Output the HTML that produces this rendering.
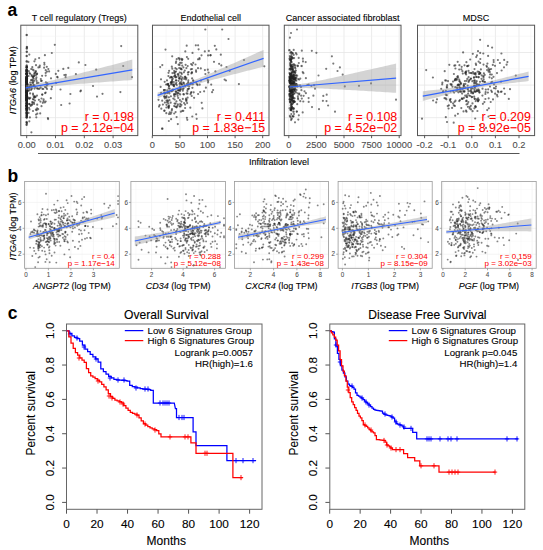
<!DOCTYPE html>
<html><head><meta charset="utf-8"><style>
html,body{margin:0;padding:0;background:#fff;}
svg{display:block;}
text{font-family:"Liberation Sans",sans-serif;}
</style></head><body>
<svg width="543" height="550" viewBox="0 0 543 550">
<rect width="543" height="550" fill="#fff"/>
<text x="7.60" y="15.90" font-size="17.5" text-anchor="start" fill="#000" font-weight="bold">a</text>
<text x="7.40" y="182.40" font-size="17.5" text-anchor="start" fill="#000" font-weight="bold">b</text>
<text x="7.70" y="319.00" font-size="17.5" text-anchor="start" fill="#000" font-weight="bold">c</text>
<rect x="20.8" y="25.2" width="117.00000000000001" height="110.39999999999999" fill="#fff"/>
<line x1="26.70" y1="25.2" x2="26.70" y2="135.6" stroke="#e6e6e6" stroke-width="0.8"/>
<line x1="41.10" y1="25.2" x2="41.10" y2="135.6" stroke="#f0f0f0" stroke-width="0.5"/>
<line x1="55.50" y1="25.2" x2="55.50" y2="135.6" stroke="#e6e6e6" stroke-width="0.8"/>
<line x1="69.90" y1="25.2" x2="69.90" y2="135.6" stroke="#f0f0f0" stroke-width="0.5"/>
<line x1="84.30" y1="25.2" x2="84.30" y2="135.6" stroke="#e6e6e6" stroke-width="0.8"/>
<line x1="98.70" y1="25.2" x2="98.70" y2="135.6" stroke="#f0f0f0" stroke-width="0.5"/>
<line x1="113.10" y1="25.2" x2="113.10" y2="135.6" stroke="#e6e6e6" stroke-width="0.8"/>
<line x1="127.50" y1="25.2" x2="127.50" y2="135.6" stroke="#f0f0f0" stroke-width="0.5"/>
<line x1="20.8" y1="52.50" x2="137.8" y2="52.50" stroke="#e6e6e6" stroke-width="0.8"/>
<line x1="20.8" y1="85.10" x2="137.8" y2="85.10" stroke="#e6e6e6" stroke-width="0.8"/>
<line x1="20.8" y1="117.70" x2="137.8" y2="117.70" stroke="#e6e6e6" stroke-width="0.8"/>
<line x1="20.8" y1="36.20" x2="137.8" y2="36.20" stroke="#f0f0f0" stroke-width="0.5"/>
<line x1="20.8" y1="68.80" x2="137.8" y2="68.80" stroke="#f0f0f0" stroke-width="0.5"/>
<line x1="20.8" y1="101.40" x2="137.8" y2="101.40" stroke="#f0f0f0" stroke-width="0.5"/>
<line x1="20.8" y1="134.00" x2="137.8" y2="134.00" stroke="#f0f0f0" stroke-width="0.5"/>
<g fill="#222" fill-opacity="0.62"><circle cx="31.4" cy="132.3" r="1.08"/><circle cx="39.1" cy="58.1" r="1.08"/><circle cx="32.8" cy="102.6" r="1.08"/><circle cx="26.7" cy="95.0" r="1.08"/><circle cx="26.6" cy="89.9" r="1.08"/><circle cx="61.2" cy="105.0" r="1.08"/><circle cx="26.7" cy="94.8" r="1.08"/><circle cx="31.0" cy="90.0" r="1.08"/><circle cx="38.2" cy="109.2" r="1.08"/><circle cx="26.7" cy="117.2" r="1.08"/><circle cx="26.6" cy="80.0" r="1.08"/><circle cx="26.8" cy="99.7" r="1.08"/><circle cx="26.8" cy="78.5" r="1.08"/><circle cx="26.8" cy="113.7" r="1.08"/><circle cx="26.7" cy="86.9" r="1.08"/><circle cx="43.6" cy="99.4" r="1.08"/><circle cx="39.7" cy="67.1" r="1.08"/><circle cx="30.3" cy="97.9" r="1.08"/><circle cx="34.5" cy="85.4" r="1.08"/><circle cx="54.8" cy="44.8" r="1.08"/><circle cx="26.6" cy="73.6" r="1.08"/><circle cx="26.8" cy="92.7" r="1.08"/><circle cx="57.6" cy="77.4" r="1.08"/><circle cx="26.7" cy="86.6" r="1.08"/><circle cx="26.8" cy="82.4" r="1.08"/><circle cx="26.6" cy="86.2" r="1.08"/><circle cx="26.6" cy="81.7" r="1.08"/><circle cx="37.4" cy="88.5" r="1.08"/><circle cx="33.0" cy="111.0" r="1.08"/><circle cx="26.7" cy="66.9" r="1.08"/><circle cx="26.8" cy="89.6" r="1.08"/><circle cx="26.7" cy="85.8" r="1.08"/><circle cx="26.6" cy="97.2" r="1.08"/><circle cx="26.6" cy="79.1" r="1.08"/><circle cx="46.8" cy="85.6" r="1.08"/><circle cx="26.7" cy="78.0" r="1.08"/><circle cx="26.5" cy="99.7" r="1.08"/><circle cx="26.8" cy="51.8" r="1.08"/><circle cx="29.9" cy="117.4" r="1.08"/><circle cx="26.8" cy="95.6" r="1.08"/><circle cx="26.7" cy="87.9" r="1.08"/><circle cx="40.8" cy="79.0" r="1.08"/><circle cx="26.6" cy="98.4" r="1.08"/><circle cx="35.7" cy="96.8" r="1.08"/><circle cx="33.5" cy="85.1" r="1.08"/><circle cx="42.1" cy="75.8" r="1.08"/><circle cx="26.6" cy="106.2" r="1.08"/><circle cx="34.4" cy="61.3" r="1.08"/><circle cx="26.6" cy="81.2" r="1.08"/><circle cx="41.5" cy="98.5" r="1.08"/><circle cx="26.8" cy="108.7" r="1.08"/><circle cx="30.1" cy="93.4" r="1.08"/><circle cx="26.8" cy="76.2" r="1.08"/><circle cx="26.7" cy="83.0" r="1.08"/><circle cx="26.6" cy="84.8" r="1.08"/><circle cx="26.7" cy="71.2" r="1.08"/><circle cx="34.6" cy="97.3" r="1.08"/><circle cx="26.7" cy="35.0" r="1.08"/><circle cx="70.4" cy="94.0" r="1.08"/><circle cx="33.0" cy="93.5" r="1.08"/><circle cx="37.1" cy="73.6" r="1.08"/><circle cx="40.7" cy="87.4" r="1.08"/><circle cx="30.4" cy="85.0" r="1.08"/><circle cx="26.7" cy="101.2" r="1.08"/><circle cx="26.8" cy="86.8" r="1.08"/><circle cx="26.6" cy="91.6" r="1.08"/><circle cx="26.7" cy="80.7" r="1.08"/><circle cx="26.6" cy="112.8" r="1.08"/><circle cx="33.3" cy="81.7" r="1.08"/><circle cx="26.8" cy="77.2" r="1.08"/><circle cx="37.2" cy="88.3" r="1.08"/><circle cx="26.8" cy="99.9" r="1.08"/><circle cx="80.4" cy="91.3" r="1.08"/><circle cx="46.8" cy="66.8" r="1.08"/><circle cx="26.7" cy="108.2" r="1.08"/><circle cx="29.0" cy="107.8" r="1.08"/><circle cx="33.1" cy="76.6" r="1.08"/><circle cx="75.9" cy="74.2" r="1.08"/><circle cx="29.3" cy="104.2" r="1.08"/><circle cx="26.7" cy="92.9" r="1.08"/><circle cx="26.6" cy="124.8" r="1.08"/><circle cx="47.0" cy="89.0" r="1.08"/><circle cx="29.2" cy="103.9" r="1.08"/><circle cx="26.8" cy="82.6" r="1.08"/><circle cx="45.7" cy="72.9" r="1.08"/><circle cx="45.7" cy="70.2" r="1.08"/><circle cx="33.7" cy="70.4" r="1.08"/><circle cx="26.8" cy="86.4" r="1.08"/><circle cx="26.6" cy="95.3" r="1.08"/><circle cx="26.6" cy="88.9" r="1.08"/><circle cx="26.7" cy="79.9" r="1.08"/><circle cx="132.0" cy="77.2" r="1.08"/><circle cx="26.6" cy="84.3" r="1.08"/><circle cx="31.7" cy="76.2" r="1.08"/><circle cx="26.6" cy="73.8" r="1.08"/><circle cx="28.6" cy="112.9" r="1.08"/><circle cx="26.7" cy="99.1" r="1.08"/><circle cx="26.6" cy="70.8" r="1.08"/><circle cx="26.6" cy="90.1" r="1.08"/><circle cx="26.7" cy="100.0" r="1.08"/><circle cx="51.4" cy="89.2" r="1.08"/><circle cx="38.9" cy="99.8" r="1.08"/><circle cx="26.6" cy="77.0" r="1.08"/><circle cx="28.4" cy="84.6" r="1.08"/><circle cx="97.0" cy="96.6" r="1.08"/><circle cx="26.8" cy="93.9" r="1.08"/><circle cx="28.8" cy="90.6" r="1.08"/><circle cx="35.9" cy="71.2" r="1.08"/><circle cx="26.7" cy="103.2" r="1.08"/><circle cx="26.7" cy="112.4" r="1.08"/><circle cx="47.9" cy="118.1" r="1.08"/><circle cx="65.6" cy="77.2" r="1.08"/><circle cx="26.6" cy="83.4" r="1.08"/><circle cx="65.8" cy="74.9" r="1.08"/><circle cx="26.6" cy="91.0" r="1.08"/><circle cx="28.4" cy="97.6" r="1.08"/><circle cx="28.6" cy="90.6" r="1.08"/><circle cx="26.8" cy="102.8" r="1.08"/><circle cx="26.6" cy="107.5" r="1.08"/><circle cx="29.5" cy="109.4" r="1.08"/><circle cx="26.7" cy="74.1" r="1.08"/><circle cx="34.6" cy="96.1" r="1.08"/><circle cx="36.0" cy="65.2" r="1.08"/><circle cx="26.7" cy="61.4" r="1.08"/><circle cx="31.4" cy="86.4" r="1.08"/><circle cx="26.8" cy="92.9" r="1.08"/><circle cx="26.6" cy="85.0" r="1.08"/><circle cx="26.7" cy="117.4" r="1.08"/><circle cx="26.6" cy="92.7" r="1.08"/><circle cx="26.6" cy="81.6" r="1.08"/><circle cx="38.4" cy="82.8" r="1.08"/><circle cx="45.9" cy="82.3" r="1.08"/><circle cx="26.7" cy="81.5" r="1.08"/><circle cx="26.6" cy="95.8" r="1.08"/><circle cx="47.0" cy="71.6" r="1.08"/><circle cx="26.7" cy="85.4" r="1.08"/><circle cx="39.6" cy="88.6" r="1.08"/><circle cx="26.7" cy="101.7" r="1.08"/><circle cx="33.7" cy="78.6" r="1.08"/><circle cx="37.0" cy="74.2" r="1.08"/><circle cx="29.0" cy="86.8" r="1.08"/><circle cx="31.9" cy="105.1" r="1.08"/><circle cx="26.8" cy="90.8" r="1.08"/><circle cx="35.9" cy="109.7" r="1.08"/><circle cx="26.7" cy="79.1" r="1.08"/><circle cx="51.0" cy="78.3" r="1.08"/><circle cx="26.7" cy="73.8" r="1.08"/><circle cx="26.7" cy="86.7" r="1.08"/><circle cx="26.6" cy="97.5" r="1.08"/><circle cx="78.8" cy="62.4" r="1.08"/><circle cx="26.6" cy="82.7" r="1.08"/><circle cx="30.2" cy="82.7" r="1.08"/><circle cx="32.3" cy="79.6" r="1.08"/><circle cx="34.5" cy="88.6" r="1.08"/><circle cx="51.8" cy="53.0" r="1.08"/><circle cx="45.1" cy="93.2" r="1.08"/><circle cx="26.6" cy="69.3" r="1.08"/><circle cx="26.7" cy="92.4" r="1.08"/><circle cx="26.7" cy="91.3" r="1.08"/><circle cx="26.7" cy="82.8" r="1.08"/><circle cx="26.7" cy="78.4" r="1.08"/><circle cx="68.3" cy="67.9" r="1.08"/><circle cx="29.8" cy="87.5" r="1.08"/><circle cx="26.6" cy="74.2" r="1.08"/><circle cx="42.1" cy="94.6" r="1.08"/><circle cx="26.7" cy="98.5" r="1.08"/><circle cx="36.0" cy="75.0" r="1.08"/><circle cx="30.2" cy="73.8" r="1.08"/><circle cx="26.7" cy="104.0" r="1.08"/><circle cx="121.2" cy="46.1" r="1.08"/><circle cx="26.7" cy="79.3" r="1.08"/><circle cx="31.0" cy="80.2" r="1.08"/><circle cx="28.6" cy="76.0" r="1.08"/><circle cx="26.7" cy="95.2" r="1.08"/><circle cx="26.7" cy="116.0" r="1.08"/><circle cx="26.7" cy="83.9" r="1.08"/><circle cx="45.7" cy="101.5" r="1.08"/><circle cx="46.3" cy="87.7" r="1.08"/><circle cx="30.7" cy="106.0" r="1.08"/><circle cx="26.7" cy="81.9" r="1.08"/><circle cx="33.4" cy="85.7" r="1.08"/><circle cx="37.1" cy="108.3" r="1.08"/><circle cx="38.6" cy="89.0" r="1.08"/><circle cx="29.3" cy="89.0" r="1.08"/><circle cx="35.5" cy="73.1" r="1.08"/><circle cx="26.7" cy="90.8" r="1.08"/><circle cx="26.7" cy="98.4" r="1.08"/><circle cx="26.6" cy="110.8" r="1.08"/><circle cx="26.7" cy="56.0" r="1.08"/><circle cx="26.8" cy="104.0" r="1.08"/><circle cx="26.7" cy="97.5" r="1.08"/><circle cx="29.3" cy="54.6" r="1.08"/><circle cx="26.6" cy="92.0" r="1.08"/><circle cx="33.7" cy="96.9" r="1.08"/><circle cx="26.8" cy="79.5" r="1.08"/><circle cx="31.7" cy="88.8" r="1.08"/><circle cx="26.7" cy="73.7" r="1.08"/><circle cx="26.6" cy="105.6" r="1.08"/><circle cx="96.2" cy="69.7" r="1.08"/><circle cx="50.8" cy="98.2" r="1.08"/><circle cx="35.3" cy="59.3" r="1.08"/><circle cx="34.6" cy="97.4" r="1.08"/><circle cx="36.9" cy="83.2" r="1.08"/><circle cx="26.6" cy="100.3" r="1.08"/><circle cx="49.1" cy="71.4" r="1.08"/><circle cx="26.8" cy="48.4" r="1.08"/><circle cx="48.1" cy="119.1" r="1.08"/><circle cx="31.7" cy="75.0" r="1.08"/><circle cx="55.8" cy="73.9" r="1.08"/><circle cx="26.8" cy="100.5" r="1.08"/><circle cx="26.7" cy="92.9" r="1.08"/><circle cx="26.7" cy="85.8" r="1.08"/><circle cx="26.6" cy="105.5" r="1.08"/><circle cx="33.0" cy="76.7" r="1.08"/><circle cx="28.4" cy="61.9" r="1.08"/><circle cx="26.7" cy="91.5" r="1.08"/><circle cx="44.8" cy="102.5" r="1.08"/><circle cx="33.6" cy="99.5" r="1.08"/><circle cx="26.6" cy="122.1" r="1.08"/><circle cx="34.1" cy="74.1" r="1.08"/><circle cx="47.3" cy="83.0" r="1.08"/><circle cx="26.7" cy="87.9" r="1.08"/><circle cx="44.4" cy="64.6" r="1.08"/><circle cx="32.2" cy="102.1" r="1.08"/><circle cx="45.7" cy="75.6" r="1.08"/><circle cx="26.7" cy="78.7" r="1.08"/><circle cx="45.0" cy="86.9" r="1.08"/><circle cx="33.1" cy="77.6" r="1.08"/><circle cx="33.0" cy="99.2" r="1.08"/><circle cx="37.3" cy="113.7" r="1.08"/><circle cx="26.7" cy="99.9" r="1.08"/><circle cx="44.1" cy="67.7" r="1.08"/><circle cx="60.5" cy="89.5" r="1.08"/><circle cx="69.6" cy="103.5" r="1.08"/><circle cx="26.6" cy="90.4" r="1.08"/><circle cx="26.5" cy="105.3" r="1.08"/><circle cx="43.6" cy="101.2" r="1.08"/><circle cx="26.8" cy="96.8" r="1.08"/><circle cx="28.8" cy="71.2" r="1.08"/><circle cx="36.7" cy="81.1" r="1.08"/><circle cx="26.7" cy="96.8" r="1.08"/><circle cx="26.8" cy="110.0" r="1.08"/><circle cx="26.5" cy="97.1" r="1.08"/><circle cx="30.5" cy="104.8" r="1.08"/><circle cx="26.7" cy="98.0" r="1.08"/><circle cx="26.8" cy="113.4" r="1.08"/><circle cx="26.8" cy="67.3" r="1.08"/><circle cx="35.0" cy="100.5" r="1.08"/><circle cx="45.7" cy="92.6" r="1.08"/><circle cx="26.7" cy="87.5" r="1.08"/><circle cx="26.8" cy="78.9" r="1.08"/><circle cx="34.6" cy="72.8" r="1.08"/><circle cx="26.7" cy="86.2" r="1.08"/><circle cx="26.8" cy="82.4" r="1.08"/><circle cx="26.9" cy="97.2" r="1.08"/><circle cx="26.7" cy="72.6" r="1.08"/><circle cx="26.7" cy="108.9" r="1.08"/><circle cx="32.2" cy="82.7" r="1.08"/><circle cx="39.8" cy="65.5" r="1.08"/><circle cx="26.7" cy="82.1" r="1.08"/><circle cx="26.8" cy="81.2" r="1.08"/><circle cx="41.0" cy="80.9" r="1.08"/><circle cx="26.7" cy="84.2" r="1.08"/><circle cx="26.7" cy="91.1" r="1.08"/><circle cx="26.8" cy="88.8" r="1.08"/><circle cx="26.8" cy="73.3" r="1.08"/><circle cx="85.4" cy="65.0" r="1.08"/><circle cx="26.6" cy="79.8" r="1.08"/><circle cx="26.7" cy="93.0" r="1.08"/><circle cx="44.3" cy="62.8" r="1.08"/><circle cx="36.0" cy="114.6" r="1.08"/><circle cx="26.8" cy="87.1" r="1.08"/><circle cx="26.7" cy="70.7" r="1.08"/><circle cx="43.3" cy="89.0" r="1.08"/><circle cx="26.7" cy="69.9" r="1.08"/><circle cx="32.4" cy="80.5" r="1.08"/><circle cx="26.7" cy="81.4" r="1.08"/><circle cx="34.1" cy="76.0" r="1.08"/><circle cx="32.2" cy="104.2" r="1.08"/><circle cx="34.5" cy="75.6" r="1.08"/><circle cx="41.8" cy="80.8" r="1.08"/><circle cx="26.6" cy="82.4" r="1.08"/><circle cx="26.8" cy="86.7" r="1.08"/><circle cx="26.7" cy="80.9" r="1.08"/><circle cx="29.3" cy="121.3" r="1.08"/><circle cx="26.7" cy="78.2" r="1.08"/><circle cx="26.7" cy="76.8" r="1.08"/><circle cx="29.5" cy="98.7" r="1.08"/><circle cx="32.7" cy="69.6" r="1.08"/><circle cx="34.1" cy="104.0" r="1.08"/><circle cx="26.8" cy="123.1" r="1.08"/><circle cx="26.9" cy="78.6" r="1.08"/><circle cx="36.4" cy="77.4" r="1.08"/><circle cx="42.4" cy="88.8" r="1.08"/><circle cx="35.4" cy="87.2" r="1.08"/><circle cx="63.3" cy="68.9" r="1.08"/><circle cx="42.4" cy="94.6" r="1.08"/><circle cx="44.9" cy="55.2" r="1.08"/><circle cx="34.3" cy="80.6" r="1.08"/><circle cx="26.7" cy="67.2" r="1.08"/><circle cx="33.2" cy="83.1" r="1.08"/><circle cx="26.6" cy="95.1" r="1.08"/><circle cx="31.2" cy="69.0" r="1.08"/><circle cx="37.0" cy="95.6" r="1.08"/><circle cx="31.0" cy="84.8" r="1.08"/><circle cx="26.7" cy="92.9" r="1.08"/><circle cx="26.7" cy="96.2" r="1.08"/><circle cx="26.7" cy="99.7" r="1.08"/><circle cx="26.7" cy="65.6" r="1.08"/><circle cx="29.5" cy="73.2" r="1.08"/><circle cx="31.7" cy="88.4" r="1.08"/><circle cx="26.7" cy="103.3" r="1.08"/><circle cx="34.0" cy="102.6" r="1.08"/><circle cx="36.7" cy="110.2" r="1.08"/><circle cx="26.7" cy="89.5" r="1.08"/><circle cx="48.3" cy="69.1" r="1.08"/><circle cx="120.4" cy="92.1" r="1.08"/><circle cx="26.7" cy="103.1" r="1.08"/><circle cx="26.8" cy="81.0" r="1.08"/><circle cx="28.3" cy="88.0" r="1.08"/><circle cx="37.2" cy="104.7" r="1.08"/><circle cx="26.7" cy="89.0" r="1.08"/><circle cx="29.1" cy="98.5" r="1.08"/><circle cx="33.1" cy="94.8" r="1.08"/><circle cx="93.0" cy="86.0" r="1.08"/><circle cx="26.8" cy="114.6" r="1.08"/><circle cx="26.9" cy="75.9" r="1.08"/><circle cx="102.5" cy="93.8" r="1.08"/><circle cx="26.7" cy="80.9" r="1.08"/><circle cx="26.8" cy="106.0" r="1.08"/><circle cx="56.1" cy="82.9" r="1.08"/><circle cx="26.8" cy="95.2" r="1.08"/><circle cx="29.4" cy="86.3" r="1.08"/><circle cx="26.9" cy="47.0" r="1.08"/><circle cx="36.3" cy="117.3" r="1.08"/><circle cx="26.7" cy="79.6" r="1.08"/><circle cx="38.4" cy="67.4" r="1.08"/><circle cx="26.5" cy="108.7" r="1.08"/><circle cx="26.8" cy="91.9" r="1.08"/><circle cx="26.7" cy="99.1" r="1.08"/><circle cx="26.7" cy="100.4" r="1.08"/><circle cx="26.8" cy="110.4" r="1.08"/><circle cx="35.5" cy="71.9" r="1.08"/><circle cx="26.6" cy="105.8" r="1.08"/><circle cx="26.7" cy="86.3" r="1.08"/><circle cx="40.2" cy="113.4" r="1.08"/><circle cx="123.2" cy="66.0" r="1.08"/><circle cx="80.9" cy="90.6" r="1.08"/><circle cx="26.7" cy="78.7" r="1.08"/><circle cx="26.5" cy="71.0" r="1.08"/><circle cx="26.8" cy="79.2" r="1.08"/><circle cx="26.7" cy="109.2" r="1.08"/><circle cx="26.8" cy="115.5" r="1.08"/><circle cx="26.9" cy="99.1" r="1.08"/><circle cx="26.7" cy="105.8" r="1.08"/><circle cx="26.6" cy="84.5" r="1.08"/><circle cx="32.3" cy="67.2" r="1.08"/><circle cx="26.6" cy="94.5" r="1.08"/><circle cx="26.7" cy="77.5" r="1.08"/><circle cx="40.4" cy="101.6" r="1.08"/><circle cx="26.5" cy="92.2" r="1.08"/><circle cx="36.1" cy="79.1" r="1.08"/><circle cx="26.6" cy="77.7" r="1.08"/><circle cx="26.7" cy="95.8" r="1.08"/><circle cx="47.8" cy="84.5" r="1.08"/><circle cx="46.5" cy="84.3" r="1.08"/><circle cx="26.7" cy="90.9" r="1.08"/><circle cx="42.8" cy="102.8" r="1.08"/><circle cx="52.0" cy="86.8" r="1.08"/><circle cx="26.6" cy="88.9" r="1.08"/><circle cx="26.7" cy="82.6" r="1.08"/><circle cx="26.8" cy="86.0" r="1.08"/><circle cx="58.3" cy="70.8" r="1.08"/><circle cx="57.2" cy="76.8" r="1.08"/><circle cx="26.8" cy="107.1" r="1.08"/><circle cx="64.3" cy="75.0" r="1.08"/><circle cx="26.8" cy="86.1" r="1.08"/><circle cx="26.7" cy="85.8" r="1.08"/><circle cx="26.7" cy="93.1" r="1.08"/><circle cx="41.5" cy="106.2" r="1.08"/></g>
<g fill="#222" fill-opacity="0.45"><circle cx="26.7" cy="95.0" r="1.2"/><circle cx="26.6" cy="89.9" r="1.2"/><circle cx="26.7" cy="94.8" r="1.2"/><circle cx="26.7" cy="117.2" r="1.2"/><circle cx="26.6" cy="80.0" r="1.2"/><circle cx="26.8" cy="99.7" r="1.2"/><circle cx="26.8" cy="78.5" r="1.2"/><circle cx="26.8" cy="113.7" r="1.2"/><circle cx="26.7" cy="86.9" r="1.2"/><circle cx="26.6" cy="73.6" r="1.2"/><circle cx="26.8" cy="92.7" r="1.2"/><circle cx="26.7" cy="86.6" r="1.2"/><circle cx="26.8" cy="82.4" r="1.2"/><circle cx="26.6" cy="86.2" r="1.2"/><circle cx="26.6" cy="81.7" r="1.2"/><circle cx="26.7" cy="66.9" r="1.2"/><circle cx="26.8" cy="89.6" r="1.2"/><circle cx="26.7" cy="85.8" r="1.2"/><circle cx="26.6" cy="97.2" r="1.2"/><circle cx="26.6" cy="79.1" r="1.2"/><circle cx="26.7" cy="78.0" r="1.2"/><circle cx="26.5" cy="99.7" r="1.2"/><circle cx="26.8" cy="51.8" r="1.2"/><circle cx="26.8" cy="95.6" r="1.2"/><circle cx="26.7" cy="87.9" r="1.2"/><circle cx="26.6" cy="98.4" r="1.2"/><circle cx="26.6" cy="106.2" r="1.2"/><circle cx="26.6" cy="81.2" r="1.2"/><circle cx="26.8" cy="108.7" r="1.2"/><circle cx="26.8" cy="76.2" r="1.2"/><circle cx="26.7" cy="83.0" r="1.2"/><circle cx="26.6" cy="84.8" r="1.2"/><circle cx="26.7" cy="71.2" r="1.2"/><circle cx="26.7" cy="35.0" r="1.2"/><circle cx="26.7" cy="101.2" r="1.2"/><circle cx="26.8" cy="86.8" r="1.2"/><circle cx="26.6" cy="91.6" r="1.2"/><circle cx="26.7" cy="80.7" r="1.2"/><circle cx="26.6" cy="112.8" r="1.2"/><circle cx="26.8" cy="77.2" r="1.2"/><circle cx="26.8" cy="99.9" r="1.2"/><circle cx="26.7" cy="108.2" r="1.2"/><circle cx="26.7" cy="92.9" r="1.2"/><circle cx="26.6" cy="124.8" r="1.2"/><circle cx="26.8" cy="82.6" r="1.2"/><circle cx="26.8" cy="86.4" r="1.2"/><circle cx="26.6" cy="95.3" r="1.2"/><circle cx="26.6" cy="88.9" r="1.2"/><circle cx="26.7" cy="79.9" r="1.2"/><circle cx="26.6" cy="84.3" r="1.2"/><circle cx="26.6" cy="73.8" r="1.2"/><circle cx="26.7" cy="99.1" r="1.2"/><circle cx="26.6" cy="70.8" r="1.2"/><circle cx="26.6" cy="90.1" r="1.2"/><circle cx="26.7" cy="100.0" r="1.2"/><circle cx="26.6" cy="77.0" r="1.2"/><circle cx="26.8" cy="93.9" r="1.2"/><circle cx="26.7" cy="103.2" r="1.2"/><circle cx="26.7" cy="112.4" r="1.2"/><circle cx="26.6" cy="83.4" r="1.2"/><circle cx="26.6" cy="91.0" r="1.2"/><circle cx="26.8" cy="102.8" r="1.2"/><circle cx="26.6" cy="107.5" r="1.2"/><circle cx="26.7" cy="74.1" r="1.2"/><circle cx="26.7" cy="61.4" r="1.2"/><circle cx="26.8" cy="92.9" r="1.2"/><circle cx="26.6" cy="85.0" r="1.2"/><circle cx="26.7" cy="117.4" r="1.2"/><circle cx="26.6" cy="92.7" r="1.2"/><circle cx="26.6" cy="81.6" r="1.2"/><circle cx="26.7" cy="81.5" r="1.2"/><circle cx="26.6" cy="95.8" r="1.2"/><circle cx="26.7" cy="85.4" r="1.2"/><circle cx="26.7" cy="101.7" r="1.2"/><circle cx="26.8" cy="90.8" r="1.2"/><circle cx="26.7" cy="79.1" r="1.2"/><circle cx="26.7" cy="73.8" r="1.2"/><circle cx="26.7" cy="86.7" r="1.2"/><circle cx="26.6" cy="97.5" r="1.2"/><circle cx="26.6" cy="82.7" r="1.2"/><circle cx="26.6" cy="69.3" r="1.2"/><circle cx="26.7" cy="92.4" r="1.2"/><circle cx="26.7" cy="91.3" r="1.2"/><circle cx="26.7" cy="82.8" r="1.2"/><circle cx="26.7" cy="78.4" r="1.2"/><circle cx="26.6" cy="74.2" r="1.2"/><circle cx="26.7" cy="98.5" r="1.2"/><circle cx="26.7" cy="104.0" r="1.2"/><circle cx="26.7" cy="79.3" r="1.2"/><circle cx="26.7" cy="95.2" r="1.2"/><circle cx="26.7" cy="116.0" r="1.2"/><circle cx="26.7" cy="83.9" r="1.2"/><circle cx="26.7" cy="81.9" r="1.2"/><circle cx="26.7" cy="90.8" r="1.2"/><circle cx="26.7" cy="98.4" r="1.2"/><circle cx="26.6" cy="110.8" r="1.2"/><circle cx="26.7" cy="56.0" r="1.2"/><circle cx="26.8" cy="104.0" r="1.2"/><circle cx="26.7" cy="97.5" r="1.2"/><circle cx="26.6" cy="92.0" r="1.2"/><circle cx="26.8" cy="79.5" r="1.2"/><circle cx="26.7" cy="73.7" r="1.2"/><circle cx="26.6" cy="105.6" r="1.2"/><circle cx="26.6" cy="100.3" r="1.2"/><circle cx="26.8" cy="48.4" r="1.2"/><circle cx="26.8" cy="100.5" r="1.2"/><circle cx="26.7" cy="92.9" r="1.2"/><circle cx="26.7" cy="85.8" r="1.2"/><circle cx="26.6" cy="105.5" r="1.2"/><circle cx="26.7" cy="91.5" r="1.2"/><circle cx="26.6" cy="122.1" r="1.2"/><circle cx="26.7" cy="87.9" r="1.2"/><circle cx="26.7" cy="78.7" r="1.2"/><circle cx="26.7" cy="99.9" r="1.2"/><circle cx="26.6" cy="90.4" r="1.2"/><circle cx="26.5" cy="105.3" r="1.2"/><circle cx="26.8" cy="96.8" r="1.2"/><circle cx="26.7" cy="96.8" r="1.2"/><circle cx="26.8" cy="110.0" r="1.2"/><circle cx="26.5" cy="97.1" r="1.2"/><circle cx="26.7" cy="98.0" r="1.2"/><circle cx="26.8" cy="113.4" r="1.2"/><circle cx="26.8" cy="67.3" r="1.2"/><circle cx="26.7" cy="87.5" r="1.2"/><circle cx="26.8" cy="78.9" r="1.2"/><circle cx="26.7" cy="86.2" r="1.2"/><circle cx="26.8" cy="82.4" r="1.2"/><circle cx="26.9" cy="97.2" r="1.2"/><circle cx="26.7" cy="72.6" r="1.2"/><circle cx="26.7" cy="108.9" r="1.2"/><circle cx="26.7" cy="82.1" r="1.2"/><circle cx="26.8" cy="81.2" r="1.2"/><circle cx="26.7" cy="84.2" r="1.2"/><circle cx="26.7" cy="91.1" r="1.2"/><circle cx="26.8" cy="88.8" r="1.2"/><circle cx="26.8" cy="73.3" r="1.2"/><circle cx="26.6" cy="79.8" r="1.2"/><circle cx="26.7" cy="93.0" r="1.2"/><circle cx="26.8" cy="87.1" r="1.2"/><circle cx="26.7" cy="70.7" r="1.2"/><circle cx="26.7" cy="69.9" r="1.2"/><circle cx="26.7" cy="81.4" r="1.2"/><circle cx="26.6" cy="82.4" r="1.2"/><circle cx="26.8" cy="86.7" r="1.2"/><circle cx="26.7" cy="80.9" r="1.2"/><circle cx="26.7" cy="78.2" r="1.2"/><circle cx="26.7" cy="76.8" r="1.2"/><circle cx="26.8" cy="123.1" r="1.2"/><circle cx="26.9" cy="78.6" r="1.2"/><circle cx="26.7" cy="67.2" r="1.2"/><circle cx="26.6" cy="95.1" r="1.2"/><circle cx="26.7" cy="92.9" r="1.2"/><circle cx="26.7" cy="96.2" r="1.2"/><circle cx="26.7" cy="99.7" r="1.2"/><circle cx="26.7" cy="65.6" r="1.2"/><circle cx="26.7" cy="103.3" r="1.2"/><circle cx="26.7" cy="89.5" r="1.2"/><circle cx="26.7" cy="103.1" r="1.2"/><circle cx="26.8" cy="81.0" r="1.2"/><circle cx="26.7" cy="89.0" r="1.2"/><circle cx="26.8" cy="114.6" r="1.2"/><circle cx="26.9" cy="75.9" r="1.2"/><circle cx="26.7" cy="80.9" r="1.2"/><circle cx="26.8" cy="106.0" r="1.2"/><circle cx="26.8" cy="95.2" r="1.2"/><circle cx="26.9" cy="47.0" r="1.2"/><circle cx="26.7" cy="79.6" r="1.2"/><circle cx="26.5" cy="108.7" r="1.2"/><circle cx="26.8" cy="91.9" r="1.2"/><circle cx="26.7" cy="99.1" r="1.2"/><circle cx="26.7" cy="100.4" r="1.2"/><circle cx="26.8" cy="110.4" r="1.2"/><circle cx="26.6" cy="105.8" r="1.2"/><circle cx="26.7" cy="86.3" r="1.2"/><circle cx="26.7" cy="78.7" r="1.2"/><circle cx="26.5" cy="71.0" r="1.2"/><circle cx="26.8" cy="79.2" r="1.2"/><circle cx="26.7" cy="109.2" r="1.2"/><circle cx="26.8" cy="115.5" r="1.2"/><circle cx="26.9" cy="99.1" r="1.2"/><circle cx="26.7" cy="105.8" r="1.2"/><circle cx="26.6" cy="84.5" r="1.2"/><circle cx="26.6" cy="94.5" r="1.2"/><circle cx="26.7" cy="77.5" r="1.2"/><circle cx="26.5" cy="92.2" r="1.2"/><circle cx="26.6" cy="77.7" r="1.2"/><circle cx="26.7" cy="95.8" r="1.2"/><circle cx="26.7" cy="90.9" r="1.2"/><circle cx="26.6" cy="88.9" r="1.2"/><circle cx="26.7" cy="82.6" r="1.2"/><circle cx="26.8" cy="86.0" r="1.2"/><circle cx="26.8" cy="107.1" r="1.2"/><circle cx="26.8" cy="86.1" r="1.2"/><circle cx="26.7" cy="85.8" r="1.2"/><circle cx="26.7" cy="93.1" r="1.2"/></g>
<path d="M25.80,85.30 L28.53,85.04 L31.26,84.67 L33.99,84.21 L36.72,83.70 L39.45,83.17 L42.18,82.61 L44.92,82.02 L47.65,81.41 L50.38,80.79 L53.11,80.15 L55.84,79.49 L58.57,78.83 L61.30,78.15 L64.03,77.47 L66.76,76.78 L69.49,76.09 L72.22,75.39 L74.95,74.69 L77.68,73.99 L80.42,73.28 L83.15,72.57 L85.88,71.86 L88.61,71.15 L91.34,70.43 L94.07,69.72 L96.80,69.00 L99.53,68.28 L102.26,67.56 L104.99,66.84 L107.72,66.12 L110.45,65.40 L113.18,64.67 L115.92,63.95 L118.65,63.23 L121.38,62.50 L124.11,61.78 L126.84,61.05 L129.57,60.33 L132.30,59.60 L132.30,80.00 L129.57,80.20 L126.84,80.39 L124.11,80.59 L121.38,80.79 L118.65,80.99 L115.92,81.19 L113.18,81.39 L110.45,81.59 L107.72,81.79 L104.99,81.99 L102.26,82.19 L99.53,82.40 L96.80,82.60 L94.07,82.81 L91.34,83.01 L88.61,83.22 L85.88,83.43 L83.15,83.64 L80.42,83.86 L77.68,84.07 L74.95,84.29 L72.22,84.51 L69.49,84.74 L66.76,84.97 L64.03,85.21 L61.30,85.45 L58.57,85.70 L55.84,85.95 L53.11,86.22 L50.38,86.50 L47.65,86.80 L44.92,87.12 L42.18,87.45 L39.45,87.81 L36.72,88.20 L33.99,88.62 L31.26,89.08 L28.53,89.64 L25.80,90.30Z" fill="#999" fill-opacity="0.42"/>
<line x1="25.8" y1="87.8" x2="132.3" y2="69.8" stroke="#3366ff" stroke-width="1.25"/>
<rect x="20.8" y="25.2" width="117.00000000000001" height="110.39999999999999" fill="none" stroke="#555" stroke-width="1.0"/>
<line x1="26.70" y1="135.6" x2="26.70" y2="138.2" stroke="#444" stroke-width="0.9"/>
<text x="26.70" y="147.60" font-size="9.3" text-anchor="middle" fill="#4d4d4d" font-weight="normal" stroke="#4d4d4d" stroke-width="0.101">0.00</text>
<line x1="55.50" y1="135.6" x2="55.50" y2="138.2" stroke="#444" stroke-width="0.9"/>
<text x="55.50" y="147.60" font-size="9.3" text-anchor="middle" fill="#4d4d4d" font-weight="normal" stroke="#4d4d4d" stroke-width="0.101">0.01</text>
<line x1="84.30" y1="135.6" x2="84.30" y2="138.2" stroke="#444" stroke-width="0.9"/>
<text x="84.30" y="147.60" font-size="9.3" text-anchor="middle" fill="#4d4d4d" font-weight="normal" stroke="#4d4d4d" stroke-width="0.101">0.02</text>
<line x1="113.10" y1="135.6" x2="113.10" y2="138.2" stroke="#444" stroke-width="0.9"/>
<text x="113.10" y="147.60" font-size="9.3" text-anchor="middle" fill="#4d4d4d" font-weight="normal" stroke="#4d4d4d" stroke-width="0.101">0.03</text>
<text x="79.30" y="21.40" font-size="9.0" text-anchor="middle" fill="#000" font-weight="normal" stroke="#000" stroke-width="0.097">T cell regulatory (Tregs)</text>
<text x="134.00" y="121.40" font-size="12.4" text-anchor="end" fill="#ff0000" font-weight="normal" stroke="#ff0000" stroke-width="0.060">r = 0.198</text>
<text x="134.00" y="132.10" font-size="12.4" text-anchor="end" fill="#ff0000" font-weight="normal" stroke="#ff0000" stroke-width="0.060">p = 2.12e−04</text>
<rect x="152.5" y="25.2" width="116.5" height="110.39999999999999" fill="#fff"/>
<line x1="152.30" y1="25.2" x2="152.30" y2="135.6" stroke="#e6e6e6" stroke-width="0.8"/>
<line x1="166.10" y1="25.2" x2="166.10" y2="135.6" stroke="#f0f0f0" stroke-width="0.5"/>
<line x1="179.90" y1="25.2" x2="179.90" y2="135.6" stroke="#e6e6e6" stroke-width="0.8"/>
<line x1="193.70" y1="25.2" x2="193.70" y2="135.6" stroke="#f0f0f0" stroke-width="0.5"/>
<line x1="207.50" y1="25.2" x2="207.50" y2="135.6" stroke="#e6e6e6" stroke-width="0.8"/>
<line x1="221.30" y1="25.2" x2="221.30" y2="135.6" stroke="#f0f0f0" stroke-width="0.5"/>
<line x1="235.10" y1="25.2" x2="235.10" y2="135.6" stroke="#e6e6e6" stroke-width="0.8"/>
<line x1="248.90" y1="25.2" x2="248.90" y2="135.6" stroke="#f0f0f0" stroke-width="0.5"/>
<line x1="262.70" y1="25.2" x2="262.70" y2="135.6" stroke="#e6e6e6" stroke-width="0.8"/>
<line x1="152.5" y1="52.50" x2="269.0" y2="52.50" stroke="#e6e6e6" stroke-width="0.8"/>
<line x1="152.5" y1="85.10" x2="269.0" y2="85.10" stroke="#e6e6e6" stroke-width="0.8"/>
<line x1="152.5" y1="117.70" x2="269.0" y2="117.70" stroke="#e6e6e6" stroke-width="0.8"/>
<line x1="152.5" y1="36.20" x2="269.0" y2="36.20" stroke="#f0f0f0" stroke-width="0.5"/>
<line x1="152.5" y1="68.80" x2="269.0" y2="68.80" stroke="#f0f0f0" stroke-width="0.5"/>
<line x1="152.5" y1="101.40" x2="269.0" y2="101.40" stroke="#f0f0f0" stroke-width="0.5"/>
<line x1="152.5" y1="134.00" x2="269.0" y2="134.00" stroke="#f0f0f0" stroke-width="0.5"/>
<g fill="#222" fill-opacity="0.62"><circle cx="174.2" cy="113.5" r="1.08"/><circle cx="171.3" cy="112.6" r="1.08"/><circle cx="177.8" cy="124.1" r="1.08"/><circle cx="166.5" cy="97.7" r="1.08"/><circle cx="177.9" cy="90.3" r="1.08"/><circle cx="200.2" cy="92.0" r="1.08"/><circle cx="188.2" cy="82.2" r="1.08"/><circle cx="183.8" cy="83.1" r="1.08"/><circle cx="172.4" cy="73.1" r="1.08"/><circle cx="224.6" cy="79.6" r="1.08"/><circle cx="180.8" cy="68.4" r="1.08"/><circle cx="167.6" cy="100.4" r="1.08"/><circle cx="228.5" cy="39.0" r="1.08"/><circle cx="226.0" cy="80.5" r="1.08"/><circle cx="181.0" cy="69.0" r="1.08"/><circle cx="190.5" cy="94.2" r="1.08"/><circle cx="186.9" cy="57.1" r="1.08"/><circle cx="182.6" cy="77.7" r="1.08"/><circle cx="194.1" cy="97.8" r="1.08"/><circle cx="171.7" cy="77.3" r="1.08"/><circle cx="171.8" cy="91.2" r="1.08"/><circle cx="168.4" cy="84.1" r="1.08"/><circle cx="186.7" cy="45.7" r="1.08"/><circle cx="180.0" cy="90.9" r="1.08"/><circle cx="178.8" cy="93.5" r="1.08"/><circle cx="198.0" cy="59.3" r="1.08"/><circle cx="173.3" cy="98.5" r="1.08"/><circle cx="177.7" cy="74.4" r="1.08"/><circle cx="187.7" cy="66.1" r="1.08"/><circle cx="221.3" cy="65.4" r="1.08"/><circle cx="220.8" cy="54.7" r="1.08"/><circle cx="192.3" cy="116.5" r="1.08"/><circle cx="182.0" cy="60.1" r="1.08"/><circle cx="191.4" cy="92.1" r="1.08"/><circle cx="191.7" cy="96.0" r="1.08"/><circle cx="198.1" cy="45.3" r="1.08"/><circle cx="179.5" cy="58.5" r="1.08"/><circle cx="164.9" cy="102.6" r="1.08"/><circle cx="192.0" cy="72.3" r="1.08"/><circle cx="174.0" cy="95.1" r="1.08"/><circle cx="180.2" cy="104.1" r="1.08"/><circle cx="171.0" cy="84.5" r="1.08"/><circle cx="183.4" cy="67.3" r="1.08"/><circle cx="165.5" cy="49.6" r="1.08"/><circle cx="176.0" cy="91.3" r="1.08"/><circle cx="192.2" cy="65.1" r="1.08"/><circle cx="176.8" cy="92.6" r="1.08"/><circle cx="175.7" cy="91.9" r="1.08"/><circle cx="204.8" cy="51.4" r="1.08"/><circle cx="238.9" cy="84.1" r="1.08"/><circle cx="177.9" cy="104.4" r="1.08"/><circle cx="176.4" cy="101.4" r="1.08"/><circle cx="168.5" cy="72.8" r="1.08"/><circle cx="185.3" cy="76.8" r="1.08"/><circle cx="198.0" cy="68.2" r="1.08"/><circle cx="185.0" cy="76.9" r="1.08"/><circle cx="174.2" cy="70.9" r="1.08"/><circle cx="189.0" cy="88.5" r="1.08"/><circle cx="180.8" cy="89.3" r="1.08"/><circle cx="175.4" cy="94.1" r="1.08"/><circle cx="168.0" cy="83.9" r="1.08"/><circle cx="187.1" cy="103.1" r="1.08"/><circle cx="180.7" cy="88.7" r="1.08"/><circle cx="205.3" cy="29.5" r="1.08"/><circle cx="172.0" cy="79.8" r="1.08"/><circle cx="181.8" cy="84.2" r="1.08"/><circle cx="187.6" cy="97.7" r="1.08"/><circle cx="173.5" cy="84.5" r="1.08"/><circle cx="175.8" cy="84.1" r="1.08"/><circle cx="176.5" cy="77.1" r="1.08"/><circle cx="186.6" cy="93.4" r="1.08"/><circle cx="214.0" cy="61.8" r="1.08"/><circle cx="188.7" cy="72.0" r="1.08"/><circle cx="164.7" cy="81.8" r="1.08"/><circle cx="169.5" cy="100.2" r="1.08"/><circle cx="179.4" cy="77.8" r="1.08"/><circle cx="192.5" cy="52.9" r="1.08"/><circle cx="183.4" cy="94.2" r="1.08"/><circle cx="190.9" cy="69.3" r="1.08"/><circle cx="170.9" cy="96.3" r="1.08"/><circle cx="244.0" cy="60.0" r="1.08"/><circle cx="176.3" cy="107.1" r="1.08"/><circle cx="164.4" cy="110.5" r="1.08"/><circle cx="180.8" cy="76.4" r="1.08"/><circle cx="219.1" cy="63.8" r="1.08"/><circle cx="169.1" cy="70.8" r="1.08"/><circle cx="190.3" cy="107.7" r="1.08"/><circle cx="187.7" cy="89.2" r="1.08"/><circle cx="212.1" cy="92.2" r="1.08"/><circle cx="185.4" cy="78.2" r="1.08"/><circle cx="195.8" cy="45.3" r="1.08"/><circle cx="185.1" cy="108.0" r="1.08"/><circle cx="188.3" cy="83.4" r="1.08"/><circle cx="169.4" cy="93.4" r="1.08"/><circle cx="167.6" cy="93.1" r="1.08"/><circle cx="183.9" cy="94.4" r="1.08"/><circle cx="180.2" cy="94.4" r="1.08"/><circle cx="182.4" cy="59.3" r="1.08"/><circle cx="204.1" cy="91.3" r="1.08"/><circle cx="166.1" cy="84.5" r="1.08"/><circle cx="179.7" cy="78.7" r="1.08"/><circle cx="201.7" cy="102.8" r="1.08"/><circle cx="166.4" cy="107.5" r="1.08"/><circle cx="169.0" cy="86.1" r="1.08"/><circle cx="162.3" cy="65.1" r="1.08"/><circle cx="190.8" cy="83.2" r="1.08"/><circle cx="187.4" cy="90.9" r="1.08"/><circle cx="164.4" cy="92.5" r="1.08"/><circle cx="201.5" cy="55.3" r="1.08"/><circle cx="173.8" cy="76.5" r="1.08"/><circle cx="175.4" cy="68.2" r="1.08"/><circle cx="187.7" cy="85.6" r="1.08"/><circle cx="193.7" cy="92.3" r="1.08"/><circle cx="168.6" cy="108.1" r="1.08"/><circle cx="183.9" cy="72.3" r="1.08"/><circle cx="178.7" cy="90.4" r="1.08"/><circle cx="208.2" cy="80.8" r="1.08"/><circle cx="170.8" cy="82.4" r="1.08"/><circle cx="207.8" cy="69.7" r="1.08"/><circle cx="162.5" cy="128.7" r="1.08"/><circle cx="190.1" cy="84.2" r="1.08"/><circle cx="211.2" cy="84.6" r="1.08"/><circle cx="191.4" cy="73.4" r="1.08"/><circle cx="205.4" cy="74.0" r="1.08"/><circle cx="198.6" cy="49.3" r="1.08"/><circle cx="164.7" cy="93.3" r="1.08"/><circle cx="172.0" cy="109.1" r="1.08"/><circle cx="202.4" cy="108.4" r="1.08"/><circle cx="184.1" cy="103.1" r="1.08"/><circle cx="178.2" cy="97.9" r="1.08"/><circle cx="208.6" cy="72.6" r="1.08"/><circle cx="187.9" cy="72.5" r="1.08"/><circle cx="161.1" cy="92.9" r="1.08"/><circle cx="167.0" cy="102.3" r="1.08"/><circle cx="181.3" cy="72.8" r="1.08"/><circle cx="174.6" cy="103.6" r="1.08"/><circle cx="168.4" cy="76.1" r="1.08"/><circle cx="176.7" cy="59.2" r="1.08"/><circle cx="174.1" cy="72.8" r="1.08"/><circle cx="179.6" cy="59.6" r="1.08"/><circle cx="178.6" cy="64.7" r="1.08"/><circle cx="175.2" cy="106.5" r="1.08"/><circle cx="173.7" cy="86.0" r="1.08"/><circle cx="179.9" cy="89.6" r="1.08"/><circle cx="177.4" cy="105.8" r="1.08"/><circle cx="179.7" cy="106.3" r="1.08"/><circle cx="179.1" cy="78.4" r="1.08"/><circle cx="169.7" cy="112.4" r="1.08"/><circle cx="182.8" cy="90.7" r="1.08"/><circle cx="167.5" cy="92.3" r="1.08"/><circle cx="188.5" cy="88.8" r="1.08"/><circle cx="214.8" cy="45.8" r="1.08"/><circle cx="178.3" cy="74.2" r="1.08"/><circle cx="180.9" cy="83.8" r="1.08"/><circle cx="229.6" cy="70.9" r="1.08"/><circle cx="178.5" cy="80.8" r="1.08"/><circle cx="167.4" cy="90.3" r="1.08"/><circle cx="186.0" cy="98.5" r="1.08"/><circle cx="169.0" cy="114.1" r="1.08"/><circle cx="191.0" cy="92.8" r="1.08"/><circle cx="166.3" cy="113.2" r="1.08"/><circle cx="181.5" cy="78.8" r="1.08"/><circle cx="184.2" cy="79.0" r="1.08"/><circle cx="200.9" cy="80.7" r="1.08"/><circle cx="186.4" cy="78.0" r="1.08"/><circle cx="167.2" cy="84.3" r="1.08"/><circle cx="183.3" cy="110.8" r="1.08"/><circle cx="181.3" cy="82.1" r="1.08"/><circle cx="210.6" cy="55.2" r="1.08"/><circle cx="174.6" cy="96.5" r="1.08"/><circle cx="176.6" cy="117.1" r="1.08"/><circle cx="186.9" cy="83.9" r="1.08"/><circle cx="176.7" cy="107.3" r="1.08"/><circle cx="168.0" cy="85.0" r="1.08"/><circle cx="170.9" cy="82.7" r="1.08"/><circle cx="181.8" cy="74.0" r="1.08"/><circle cx="179.6" cy="83.9" r="1.08"/><circle cx="168.8" cy="121.0" r="1.08"/><circle cx="176.7" cy="69.2" r="1.08"/><circle cx="180.9" cy="111.7" r="1.08"/><circle cx="161.0" cy="79.3" r="1.08"/><circle cx="164.1" cy="90.2" r="1.08"/><circle cx="161.3" cy="108.7" r="1.08"/><circle cx="162.9" cy="104.6" r="1.08"/><circle cx="182.9" cy="89.0" r="1.08"/><circle cx="181.6" cy="58.8" r="1.08"/><circle cx="162.2" cy="100.7" r="1.08"/><circle cx="191.1" cy="64.1" r="1.08"/><circle cx="196.7" cy="118.8" r="1.08"/><circle cx="180.0" cy="82.6" r="1.08"/><circle cx="185.3" cy="86.4" r="1.08"/><circle cx="185.6" cy="64.8" r="1.08"/><circle cx="171.9" cy="82.4" r="1.08"/><circle cx="208.8" cy="50.9" r="1.08"/><circle cx="168.8" cy="107.3" r="1.08"/><circle cx="174.1" cy="84.7" r="1.08"/><circle cx="159.6" cy="105.2" r="1.08"/><circle cx="192.0" cy="69.0" r="1.08"/><circle cx="171.6" cy="82.2" r="1.08"/><circle cx="213.1" cy="90.0" r="1.08"/><circle cx="210.4" cy="55.3" r="1.08"/><circle cx="160.2" cy="67.1" r="1.08"/><circle cx="177.1" cy="94.0" r="1.08"/><circle cx="179.2" cy="68.1" r="1.08"/><circle cx="173.8" cy="82.1" r="1.08"/><circle cx="168.6" cy="106.3" r="1.08"/><circle cx="174.9" cy="75.5" r="1.08"/><circle cx="179.9" cy="100.1" r="1.08"/><circle cx="178.5" cy="75.9" r="1.08"/><circle cx="175.6" cy="112.1" r="1.08"/><circle cx="185.1" cy="104.6" r="1.08"/><circle cx="175.9" cy="80.5" r="1.08"/><circle cx="204.9" cy="70.1" r="1.08"/><circle cx="170.0" cy="77.7" r="1.08"/><circle cx="178.3" cy="90.1" r="1.08"/><circle cx="186.4" cy="101.2" r="1.08"/><circle cx="188.2" cy="58.8" r="1.08"/><circle cx="205.9" cy="87.7" r="1.08"/><circle cx="172.3" cy="68.7" r="1.08"/><circle cx="195.5" cy="64.5" r="1.08"/><circle cx="178.5" cy="58.1" r="1.08"/><circle cx="162.0" cy="128.7" r="1.08"/><circle cx="193.2" cy="80.3" r="1.08"/><circle cx="165.6" cy="97.1" r="1.08"/><circle cx="172.8" cy="78.8" r="1.08"/><circle cx="186.6" cy="99.8" r="1.08"/><circle cx="172.2" cy="56.3" r="1.08"/><circle cx="168.8" cy="92.0" r="1.08"/><circle cx="186.9" cy="117.8" r="1.08"/><circle cx="196.1" cy="71.8" r="1.08"/><circle cx="171.7" cy="90.4" r="1.08"/><circle cx="174.6" cy="99.5" r="1.08"/><circle cx="184.8" cy="70.6" r="1.08"/><circle cx="179.9" cy="86.4" r="1.08"/><circle cx="175.6" cy="103.6" r="1.08"/><circle cx="215.4" cy="71.4" r="1.08"/><circle cx="175.1" cy="94.4" r="1.08"/><circle cx="168.9" cy="85.9" r="1.08"/><circle cx="174.0" cy="94.0" r="1.08"/><circle cx="184.4" cy="84.7" r="1.08"/><circle cx="170.6" cy="114.0" r="1.08"/><circle cx="168.3" cy="103.4" r="1.08"/><circle cx="163.9" cy="90.1" r="1.08"/><circle cx="222.2" cy="29.5" r="1.08"/><circle cx="187.5" cy="93.7" r="1.08"/><circle cx="166.5" cy="104.8" r="1.08"/><circle cx="186.4" cy="68.1" r="1.08"/><circle cx="185.3" cy="51.4" r="1.08"/><circle cx="199.5" cy="58.0" r="1.08"/><circle cx="168.3" cy="106.7" r="1.08"/><circle cx="199.5" cy="59.2" r="1.08"/><circle cx="191.8" cy="72.7" r="1.08"/><circle cx="166.6" cy="96.2" r="1.08"/><circle cx="181.4" cy="104.9" r="1.08"/><circle cx="182.0" cy="84.7" r="1.08"/><circle cx="183.4" cy="82.7" r="1.08"/><circle cx="160.6" cy="86.9" r="1.08"/><circle cx="182.4" cy="110.9" r="1.08"/><circle cx="174.1" cy="106.0" r="1.08"/><circle cx="192.1" cy="78.4" r="1.08"/><circle cx="181.7" cy="62.8" r="1.08"/><circle cx="171.9" cy="77.4" r="1.08"/><circle cx="168.0" cy="101.3" r="1.08"/><circle cx="175.3" cy="76.8" r="1.08"/><circle cx="182.8" cy="98.9" r="1.08"/><circle cx="178.0" cy="92.8" r="1.08"/><circle cx="164.8" cy="98.3" r="1.08"/><circle cx="208.1" cy="82.4" r="1.08"/><circle cx="192.4" cy="87.8" r="1.08"/><circle cx="179.7" cy="72.5" r="1.08"/><circle cx="181.7" cy="80.0" r="1.08"/><circle cx="187.3" cy="119.8" r="1.08"/><circle cx="182.2" cy="65.6" r="1.08"/><circle cx="176.2" cy="80.3" r="1.08"/><circle cx="198.1" cy="94.0" r="1.08"/><circle cx="176.8" cy="85.1" r="1.08"/><circle cx="175.2" cy="75.4" r="1.08"/><circle cx="179.6" cy="65.0" r="1.08"/><circle cx="177.6" cy="95.8" r="1.08"/><circle cx="181.4" cy="101.6" r="1.08"/><circle cx="264.3" cy="66.3" r="1.08"/><circle cx="172.8" cy="90.5" r="1.08"/><circle cx="185.9" cy="99.8" r="1.08"/><circle cx="193.2" cy="62.9" r="1.08"/><circle cx="164.5" cy="96.4" r="1.08"/><circle cx="175.6" cy="77.4" r="1.08"/><circle cx="164.2" cy="96.7" r="1.08"/><circle cx="170.7" cy="102.7" r="1.08"/><circle cx="164.4" cy="110.9" r="1.08"/><circle cx="181.7" cy="69.3" r="1.08"/><circle cx="171.8" cy="110.4" r="1.08"/><circle cx="196.0" cy="70.4" r="1.08"/><circle cx="175.2" cy="72.0" r="1.08"/><circle cx="174.1" cy="86.2" r="1.08"/><circle cx="171.8" cy="66.7" r="1.08"/><circle cx="169.5" cy="91.3" r="1.08"/><circle cx="196.1" cy="82.6" r="1.08"/><circle cx="165.3" cy="90.2" r="1.08"/><circle cx="199.7" cy="84.7" r="1.08"/><circle cx="176.3" cy="82.8" r="1.08"/><circle cx="165.9" cy="93.1" r="1.08"/><circle cx="180.1" cy="62.9" r="1.08"/><circle cx="171.3" cy="91.0" r="1.08"/><circle cx="171.0" cy="76.9" r="1.08"/><circle cx="200.8" cy="68.4" r="1.08"/><circle cx="188.3" cy="80.3" r="1.08"/><circle cx="158.5" cy="99.8" r="1.08"/><circle cx="176.1" cy="61.6" r="1.08"/><circle cx="175.9" cy="63.0" r="1.08"/><circle cx="172.8" cy="84.8" r="1.08"/><circle cx="207.7" cy="79.8" r="1.08"/><circle cx="168.9" cy="97.3" r="1.08"/><circle cx="169.1" cy="105.7" r="1.08"/><circle cx="180.6" cy="106.5" r="1.08"/><circle cx="197.6" cy="85.1" r="1.08"/><circle cx="164.5" cy="93.4" r="1.08"/><circle cx="176.0" cy="71.5" r="1.08"/><circle cx="174.7" cy="73.5" r="1.08"/><circle cx="188.1" cy="74.5" r="1.08"/><circle cx="226.5" cy="67.0" r="1.08"/><circle cx="191.7" cy="83.7" r="1.08"/><circle cx="173.0" cy="89.6" r="1.08"/><circle cx="169.6" cy="88.7" r="1.08"/><circle cx="159.0" cy="106.6" r="1.08"/><circle cx="179.4" cy="89.6" r="1.08"/><circle cx="192.9" cy="84.3" r="1.08"/><circle cx="189.2" cy="86.3" r="1.08"/><circle cx="172.1" cy="81.2" r="1.08"/><circle cx="208.1" cy="55.4" r="1.08"/><circle cx="166.5" cy="100.6" r="1.08"/><circle cx="196.9" cy="84.2" r="1.08"/><circle cx="186.0" cy="79.5" r="1.08"/><circle cx="171.7" cy="83.5" r="1.08"/><circle cx="196.2" cy="114.3" r="1.08"/><circle cx="167.0" cy="80.4" r="1.08"/><circle cx="168.7" cy="88.2" r="1.08"/><circle cx="183.6" cy="88.4" r="1.08"/><circle cx="216.3" cy="49.4" r="1.08"/><circle cx="193.3" cy="81.2" r="1.08"/><circle cx="171.1" cy="119.2" r="1.08"/></g>
<path d="M157.60,92.40 L160.32,91.65 L163.04,90.88 L165.75,90.09 L168.47,89.29 L171.19,88.46 L173.91,87.60 L176.63,86.71 L179.34,85.79 L182.06,84.83 L184.78,83.83 L187.50,82.81 L190.22,81.75 L192.93,80.67 L195.65,79.57 L198.37,78.44 L201.09,77.31 L203.81,76.16 L206.52,75.01 L209.24,73.84 L211.96,72.67 L214.68,71.49 L217.39,70.31 L220.11,69.12 L222.83,67.94 L225.55,66.74 L228.27,65.55 L230.98,64.35 L233.70,63.15 L236.42,61.95 L239.14,60.75 L241.86,59.55 L244.57,58.35 L247.29,57.14 L250.01,55.94 L252.73,54.73 L255.45,53.52 L258.16,52.32 L260.88,51.11 L263.60,49.90 L263.60,66.70 L260.88,67.39 L258.16,68.09 L255.45,68.78 L252.73,69.48 L250.01,70.18 L247.29,70.87 L244.57,71.57 L241.86,72.27 L239.14,72.97 L236.42,73.67 L233.70,74.37 L230.98,75.08 L228.27,75.78 L225.55,76.49 L222.83,77.20 L220.11,77.92 L217.39,78.63 L214.68,79.35 L211.96,80.08 L209.24,80.81 L206.52,81.55 L203.81,82.29 L201.09,83.05 L198.37,83.82 L195.65,84.60 L192.93,85.40 L190.22,86.22 L187.50,87.07 L184.78,87.94 L182.06,88.85 L179.34,89.79 L176.63,90.77 L173.91,91.78 L171.19,92.83 L168.47,93.90 L165.75,95.00 L163.04,96.12 L160.32,97.25 L157.60,98.40Z" fill="#999" fill-opacity="0.42"/>
<line x1="157.6" y1="95.4" x2="263.6" y2="58.3" stroke="#3366ff" stroke-width="1.25"/>
<rect x="152.5" y="25.2" width="116.5" height="110.39999999999999" fill="none" stroke="#555" stroke-width="1.0"/>
<line x1="152.30" y1="135.6" x2="152.30" y2="138.2" stroke="#444" stroke-width="0.9"/>
<text x="152.30" y="147.60" font-size="9.3" text-anchor="middle" fill="#4d4d4d" font-weight="normal" stroke="#4d4d4d" stroke-width="0.101">0</text>
<line x1="179.90" y1="135.6" x2="179.90" y2="138.2" stroke="#444" stroke-width="0.9"/>
<text x="179.90" y="147.60" font-size="9.3" text-anchor="middle" fill="#4d4d4d" font-weight="normal" stroke="#4d4d4d" stroke-width="0.101">50</text>
<line x1="207.50" y1="135.6" x2="207.50" y2="138.2" stroke="#444" stroke-width="0.9"/>
<text x="207.50" y="147.60" font-size="9.3" text-anchor="middle" fill="#4d4d4d" font-weight="normal" stroke="#4d4d4d" stroke-width="0.101">100</text>
<line x1="235.10" y1="135.6" x2="235.10" y2="138.2" stroke="#444" stroke-width="0.9"/>
<text x="235.10" y="147.60" font-size="9.3" text-anchor="middle" fill="#4d4d4d" font-weight="normal" stroke="#4d4d4d" stroke-width="0.101">150</text>
<line x1="262.70" y1="135.6" x2="262.70" y2="138.2" stroke="#444" stroke-width="0.9"/>
<text x="262.70" y="147.60" font-size="9.3" text-anchor="middle" fill="#4d4d4d" font-weight="normal" stroke="#4d4d4d" stroke-width="0.101">200</text>
<text x="210.75" y="21.40" font-size="9.0" text-anchor="middle" fill="#000" font-weight="normal" stroke="#000" stroke-width="0.097">Endothelial cell</text>
<text x="265.20" y="121.40" font-size="12.4" text-anchor="end" fill="#ff0000" font-weight="normal" stroke="#ff0000" stroke-width="0.060">r = 0.411</text>
<text x="265.20" y="132.10" font-size="12.4" text-anchor="end" fill="#ff0000" font-weight="normal" stroke="#ff0000" stroke-width="0.060">p = 1.83e−15</text>
<rect x="284.3" y="25.2" width="116.69999999999999" height="110.39999999999999" fill="#fff"/>
<line x1="288.80" y1="25.2" x2="288.80" y2="135.6" stroke="#e6e6e6" stroke-width="0.8"/>
<line x1="302.60" y1="25.2" x2="302.60" y2="135.6" stroke="#f0f0f0" stroke-width="0.5"/>
<line x1="316.40" y1="25.2" x2="316.40" y2="135.6" stroke="#e6e6e6" stroke-width="0.8"/>
<line x1="330.20" y1="25.2" x2="330.20" y2="135.6" stroke="#f0f0f0" stroke-width="0.5"/>
<line x1="344.00" y1="25.2" x2="344.00" y2="135.6" stroke="#e6e6e6" stroke-width="0.8"/>
<line x1="357.80" y1="25.2" x2="357.80" y2="135.6" stroke="#f0f0f0" stroke-width="0.5"/>
<line x1="371.60" y1="25.2" x2="371.60" y2="135.6" stroke="#e6e6e6" stroke-width="0.8"/>
<line x1="385.40" y1="25.2" x2="385.40" y2="135.6" stroke="#f0f0f0" stroke-width="0.5"/>
<line x1="399.20" y1="25.2" x2="399.20" y2="135.6" stroke="#e6e6e6" stroke-width="0.8"/>
<line x1="284.3" y1="52.50" x2="401.0" y2="52.50" stroke="#e6e6e6" stroke-width="0.8"/>
<line x1="284.3" y1="85.10" x2="401.0" y2="85.10" stroke="#e6e6e6" stroke-width="0.8"/>
<line x1="284.3" y1="117.70" x2="401.0" y2="117.70" stroke="#e6e6e6" stroke-width="0.8"/>
<line x1="284.3" y1="36.20" x2="401.0" y2="36.20" stroke="#f0f0f0" stroke-width="0.5"/>
<line x1="284.3" y1="68.80" x2="401.0" y2="68.80" stroke="#f0f0f0" stroke-width="0.5"/>
<line x1="284.3" y1="101.40" x2="401.0" y2="101.40" stroke="#f0f0f0" stroke-width="0.5"/>
<line x1="284.3" y1="134.00" x2="401.0" y2="134.00" stroke="#f0f0f0" stroke-width="0.5"/>
<g fill="#222" fill-opacity="0.6"><circle cx="295.9" cy="86.0" r="1.08"/><circle cx="291.7" cy="66.5" r="1.08"/><circle cx="297.2" cy="104.2" r="1.08"/><circle cx="289.9" cy="101.3" r="1.08"/><circle cx="290.7" cy="74.2" r="1.08"/><circle cx="290.4" cy="117.1" r="1.08"/><circle cx="292.8" cy="68.9" r="1.08"/><circle cx="290.3" cy="88.7" r="1.08"/><circle cx="294.5" cy="101.7" r="1.08"/><circle cx="293.7" cy="49.9" r="1.08"/><circle cx="289.9" cy="99.0" r="1.08"/><circle cx="291.4" cy="83.0" r="1.08"/><circle cx="295.4" cy="83.8" r="1.08"/><circle cx="291.2" cy="67.8" r="1.08"/><circle cx="292.8" cy="89.0" r="1.08"/><circle cx="295.0" cy="67.4" r="1.08"/><circle cx="292.4" cy="69.5" r="1.08"/><circle cx="290.1" cy="77.3" r="1.08"/><circle cx="290.6" cy="65.6" r="1.08"/><circle cx="290.8" cy="107.6" r="1.08"/><circle cx="290.2" cy="64.1" r="1.08"/><circle cx="291.6" cy="72.7" r="1.08"/><circle cx="294.4" cy="79.3" r="1.08"/><circle cx="296.5" cy="84.1" r="1.08"/><circle cx="323.3" cy="95.9" r="1.08"/><circle cx="297.8" cy="96.3" r="1.08"/><circle cx="290.7" cy="79.5" r="1.08"/><circle cx="295.9" cy="78.2" r="1.08"/><circle cx="292.0" cy="84.5" r="1.08"/><circle cx="291.0" cy="96.3" r="1.08"/><circle cx="289.4" cy="94.5" r="1.08"/><circle cx="292.7" cy="76.3" r="1.08"/><circle cx="295.9" cy="53.1" r="1.08"/><circle cx="292.4" cy="116.1" r="1.08"/><circle cx="292.9" cy="98.3" r="1.08"/><circle cx="291.2" cy="87.9" r="1.08"/><circle cx="290.7" cy="89.1" r="1.08"/><circle cx="292.5" cy="76.2" r="1.08"/><circle cx="292.8" cy="69.0" r="1.08"/><circle cx="298.1" cy="79.0" r="1.08"/><circle cx="296.4" cy="80.7" r="1.08"/><circle cx="291.4" cy="74.6" r="1.08"/><circle cx="291.5" cy="62.1" r="1.08"/><circle cx="294.1" cy="79.3" r="1.08"/><circle cx="291.3" cy="92.6" r="1.08"/><circle cx="293.1" cy="76.6" r="1.08"/><circle cx="291.5" cy="84.3" r="1.08"/><circle cx="290.3" cy="52.9" r="1.08"/><circle cx="289.5" cy="80.9" r="1.08"/><circle cx="289.8" cy="82.2" r="1.08"/><circle cx="292.5" cy="65.6" r="1.08"/><circle cx="294.1" cy="58.1" r="1.08"/><circle cx="301.4" cy="90.2" r="1.08"/><circle cx="293.7" cy="71.9" r="1.08"/><circle cx="291.5" cy="91.3" r="1.08"/><circle cx="290.5" cy="77.7" r="1.08"/><circle cx="291.7" cy="93.3" r="1.08"/><circle cx="290.0" cy="78.9" r="1.08"/><circle cx="303.0" cy="61.4" r="1.08"/><circle cx="290.0" cy="82.7" r="1.08"/><circle cx="289.8" cy="79.1" r="1.08"/><circle cx="289.5" cy="93.9" r="1.08"/><circle cx="291.8" cy="77.2" r="1.08"/><circle cx="295.1" cy="78.1" r="1.08"/><circle cx="290.3" cy="96.9" r="1.08"/><circle cx="303.3" cy="101.5" r="1.08"/><circle cx="291.7" cy="95.4" r="1.08"/><circle cx="289.6" cy="99.6" r="1.08"/><circle cx="290.7" cy="90.8" r="1.08"/><circle cx="291.0" cy="95.6" r="1.08"/><circle cx="292.5" cy="97.2" r="1.08"/><circle cx="296.6" cy="90.1" r="1.08"/><circle cx="293.0" cy="84.9" r="1.08"/><circle cx="295.1" cy="86.1" r="1.08"/><circle cx="291.1" cy="120.1" r="1.08"/><circle cx="293.6" cy="84.2" r="1.08"/><circle cx="289.5" cy="80.4" r="1.08"/><circle cx="293.9" cy="78.5" r="1.08"/><circle cx="293.0" cy="83.5" r="1.08"/><circle cx="292.1" cy="87.7" r="1.08"/><circle cx="292.4" cy="67.0" r="1.08"/><circle cx="296.6" cy="54.3" r="1.08"/><circle cx="290.4" cy="88.4" r="1.08"/><circle cx="290.0" cy="59.9" r="1.08"/><circle cx="291.5" cy="87.9" r="1.08"/><circle cx="293.4" cy="86.1" r="1.08"/><circle cx="294.1" cy="101.3" r="1.08"/><circle cx="291.5" cy="109.1" r="1.08"/><circle cx="289.9" cy="89.5" r="1.08"/><circle cx="291.6" cy="75.7" r="1.08"/><circle cx="291.2" cy="66.4" r="1.08"/><circle cx="302.7" cy="72.1" r="1.08"/><circle cx="308.7" cy="84.6" r="1.08"/><circle cx="292.1" cy="53.0" r="1.08"/><circle cx="290.7" cy="85.1" r="1.08"/><circle cx="296.2" cy="83.8" r="1.08"/><circle cx="290.2" cy="93.7" r="1.08"/><circle cx="289.8" cy="79.0" r="1.08"/><circle cx="295.0" cy="85.5" r="1.08"/><circle cx="293.7" cy="73.0" r="1.08"/><circle cx="290.7" cy="77.0" r="1.08"/><circle cx="290.1" cy="57.4" r="1.08"/><circle cx="296.8" cy="85.9" r="1.08"/><circle cx="292.0" cy="107.2" r="1.08"/><circle cx="344.8" cy="86.4" r="1.08"/><circle cx="291.4" cy="89.5" r="1.08"/><circle cx="289.5" cy="69.3" r="1.08"/><circle cx="328.1" cy="105.5" r="1.08"/><circle cx="292.1" cy="72.5" r="1.08"/><circle cx="289.5" cy="96.0" r="1.08"/><circle cx="294.4" cy="85.6" r="1.08"/><circle cx="292.4" cy="69.6" r="1.08"/><circle cx="291.4" cy="99.4" r="1.08"/><circle cx="291.0" cy="84.2" r="1.08"/><circle cx="297.2" cy="86.7" r="1.08"/><circle cx="292.0" cy="90.8" r="1.08"/><circle cx="294.1" cy="83.7" r="1.08"/><circle cx="290.0" cy="78.3" r="1.08"/><circle cx="291.3" cy="91.0" r="1.08"/><circle cx="293.4" cy="77.9" r="1.08"/><circle cx="295.6" cy="85.0" r="1.08"/><circle cx="290.4" cy="74.0" r="1.08"/><circle cx="290.8" cy="61.6" r="1.08"/><circle cx="291.3" cy="73.9" r="1.08"/><circle cx="291.9" cy="76.6" r="1.08"/><circle cx="292.0" cy="84.2" r="1.08"/><circle cx="294.8" cy="101.8" r="1.08"/><circle cx="302.9" cy="58.7" r="1.08"/><circle cx="291.5" cy="85.9" r="1.08"/><circle cx="311.8" cy="50.8" r="1.08"/><circle cx="295.4" cy="68.3" r="1.08"/><circle cx="291.1" cy="76.4" r="1.08"/><circle cx="289.4" cy="50.2" r="1.08"/><circle cx="289.8" cy="56.1" r="1.08"/><circle cx="291.3" cy="86.3" r="1.08"/><circle cx="297.6" cy="85.2" r="1.08"/><circle cx="291.7" cy="82.3" r="1.08"/><circle cx="294.4" cy="71.9" r="1.08"/><circle cx="293.6" cy="116.3" r="1.08"/><circle cx="294.5" cy="81.6" r="1.08"/><circle cx="293.1" cy="71.1" r="1.08"/><circle cx="291.1" cy="109.2" r="1.08"/><circle cx="305.9" cy="93.2" r="1.08"/><circle cx="289.8" cy="78.4" r="1.08"/><circle cx="308.7" cy="101.9" r="1.08"/><circle cx="289.5" cy="86.4" r="1.08"/><circle cx="294.5" cy="93.6" r="1.08"/><circle cx="295.1" cy="87.5" r="1.08"/><circle cx="291.3" cy="68.6" r="1.08"/><circle cx="301.8" cy="98.6" r="1.08"/><circle cx="289.6" cy="86.4" r="1.08"/><circle cx="290.3" cy="68.9" r="1.08"/><circle cx="295.3" cy="72.6" r="1.08"/><circle cx="294.4" cy="98.3" r="1.08"/><circle cx="292.8" cy="78.5" r="1.08"/><circle cx="290.9" cy="84.7" r="1.08"/><circle cx="290.0" cy="93.8" r="1.08"/><circle cx="293.3" cy="85.9" r="1.08"/><circle cx="291.0" cy="61.1" r="1.08"/><circle cx="299.3" cy="93.6" r="1.08"/><circle cx="308.6" cy="98.1" r="1.08"/><circle cx="292.6" cy="97.0" r="1.08"/><circle cx="289.5" cy="108.3" r="1.08"/><circle cx="290.1" cy="89.5" r="1.08"/><circle cx="313.4" cy="95.7" r="1.08"/><circle cx="291.6" cy="107.8" r="1.08"/><circle cx="299.1" cy="79.6" r="1.08"/><circle cx="290.5" cy="110.0" r="1.08"/><circle cx="290.9" cy="110.0" r="1.08"/><circle cx="301.1" cy="95.7" r="1.08"/><circle cx="296.7" cy="111.6" r="1.08"/><circle cx="293.0" cy="96.8" r="1.08"/><circle cx="293.0" cy="70.8" r="1.08"/><circle cx="293.3" cy="101.1" r="1.08"/><circle cx="294.8" cy="88.9" r="1.08"/><circle cx="291.1" cy="90.2" r="1.08"/><circle cx="292.9" cy="86.3" r="1.08"/><circle cx="291.9" cy="104.4" r="1.08"/><circle cx="296.0" cy="92.3" r="1.08"/><circle cx="289.9" cy="73.6" r="1.08"/><circle cx="304.5" cy="91.3" r="1.08"/><circle cx="292.8" cy="94.9" r="1.08"/><circle cx="295.1" cy="73.1" r="1.08"/><circle cx="290.9" cy="77.5" r="1.08"/><circle cx="293.0" cy="78.3" r="1.08"/><circle cx="290.1" cy="74.9" r="1.08"/><circle cx="292.8" cy="89.2" r="1.08"/><circle cx="291.4" cy="99.3" r="1.08"/><circle cx="302.7" cy="112.4" r="1.08"/><circle cx="290.3" cy="101.9" r="1.08"/><circle cx="298.2" cy="99.3" r="1.08"/><circle cx="326.5" cy="101.1" r="1.08"/><circle cx="291.4" cy="104.0" r="1.08"/><circle cx="292.1" cy="78.3" r="1.08"/><circle cx="299.1" cy="94.4" r="1.08"/><circle cx="294.0" cy="88.8" r="1.08"/><circle cx="294.1" cy="82.1" r="1.08"/><circle cx="290.2" cy="77.2" r="1.08"/><circle cx="294.4" cy="76.4" r="1.08"/><circle cx="290.8" cy="80.0" r="1.08"/><circle cx="294.4" cy="65.5" r="1.08"/><circle cx="293.4" cy="91.8" r="1.08"/><circle cx="290.9" cy="83.7" r="1.08"/><circle cx="293.1" cy="85.6" r="1.08"/><circle cx="291.6" cy="89.1" r="1.08"/><circle cx="292.6" cy="94.9" r="1.08"/><circle cx="293.6" cy="75.1" r="1.08"/><circle cx="293.5" cy="82.4" r="1.08"/><circle cx="291.0" cy="59.9" r="1.08"/><circle cx="301.8" cy="50.7" r="1.08"/><circle cx="293.7" cy="54.9" r="1.08"/><circle cx="312.0" cy="107.1" r="1.08"/><circle cx="291.0" cy="56.6" r="1.08"/><circle cx="289.6" cy="91.1" r="1.08"/><circle cx="291.5" cy="106.2" r="1.08"/><circle cx="290.9" cy="77.1" r="1.08"/><circle cx="293.5" cy="108.4" r="1.08"/><circle cx="293.5" cy="111.7" r="1.08"/><circle cx="298.0" cy="98.2" r="1.08"/><circle cx="298.3" cy="119.6" r="1.08"/><circle cx="297.6" cy="93.3" r="1.08"/><circle cx="291.5" cy="73.1" r="1.08"/><circle cx="292.8" cy="91.9" r="1.08"/><circle cx="294.5" cy="77.4" r="1.08"/><circle cx="292.3" cy="64.5" r="1.08"/><circle cx="290.7" cy="64.9" r="1.08"/><circle cx="291.6" cy="118.7" r="1.08"/><circle cx="291.1" cy="76.0" r="1.08"/><circle cx="291.1" cy="83.7" r="1.08"/><circle cx="290.2" cy="74.1" r="1.08"/><circle cx="292.8" cy="86.2" r="1.08"/><circle cx="289.8" cy="80.5" r="1.08"/><circle cx="291.4" cy="78.0" r="1.08"/><circle cx="301.6" cy="66.0" r="1.08"/><circle cx="298.8" cy="63.0" r="1.08"/><circle cx="289.5" cy="73.0" r="1.08"/><circle cx="292.1" cy="88.6" r="1.08"/><circle cx="298.8" cy="115.3" r="1.08"/><circle cx="291.4" cy="100.0" r="1.08"/><circle cx="296.9" cy="111.6" r="1.08"/><circle cx="290.3" cy="91.5" r="1.08"/><circle cx="293.2" cy="82.9" r="1.08"/><circle cx="293.9" cy="64.4" r="1.08"/><circle cx="292.5" cy="84.3" r="1.08"/><circle cx="291.2" cy="52.1" r="1.08"/><circle cx="295.3" cy="79.7" r="1.08"/><circle cx="293.5" cy="108.7" r="1.08"/><circle cx="293.8" cy="89.2" r="1.08"/><circle cx="300.3" cy="101.2" r="1.08"/><circle cx="300.3" cy="78.6" r="1.08"/><circle cx="333.3" cy="63.6" r="1.08"/><circle cx="290.1" cy="77.1" r="1.08"/><circle cx="291.2" cy="78.4" r="1.08"/><circle cx="290.9" cy="102.4" r="1.08"/><circle cx="294.0" cy="114.0" r="1.08"/><circle cx="303.4" cy="73.2" r="1.08"/><circle cx="293.7" cy="78.9" r="1.08"/><circle cx="293.2" cy="82.2" r="1.08"/><circle cx="290.9" cy="79.1" r="1.08"/><circle cx="297.8" cy="65.7" r="1.08"/><circle cx="293.4" cy="85.8" r="1.08"/><circle cx="294.6" cy="89.8" r="1.08"/><circle cx="294.0" cy="90.2" r="1.08"/><circle cx="290.8" cy="66.3" r="1.08"/><circle cx="290.0" cy="82.7" r="1.08"/><circle cx="292.9" cy="58.3" r="1.08"/><circle cx="292.1" cy="98.1" r="1.08"/><circle cx="291.2" cy="69.1" r="1.08"/><circle cx="290.4" cy="80.3" r="1.08"/><circle cx="296.4" cy="77.7" r="1.08"/><circle cx="290.6" cy="75.7" r="1.08"/><circle cx="289.9" cy="68.5" r="1.08"/><circle cx="298.7" cy="57.9" r="1.08"/><circle cx="291.4" cy="110.4" r="1.08"/><circle cx="291.3" cy="88.3" r="1.08"/><circle cx="292.8" cy="88.4" r="1.08"/><circle cx="289.9" cy="115.9" r="1.08"/><circle cx="293.6" cy="82.9" r="1.08"/><circle cx="291.8" cy="92.7" r="1.08"/><circle cx="293.4" cy="84.8" r="1.08"/><circle cx="293.5" cy="102.3" r="1.08"/><circle cx="291.6" cy="92.0" r="1.08"/><circle cx="295.4" cy="89.2" r="1.08"/><circle cx="290.9" cy="80.6" r="1.08"/><circle cx="315.0" cy="88.7" r="1.08"/><circle cx="293.1" cy="101.9" r="1.08"/><circle cx="292.9" cy="53.3" r="1.08"/><circle cx="294.4" cy="82.5" r="1.08"/><circle cx="305.9" cy="78.2" r="1.08"/><circle cx="295.4" cy="80.0" r="1.08"/><circle cx="291.5" cy="54.8" r="1.08"/><circle cx="291.2" cy="95.5" r="1.08"/><circle cx="292.2" cy="71.8" r="1.08"/><circle cx="290.2" cy="81.1" r="1.08"/><circle cx="293.3" cy="76.9" r="1.08"/><circle cx="291.2" cy="59.4" r="1.08"/><circle cx="291.0" cy="77.8" r="1.08"/><circle cx="291.8" cy="56.9" r="1.08"/><circle cx="290.8" cy="70.4" r="1.08"/><circle cx="293.7" cy="79.8" r="1.08"/><circle cx="293.0" cy="84.4" r="1.08"/><circle cx="300.0" cy="85.3" r="1.08"/><circle cx="290.6" cy="82.4" r="1.08"/><circle cx="293.0" cy="116.6" r="1.08"/><circle cx="292.8" cy="91.0" r="1.08"/><circle cx="297.7" cy="66.2" r="1.08"/><circle cx="290.9" cy="75.3" r="1.08"/><circle cx="293.1" cy="74.6" r="1.08"/><circle cx="290.0" cy="81.8" r="1.08"/><circle cx="296.0" cy="75.4" r="1.08"/><circle cx="294.5" cy="71.7" r="1.08"/><circle cx="319.0" cy="109.2" r="1.08"/><circle cx="314.1" cy="85.2" r="1.08"/><circle cx="293.0" cy="79.4" r="1.08"/><circle cx="291.9" cy="80.7" r="1.08"/><circle cx="291.7" cy="81.2" r="1.08"/><circle cx="290.7" cy="105.4" r="1.08"/><circle cx="291.2" cy="91.7" r="1.08"/><circle cx="290.8" cy="101.4" r="1.08"/><circle cx="289.9" cy="37.7" r="1.08"/><circle cx="292.6" cy="89.4" r="1.08"/><circle cx="292.7" cy="100.4" r="1.08"/><circle cx="291.3" cy="114.1" r="1.08"/><circle cx="307.3" cy="85.0" r="1.08"/><circle cx="289.7" cy="58.8" r="1.08"/><circle cx="293.6" cy="93.4" r="1.08"/><circle cx="318.5" cy="75.5" r="1.08"/><circle cx="292.2" cy="57.6" r="1.08"/><circle cx="294.3" cy="75.2" r="1.08"/><circle cx="292.3" cy="100.4" r="1.08"/><circle cx="290.1" cy="102.6" r="1.08"/><circle cx="289.9" cy="95.4" r="1.08"/><circle cx="326.2" cy="68.8" r="1.08"/><circle cx="295.0" cy="122.3" r="1.08"/><circle cx="292.9" cy="67.0" r="1.08"/><circle cx="290.7" cy="83.4" r="1.08"/><circle cx="290.2" cy="62.9" r="1.08"/><circle cx="291.6" cy="104.3" r="1.08"/><circle cx="294.9" cy="91.2" r="1.08"/><circle cx="292.1" cy="97.9" r="1.08"/><circle cx="292.3" cy="85.9" r="1.08"/><circle cx="290.5" cy="83.5" r="1.08"/><circle cx="301.0" cy="87.2" r="1.08"/><circle cx="331.9" cy="56.3" r="1.08"/><circle cx="289.9" cy="99.5" r="1.08"/><circle cx="293.2" cy="98.3" r="1.08"/><circle cx="295.0" cy="78.7" r="1.08"/><circle cx="292.8" cy="84.4" r="1.08"/><circle cx="290.6" cy="89.1" r="1.08"/><circle cx="291.6" cy="108.2" r="1.08"/><circle cx="290.0" cy="91.1" r="1.08"/><circle cx="291.0" cy="85.3" r="1.08"/><circle cx="289.4" cy="77.0" r="1.08"/><circle cx="305.7" cy="62.1" r="1.08"/><circle cx="297.2" cy="75.7" r="1.08"/><circle cx="293.2" cy="85.7" r="1.08"/><circle cx="292.9" cy="80.9" r="1.08"/><circle cx="293.8" cy="85.8" r="1.08"/><circle cx="303.6" cy="95.8" r="1.08"/><circle cx="291.8" cy="91.2" r="1.08"/><circle cx="291.0" cy="88.8" r="1.08"/><circle cx="292.6" cy="94.5" r="1.08"/><circle cx="289.5" cy="87.5" r="1.08"/><circle cx="292.0" cy="84.2" r="1.08"/><circle cx="291.3" cy="91.7" r="1.08"/><circle cx="291.4" cy="58.8" r="1.08"/><circle cx="293.0" cy="103.5" r="1.08"/><circle cx="295.5" cy="65.4" r="1.08"/><circle cx="290.1" cy="97.3" r="1.08"/><circle cx="292.5" cy="84.9" r="1.08"/><circle cx="293.3" cy="101.3" r="1.08"/><circle cx="295.1" cy="85.2" r="1.08"/><circle cx="295.7" cy="70.6" r="1.08"/><circle cx="322.9" cy="100.8" r="1.08"/><circle cx="292.1" cy="87.5" r="1.08"/><circle cx="293.6" cy="86.5" r="1.08"/><circle cx="311.4" cy="86.0" r="1.08"/><circle cx="291.6" cy="99.8" r="1.08"/><circle cx="291.6" cy="97.0" r="1.08"/><circle cx="290.0" cy="88.2" r="1.08"/><circle cx="396.0" cy="99.7" r="1.08"/><circle cx="371.0" cy="83.4" r="1.08"/><circle cx="359.0" cy="85.8" r="1.08"/><circle cx="335.0" cy="111.7" r="1.08"/><circle cx="326.7" cy="94.7" r="1.08"/><circle cx="316.4" cy="52.8" r="1.08"/><circle cx="337.5" cy="71.0" r="1.08"/><circle cx="339.9" cy="67.4" r="1.08"/><circle cx="342.7" cy="74.6" r="1.08"/><circle cx="297.0" cy="29.5" r="1.08"/><circle cx="291.0" cy="33.0" r="1.08"/></g>
<g fill="#222" fill-opacity="0.3"><circle cx="290.3" cy="88.7" r="1.2"/><circle cx="289.9" cy="99.0" r="1.2"/><circle cx="292.8" cy="89.0" r="1.2"/><circle cx="290.6" cy="65.6" r="1.2"/><circle cx="292.7" cy="76.3" r="1.2"/><circle cx="290.7" cy="89.1" r="1.2"/><circle cx="291.5" cy="62.1" r="1.2"/><circle cx="289.5" cy="80.9" r="1.2"/><circle cx="289.8" cy="82.2" r="1.2"/><circle cx="290.5" cy="77.7" r="1.2"/><circle cx="290.0" cy="82.7" r="1.2"/><circle cx="295.1" cy="78.1" r="1.2"/><circle cx="295.1" cy="86.1" r="1.2"/><circle cx="293.6" cy="84.2" r="1.2"/><circle cx="289.5" cy="80.4" r="1.2"/><circle cx="290.0" cy="59.9" r="1.2"/><circle cx="294.1" cy="101.3" r="1.2"/><circle cx="289.9" cy="89.5" r="1.2"/><circle cx="292.1" cy="53.0" r="1.2"/><circle cx="289.8" cy="79.0" r="1.2"/><circle cx="290.7" cy="77.0" r="1.2"/><circle cx="292.0" cy="107.2" r="1.2"/><circle cx="291.4" cy="99.4" r="1.2"/><circle cx="292.0" cy="90.8" r="1.2"/><circle cx="291.5" cy="85.9" r="1.2"/><circle cx="289.4" cy="50.2" r="1.2"/><circle cx="291.1" cy="109.2" r="1.2"/><circle cx="289.5" cy="86.4" r="1.2"/><circle cx="289.6" cy="86.4" r="1.2"/><circle cx="294.4" cy="98.3" r="1.2"/><circle cx="290.9" cy="84.7" r="1.2"/><circle cx="290.0" cy="93.8" r="1.2"/><circle cx="290.9" cy="110.0" r="1.2"/><circle cx="292.9" cy="86.3" r="1.2"/><circle cx="290.9" cy="77.5" r="1.2"/><circle cx="290.1" cy="74.9" r="1.2"/><circle cx="291.4" cy="104.0" r="1.2"/><circle cx="290.8" cy="80.0" r="1.2"/><circle cx="292.6" cy="94.9" r="1.2"/><circle cx="293.6" cy="75.1" r="1.2"/><circle cx="291.0" cy="59.9" r="1.2"/><circle cx="289.6" cy="91.1" r="1.2"/><circle cx="291.5" cy="106.2" r="1.2"/><circle cx="293.5" cy="108.4" r="1.2"/><circle cx="293.5" cy="111.7" r="1.2"/><circle cx="290.7" cy="64.9" r="1.2"/><circle cx="291.6" cy="118.7" r="1.2"/><circle cx="290.2" cy="74.1" r="1.2"/><circle cx="301.6" cy="66.0" r="1.2"/><circle cx="293.9" cy="64.4" r="1.2"/><circle cx="291.2" cy="52.1" r="1.2"/><circle cx="293.5" cy="108.7" r="1.2"/><circle cx="293.8" cy="89.2" r="1.2"/><circle cx="291.2" cy="78.4" r="1.2"/><circle cx="293.7" cy="78.9" r="1.2"/><circle cx="293.2" cy="82.2" r="1.2"/><circle cx="290.8" cy="66.3" r="1.2"/><circle cx="290.0" cy="82.7" r="1.2"/><circle cx="290.4" cy="80.3" r="1.2"/><circle cx="291.3" cy="88.3" r="1.2"/><circle cx="291.8" cy="92.7" r="1.2"/><circle cx="293.4" cy="84.8" r="1.2"/><circle cx="293.5" cy="102.3" r="1.2"/><circle cx="291.6" cy="92.0" r="1.2"/><circle cx="290.9" cy="80.6" r="1.2"/><circle cx="295.4" cy="80.0" r="1.2"/><circle cx="293.3" cy="76.9" r="1.2"/><circle cx="291.0" cy="77.8" r="1.2"/><circle cx="296.0" cy="75.4" r="1.2"/><circle cx="291.7" cy="81.2" r="1.2"/><circle cx="290.8" cy="101.4" r="1.2"/><circle cx="289.7" cy="58.8" r="1.2"/><circle cx="293.6" cy="93.4" r="1.2"/><circle cx="292.2" cy="57.6" r="1.2"/><circle cx="294.3" cy="75.2" r="1.2"/><circle cx="289.9" cy="95.4" r="1.2"/><circle cx="292.9" cy="67.0" r="1.2"/><circle cx="294.9" cy="91.2" r="1.2"/><circle cx="290.5" cy="83.5" r="1.2"/><circle cx="291.6" cy="108.2" r="1.2"/><circle cx="290.0" cy="91.1" r="1.2"/><circle cx="289.4" cy="77.0" r="1.2"/><circle cx="289.5" cy="87.5" r="1.2"/><circle cx="291.4" cy="58.8" r="1.2"/><circle cx="292.5" cy="84.9" r="1.2"/><circle cx="295.7" cy="70.6" r="1.2"/><circle cx="292.1" cy="87.5" r="1.2"/></g>
<path d="M289.60,84.50 L292.33,84.60 L295.06,84.54 L297.79,84.31 L300.52,83.99 L303.25,83.61 L305.98,83.18 L308.72,82.70 L311.45,82.20 L314.18,81.67 L316.91,81.12 L319.64,80.56 L322.37,79.99 L325.10,79.41 L327.83,78.83 L330.56,78.24 L333.29,77.64 L336.02,77.05 L338.75,76.45 L341.48,75.84 L344.22,75.24 L346.95,74.63 L349.68,74.03 L352.41,73.42 L355.14,72.81 L357.87,72.20 L360.60,71.59 L363.33,70.98 L366.06,70.36 L368.79,69.75 L371.52,69.14 L374.25,68.52 L376.98,67.91 L379.72,67.29 L382.45,66.68 L385.18,66.06 L387.91,65.45 L390.64,64.83 L393.37,64.22 L396.10,63.60 L396.10,92.80 L393.37,92.63 L390.64,92.47 L387.91,92.31 L385.18,92.14 L382.45,91.98 L379.72,91.81 L376.98,91.65 L374.25,91.49 L371.52,91.32 L368.79,91.16 L366.06,91.00 L363.33,90.84 L360.60,90.68 L357.87,90.52 L355.14,90.36 L352.41,90.20 L349.68,90.04 L346.95,89.89 L344.22,89.73 L341.48,89.58 L338.75,89.43 L336.02,89.28 L333.29,89.14 L330.56,88.99 L327.83,88.86 L325.10,88.72 L322.37,88.60 L319.64,88.48 L316.91,88.37 L314.18,88.27 L311.45,88.19 L308.72,88.14 L305.98,88.11 L303.25,88.13 L300.52,88.20 L297.79,88.34 L295.06,88.56 L292.33,88.95 L289.60,89.50Z" fill="#999" fill-opacity="0.42"/>
<line x1="289.6" y1="87.0" x2="396.1" y2="78.2" stroke="#3366ff" stroke-width="1.25"/>
<rect x="284.3" y="25.2" width="116.69999999999999" height="110.39999999999999" fill="none" stroke="#555" stroke-width="1.0"/>
<line x1="288.80" y1="135.6" x2="288.80" y2="138.2" stroke="#444" stroke-width="0.9"/>
<text x="288.80" y="147.60" font-size="9.3" text-anchor="middle" fill="#4d4d4d" font-weight="normal" stroke="#4d4d4d" stroke-width="0.101">0</text>
<line x1="316.40" y1="135.6" x2="316.40" y2="138.2" stroke="#444" stroke-width="0.9"/>
<text x="316.40" y="147.60" font-size="9.3" text-anchor="middle" fill="#4d4d4d" font-weight="normal" stroke="#4d4d4d" stroke-width="0.101">2500</text>
<line x1="344.00" y1="135.6" x2="344.00" y2="138.2" stroke="#444" stroke-width="0.9"/>
<text x="344.00" y="147.60" font-size="9.3" text-anchor="middle" fill="#4d4d4d" font-weight="normal" stroke="#4d4d4d" stroke-width="0.101">5000</text>
<line x1="371.60" y1="135.6" x2="371.60" y2="138.2" stroke="#444" stroke-width="0.9"/>
<text x="371.60" y="147.60" font-size="9.3" text-anchor="middle" fill="#4d4d4d" font-weight="normal" stroke="#4d4d4d" stroke-width="0.101">7500</text>
<line x1="399.20" y1="135.6" x2="399.20" y2="138.2" stroke="#444" stroke-width="0.9"/>
<text x="399.20" y="147.60" font-size="9.3" text-anchor="middle" fill="#4d4d4d" font-weight="normal" stroke="#4d4d4d" stroke-width="0.101">10000</text>
<text x="342.65" y="21.40" font-size="9.0" text-anchor="middle" fill="#000" font-weight="normal" stroke="#000" stroke-width="0.097">Cancer associated fibroblast</text>
<text x="397.20" y="121.40" font-size="12.4" text-anchor="end" fill="#ff0000" font-weight="normal" stroke="#ff0000" stroke-width="0.060">r = 0.108</text>
<text x="397.20" y="132.10" font-size="12.4" text-anchor="end" fill="#ff0000" font-weight="normal" stroke="#ff0000" stroke-width="0.060">p = 4.52e−02</text>
<rect x="417.5" y="25.2" width="117.10000000000002" height="110.39999999999999" fill="#fff"/>
<line x1="424.60" y1="25.2" x2="424.60" y2="135.6" stroke="#e6e6e6" stroke-width="0.8"/>
<line x1="436.40" y1="25.2" x2="436.40" y2="135.6" stroke="#f0f0f0" stroke-width="0.5"/>
<line x1="448.20" y1="25.2" x2="448.20" y2="135.6" stroke="#e6e6e6" stroke-width="0.8"/>
<line x1="460.00" y1="25.2" x2="460.00" y2="135.6" stroke="#f0f0f0" stroke-width="0.5"/>
<line x1="471.80" y1="25.2" x2="471.80" y2="135.6" stroke="#e6e6e6" stroke-width="0.8"/>
<line x1="483.60" y1="25.2" x2="483.60" y2="135.6" stroke="#f0f0f0" stroke-width="0.5"/>
<line x1="495.40" y1="25.2" x2="495.40" y2="135.6" stroke="#e6e6e6" stroke-width="0.8"/>
<line x1="507.20" y1="25.2" x2="507.20" y2="135.6" stroke="#f0f0f0" stroke-width="0.5"/>
<line x1="519.00" y1="25.2" x2="519.00" y2="135.6" stroke="#e6e6e6" stroke-width="0.8"/>
<line x1="530.80" y1="25.2" x2="530.80" y2="135.6" stroke="#f0f0f0" stroke-width="0.5"/>
<line x1="417.5" y1="52.50" x2="534.6" y2="52.50" stroke="#e6e6e6" stroke-width="0.8"/>
<line x1="417.5" y1="85.10" x2="534.6" y2="85.10" stroke="#e6e6e6" stroke-width="0.8"/>
<line x1="417.5" y1="117.70" x2="534.6" y2="117.70" stroke="#e6e6e6" stroke-width="0.8"/>
<line x1="417.5" y1="36.20" x2="534.6" y2="36.20" stroke="#f0f0f0" stroke-width="0.5"/>
<line x1="417.5" y1="68.80" x2="534.6" y2="68.80" stroke="#f0f0f0" stroke-width="0.5"/>
<line x1="417.5" y1="101.40" x2="534.6" y2="101.40" stroke="#f0f0f0" stroke-width="0.5"/>
<line x1="417.5" y1="134.00" x2="534.6" y2="134.00" stroke="#f0f0f0" stroke-width="0.5"/>
<g fill="#222" fill-opacity="0.62"><circle cx="447.7" cy="106.1" r="1.08"/><circle cx="466.1" cy="74.5" r="1.08"/><circle cx="474.3" cy="86.4" r="1.08"/><circle cx="501.4" cy="53.5" r="1.08"/><circle cx="478.8" cy="74.1" r="1.08"/><circle cx="471.2" cy="92.9" r="1.08"/><circle cx="491.8" cy="74.6" r="1.08"/><circle cx="470.9" cy="78.8" r="1.08"/><circle cx="472.2" cy="97.0" r="1.08"/><circle cx="475.2" cy="83.5" r="1.08"/><circle cx="448.6" cy="108.5" r="1.08"/><circle cx="488.0" cy="45.9" r="1.08"/><circle cx="479.5" cy="92.2" r="1.08"/><circle cx="468.1" cy="93.6" r="1.08"/><circle cx="454.3" cy="65.7" r="1.08"/><circle cx="476.1" cy="65.0" r="1.08"/><circle cx="495.1" cy="93.7" r="1.08"/><circle cx="462.4" cy="71.2" r="1.08"/><circle cx="455.6" cy="79.0" r="1.08"/><circle cx="479.4" cy="92.6" r="1.08"/><circle cx="447.1" cy="85.2" r="1.08"/><circle cx="437.0" cy="99.3" r="1.08"/><circle cx="465.6" cy="73.5" r="1.08"/><circle cx="461.6" cy="91.7" r="1.08"/><circle cx="468.3" cy="102.1" r="1.08"/><circle cx="463.9" cy="91.7" r="1.08"/><circle cx="478.0" cy="51.2" r="1.08"/><circle cx="469.2" cy="95.5" r="1.08"/><circle cx="463.1" cy="87.8" r="1.08"/><circle cx="465.4" cy="73.0" r="1.08"/><circle cx="482.9" cy="103.8" r="1.08"/><circle cx="488.1" cy="55.9" r="1.08"/><circle cx="487.2" cy="110.1" r="1.08"/><circle cx="483.9" cy="73.3" r="1.08"/><circle cx="422.0" cy="118.7" r="1.08"/><circle cx="456.7" cy="87.6" r="1.08"/><circle cx="467.7" cy="66.1" r="1.08"/><circle cx="476.0" cy="85.8" r="1.08"/><circle cx="446.8" cy="95.2" r="1.08"/><circle cx="495.6" cy="88.5" r="1.08"/><circle cx="477.6" cy="99.9" r="1.08"/><circle cx="462.8" cy="73.6" r="1.08"/><circle cx="475.4" cy="91.8" r="1.08"/><circle cx="467.2" cy="97.1" r="1.08"/><circle cx="460.6" cy="83.4" r="1.08"/><circle cx="480.9" cy="69.4" r="1.08"/><circle cx="465.5" cy="72.2" r="1.08"/><circle cx="450.1" cy="100.7" r="1.08"/><circle cx="462.6" cy="99.0" r="1.08"/><circle cx="470.9" cy="73.0" r="1.08"/><circle cx="455.4" cy="68.5" r="1.08"/><circle cx="493.0" cy="99.4" r="1.08"/><circle cx="455.3" cy="65.3" r="1.08"/><circle cx="501.0" cy="81.7" r="1.08"/><circle cx="487.1" cy="70.1" r="1.08"/><circle cx="457.7" cy="61.8" r="1.08"/><circle cx="474.9" cy="86.4" r="1.08"/><circle cx="491.8" cy="78.3" r="1.08"/><circle cx="469.7" cy="107.1" r="1.08"/><circle cx="453.7" cy="122.7" r="1.08"/><circle cx="474.6" cy="81.8" r="1.08"/><circle cx="504.8" cy="93.9" r="1.08"/><circle cx="448.9" cy="105.3" r="1.08"/><circle cx="481.7" cy="75.4" r="1.08"/><circle cx="473.0" cy="72.0" r="1.08"/><circle cx="471.0" cy="109.4" r="1.08"/><circle cx="466.6" cy="80.8" r="1.08"/><circle cx="467.7" cy="85.6" r="1.08"/><circle cx="489.5" cy="77.3" r="1.08"/><circle cx="482.4" cy="81.0" r="1.08"/><circle cx="456.9" cy="79.1" r="1.08"/><circle cx="497.9" cy="91.1" r="1.08"/><circle cx="452.1" cy="107.9" r="1.08"/><circle cx="483.5" cy="77.2" r="1.08"/><circle cx="475.8" cy="63.7" r="1.08"/><circle cx="492.1" cy="81.8" r="1.08"/><circle cx="478.6" cy="61.6" r="1.08"/><circle cx="489.9" cy="72.0" r="1.08"/><circle cx="472.5" cy="103.4" r="1.08"/><circle cx="488.5" cy="116.5" r="1.08"/><circle cx="478.5" cy="89.4" r="1.08"/><circle cx="507.4" cy="62.1" r="1.08"/><circle cx="461.8" cy="98.8" r="1.08"/><circle cx="492.1" cy="47.6" r="1.08"/><circle cx="480.4" cy="73.1" r="1.08"/><circle cx="475.8" cy="107.1" r="1.08"/><circle cx="463.9" cy="97.9" r="1.08"/><circle cx="480.1" cy="62.9" r="1.08"/><circle cx="449.3" cy="64.8" r="1.08"/><circle cx="451.0" cy="102.1" r="1.08"/><circle cx="484.4" cy="81.9" r="1.08"/><circle cx="448.0" cy="81.1" r="1.08"/><circle cx="496.0" cy="86.5" r="1.08"/><circle cx="468.6" cy="77.2" r="1.08"/><circle cx="477.0" cy="55.4" r="1.08"/><circle cx="474.2" cy="96.7" r="1.08"/><circle cx="479.7" cy="73.9" r="1.08"/><circle cx="468.5" cy="70.8" r="1.08"/><circle cx="467.1" cy="66.2" r="1.08"/><circle cx="471.0" cy="89.1" r="1.08"/><circle cx="489.8" cy="69.5" r="1.08"/><circle cx="491.2" cy="90.6" r="1.08"/><circle cx="493.5" cy="76.8" r="1.08"/><circle cx="478.9" cy="99.9" r="1.08"/><circle cx="469.8" cy="79.8" r="1.08"/><circle cx="446.1" cy="80.6" r="1.08"/><circle cx="483.3" cy="53.5" r="1.08"/><circle cx="486.5" cy="65.8" r="1.08"/><circle cx="466.5" cy="97.0" r="1.08"/><circle cx="486.0" cy="127.9" r="1.08"/><circle cx="493.7" cy="62.1" r="1.08"/><circle cx="474.5" cy="69.1" r="1.08"/><circle cx="490.0" cy="86.6" r="1.08"/><circle cx="478.0" cy="91.1" r="1.08"/><circle cx="445.2" cy="80.4" r="1.08"/><circle cx="465.4" cy="87.6" r="1.08"/><circle cx="466.4" cy="62.2" r="1.08"/><circle cx="481.5" cy="78.8" r="1.08"/><circle cx="459.2" cy="101.1" r="1.08"/><circle cx="466.0" cy="110.7" r="1.08"/><circle cx="457.6" cy="85.5" r="1.08"/><circle cx="472.4" cy="81.2" r="1.08"/><circle cx="474.2" cy="91.5" r="1.08"/><circle cx="488.7" cy="98.3" r="1.08"/><circle cx="485.8" cy="89.6" r="1.08"/><circle cx="475.7" cy="73.2" r="1.08"/><circle cx="476.9" cy="89.5" r="1.08"/><circle cx="474.8" cy="99.0" r="1.08"/><circle cx="474.8" cy="73.9" r="1.08"/><circle cx="497.9" cy="60.0" r="1.08"/><circle cx="433.1" cy="100.5" r="1.08"/><circle cx="470.2" cy="91.0" r="1.08"/><circle cx="478.1" cy="98.4" r="1.08"/><circle cx="491.2" cy="82.6" r="1.08"/><circle cx="455.5" cy="78.8" r="1.08"/><circle cx="478.6" cy="77.3" r="1.08"/><circle cx="486.9" cy="66.8" r="1.08"/><circle cx="465.9" cy="72.3" r="1.08"/><circle cx="442.4" cy="82.7" r="1.08"/><circle cx="467.3" cy="78.9" r="1.08"/><circle cx="453.8" cy="105.4" r="1.08"/><circle cx="483.5" cy="64.6" r="1.08"/><circle cx="459.4" cy="87.0" r="1.08"/><circle cx="501.6" cy="70.5" r="1.08"/><circle cx="475.3" cy="106.7" r="1.08"/><circle cx="460.1" cy="91.5" r="1.08"/><circle cx="464.9" cy="81.0" r="1.08"/><circle cx="455.5" cy="100.7" r="1.08"/><circle cx="479.3" cy="84.7" r="1.08"/><circle cx="497.0" cy="73.1" r="1.08"/><circle cx="469.6" cy="108.6" r="1.08"/><circle cx="487.9" cy="92.6" r="1.08"/><circle cx="457.9" cy="113.8" r="1.08"/><circle cx="478.0" cy="101.3" r="1.08"/><circle cx="510.0" cy="89.2" r="1.08"/><circle cx="450.5" cy="91.5" r="1.08"/><circle cx="492.8" cy="64.9" r="1.08"/><circle cx="491.9" cy="91.9" r="1.08"/><circle cx="442.9" cy="92.2" r="1.08"/><circle cx="450.0" cy="99.7" r="1.08"/><circle cx="457.4" cy="88.1" r="1.08"/><circle cx="488.6" cy="71.7" r="1.08"/><circle cx="466.2" cy="71.4" r="1.08"/><circle cx="470.3" cy="96.0" r="1.08"/><circle cx="484.4" cy="102.1" r="1.08"/><circle cx="474.9" cy="80.4" r="1.08"/><circle cx="476.7" cy="91.1" r="1.08"/><circle cx="467.9" cy="106.8" r="1.08"/><circle cx="491.1" cy="69.0" r="1.08"/><circle cx="460.5" cy="82.5" r="1.08"/><circle cx="499.9" cy="63.0" r="1.08"/><circle cx="467.6" cy="103.8" r="1.08"/><circle cx="460.2" cy="91.6" r="1.08"/><circle cx="483.4" cy="76.2" r="1.08"/><circle cx="480.3" cy="59.0" r="1.08"/><circle cx="441.2" cy="88.8" r="1.08"/><circle cx="476.6" cy="99.3" r="1.08"/><circle cx="451.3" cy="85.1" r="1.08"/><circle cx="459.7" cy="81.5" r="1.08"/><circle cx="485.6" cy="92.2" r="1.08"/><circle cx="459.2" cy="69.5" r="1.08"/><circle cx="478.7" cy="84.8" r="1.08"/><circle cx="466.9" cy="95.3" r="1.08"/><circle cx="504.0" cy="67.3" r="1.08"/><circle cx="471.4" cy="73.1" r="1.08"/><circle cx="454.1" cy="92.6" r="1.08"/><circle cx="455.2" cy="87.2" r="1.08"/><circle cx="458.4" cy="84.6" r="1.08"/><circle cx="475.0" cy="87.9" r="1.08"/><circle cx="472.9" cy="88.5" r="1.08"/><circle cx="488.5" cy="68.3" r="1.08"/><circle cx="475.6" cy="74.7" r="1.08"/><circle cx="475.0" cy="91.5" r="1.08"/><circle cx="478.1" cy="100.9" r="1.08"/><circle cx="470.8" cy="105.8" r="1.08"/><circle cx="477.6" cy="71.7" r="1.08"/><circle cx="485.4" cy="99.0" r="1.08"/><circle cx="485.4" cy="94.0" r="1.08"/><circle cx="464.1" cy="86.5" r="1.08"/><circle cx="444.5" cy="98.2" r="1.08"/><circle cx="459.9" cy="100.2" r="1.08"/><circle cx="477.4" cy="111.0" r="1.08"/><circle cx="432.9" cy="77.5" r="1.08"/><circle cx="465.2" cy="95.7" r="1.08"/><circle cx="480.0" cy="81.8" r="1.08"/><circle cx="463.8" cy="84.0" r="1.08"/><circle cx="454.9" cy="105.9" r="1.08"/><circle cx="500.9" cy="91.8" r="1.08"/><circle cx="495.0" cy="65.8" r="1.08"/><circle cx="468.6" cy="81.9" r="1.08"/><circle cx="494.0" cy="84.4" r="1.08"/><circle cx="493.6" cy="60.1" r="1.08"/><circle cx="454.6" cy="101.8" r="1.08"/><circle cx="515.8" cy="75.6" r="1.08"/><circle cx="457.7" cy="90.7" r="1.08"/><circle cx="468.5" cy="91.2" r="1.08"/><circle cx="455.2" cy="115.7" r="1.08"/><circle cx="474.0" cy="85.6" r="1.08"/><circle cx="451.6" cy="84.3" r="1.08"/><circle cx="472.6" cy="111.2" r="1.08"/><circle cx="490.1" cy="74.4" r="1.08"/><circle cx="476.1" cy="76.9" r="1.08"/><circle cx="468.5" cy="65.6" r="1.08"/><circle cx="497.5" cy="96.5" r="1.08"/><circle cx="458.3" cy="92.3" r="1.08"/><circle cx="488.2" cy="89.3" r="1.08"/><circle cx="467.8" cy="88.8" r="1.08"/><circle cx="476.1" cy="82.7" r="1.08"/><circle cx="473.2" cy="73.6" r="1.08"/><circle cx="474.7" cy="73.4" r="1.08"/><circle cx="471.8" cy="92.0" r="1.08"/><circle cx="460.1" cy="89.7" r="1.08"/><circle cx="463.5" cy="111.4" r="1.08"/><circle cx="479.7" cy="72.7" r="1.08"/><circle cx="470.9" cy="78.5" r="1.08"/><circle cx="453.9" cy="74.0" r="1.08"/><circle cx="461.3" cy="108.1" r="1.08"/><circle cx="461.4" cy="69.3" r="1.08"/><circle cx="471.7" cy="97.1" r="1.08"/><circle cx="475.4" cy="106.2" r="1.08"/><circle cx="474.0" cy="83.1" r="1.08"/><circle cx="462.0" cy="98.3" r="1.08"/><circle cx="472.8" cy="53.8" r="1.08"/><circle cx="450.5" cy="84.1" r="1.08"/><circle cx="426.2" cy="70.1" r="1.08"/><circle cx="471.6" cy="88.2" r="1.08"/><circle cx="445.9" cy="90.9" r="1.08"/><circle cx="457.2" cy="77.1" r="1.08"/><circle cx="453.1" cy="103.4" r="1.08"/><circle cx="482.5" cy="88.7" r="1.08"/><circle cx="453.0" cy="81.6" r="1.08"/><circle cx="476.8" cy="77.0" r="1.08"/><circle cx="464.5" cy="65.3" r="1.08"/><circle cx="452.5" cy="86.7" r="1.08"/><circle cx="447.0" cy="122.0" r="1.08"/><circle cx="479.7" cy="73.5" r="1.08"/><circle cx="478.5" cy="90.5" r="1.08"/><circle cx="484.7" cy="74.9" r="1.08"/><circle cx="501.6" cy="91.6" r="1.08"/><circle cx="476.6" cy="91.2" r="1.08"/><circle cx="476.7" cy="81.2" r="1.08"/><circle cx="470.2" cy="59.5" r="1.08"/><circle cx="473.9" cy="77.6" r="1.08"/><circle cx="466.5" cy="104.5" r="1.08"/><circle cx="457.8" cy="84.8" r="1.08"/><circle cx="504.1" cy="88.5" r="1.08"/><circle cx="442.2" cy="84.4" r="1.08"/><circle cx="476.2" cy="57.1" r="1.08"/><circle cx="479.2" cy="90.5" r="1.08"/><circle cx="474.5" cy="89.8" r="1.08"/><circle cx="456.6" cy="80.1" r="1.08"/><circle cx="469.0" cy="80.7" r="1.08"/><circle cx="464.6" cy="91.4" r="1.08"/><circle cx="454.8" cy="80.3" r="1.08"/><circle cx="471.2" cy="90.9" r="1.08"/><circle cx="465.4" cy="83.9" r="1.08"/><circle cx="463.1" cy="52.4" r="1.08"/><circle cx="482.9" cy="81.3" r="1.08"/><circle cx="454.9" cy="80.2" r="1.08"/><circle cx="478.9" cy="71.8" r="1.08"/><circle cx="462.1" cy="93.6" r="1.08"/><circle cx="478.7" cy="77.0" r="1.08"/><circle cx="473.0" cy="93.4" r="1.08"/><circle cx="475.7" cy="101.1" r="1.08"/><circle cx="456.1" cy="90.9" r="1.08"/><circle cx="459.4" cy="65.2" r="1.08"/><circle cx="458.1" cy="77.6" r="1.08"/><circle cx="474.6" cy="98.6" r="1.08"/><circle cx="483.7" cy="79.4" r="1.08"/><circle cx="489.0" cy="70.2" r="1.08"/><circle cx="463.7" cy="85.9" r="1.08"/><circle cx="473.1" cy="92.9" r="1.08"/><circle cx="445.8" cy="94.7" r="1.08"/><circle cx="436.2" cy="102.4" r="1.08"/><circle cx="457.8" cy="76.2" r="1.08"/><circle cx="461.0" cy="83.8" r="1.08"/><circle cx="446.8" cy="86.9" r="1.08"/><circle cx="443.2" cy="91.1" r="1.08"/><circle cx="480.2" cy="52.9" r="1.08"/><circle cx="458.8" cy="84.8" r="1.08"/><circle cx="444.7" cy="71.2" r="1.08"/><circle cx="508.8" cy="98.9" r="1.08"/><circle cx="474.4" cy="108.3" r="1.08"/><circle cx="466.5" cy="111.7" r="1.08"/><circle cx="482.4" cy="95.6" r="1.08"/><circle cx="459.4" cy="81.0" r="1.08"/><circle cx="497.0" cy="94.9" r="1.08"/><circle cx="446.9" cy="87.7" r="1.08"/><circle cx="450.6" cy="99.0" r="1.08"/><circle cx="469.3" cy="72.8" r="1.08"/><circle cx="459.2" cy="79.5" r="1.08"/><circle cx="494.0" cy="88.2" r="1.08"/><circle cx="445.8" cy="117.2" r="1.08"/><circle cx="459.7" cy="87.8" r="1.08"/><circle cx="475.2" cy="118.5" r="1.08"/><circle cx="480.4" cy="124.9" r="1.08"/><circle cx="487.4" cy="63.6" r="1.08"/><circle cx="476.9" cy="84.3" r="1.08"/><circle cx="506.6" cy="64.7" r="1.08"/><circle cx="463.8" cy="85.3" r="1.08"/><circle cx="474.1" cy="77.4" r="1.08"/><circle cx="485.0" cy="82.1" r="1.08"/><circle cx="466.2" cy="101.2" r="1.08"/><circle cx="466.6" cy="100.7" r="1.08"/><circle cx="463.8" cy="91.2" r="1.08"/><circle cx="461.0" cy="88.0" r="1.08"/><circle cx="453.2" cy="91.2" r="1.08"/><circle cx="462.4" cy="89.5" r="1.08"/><circle cx="446.4" cy="99.3" r="1.08"/><circle cx="477.3" cy="84.7" r="1.08"/><circle cx="445.7" cy="98.4" r="1.08"/><circle cx="504.2" cy="59.9" r="1.08"/><circle cx="498.4" cy="92.2" r="1.08"/><circle cx="488.8" cy="108.3" r="1.08"/><circle cx="467.8" cy="89.3" r="1.08"/><circle cx="461.7" cy="66.8" r="1.08"/><circle cx="490.7" cy="102.0" r="1.08"/><circle cx="474.0" cy="80.5" r="1.08"/><circle cx="480.1" cy="39.8" r="1.08"/><circle cx="459.6" cy="85.0" r="1.08"/></g>
<path d="M422.80,91.20 L425.51,90.90 L428.23,90.61 L430.94,90.30 L433.65,90.00 L436.36,89.69 L439.08,89.38 L441.79,89.07 L444.50,88.75 L447.22,88.42 L449.93,88.09 L452.64,87.75 L455.35,87.39 L458.07,87.03 L460.78,86.65 L463.49,86.25 L466.21,85.84 L468.92,85.40 L471.63,84.94 L474.34,84.45 L477.06,83.94 L479.77,83.40 L482.48,82.84 L485.19,82.26 L487.91,81.66 L490.62,81.04 L493.33,80.40 L496.05,79.76 L498.76,79.10 L501.47,78.44 L504.18,77.76 L506.90,77.08 L509.61,76.40 L512.32,75.71 L515.04,75.01 L517.75,74.32 L520.46,73.62 L523.17,72.91 L525.89,72.21 L528.60,71.50 L528.60,81.10 L525.89,81.41 L523.17,81.72 L520.46,82.03 L517.75,82.34 L515.04,82.66 L512.32,82.98 L509.61,83.31 L506.90,83.64 L504.18,83.97 L501.47,84.32 L498.76,84.67 L496.05,85.03 L493.33,85.40 L490.62,85.78 L487.91,86.17 L485.19,86.59 L482.48,87.02 L479.77,87.48 L477.06,87.95 L474.34,88.45 L471.63,88.98 L468.92,89.54 L466.21,90.11 L463.49,90.71 L460.78,91.33 L458.07,91.97 L455.35,92.62 L452.64,93.29 L449.93,93.96 L447.22,94.64 L444.50,95.33 L441.79,96.02 L439.08,96.72 L436.36,97.43 L433.65,98.14 L430.94,98.85 L428.23,99.56 L425.51,100.28 L422.80,101.00Z" fill="#999" fill-opacity="0.42"/>
<line x1="422.8" y1="96.1" x2="528.6" y2="76.3" stroke="#3366ff" stroke-width="1.25"/>
<rect x="417.5" y="25.2" width="117.10000000000002" height="110.39999999999999" fill="none" stroke="#555" stroke-width="1.0"/>
<line x1="424.60" y1="135.6" x2="424.60" y2="138.2" stroke="#444" stroke-width="0.9"/>
<text x="424.60" y="147.60" font-size="9.3" text-anchor="middle" fill="#4d4d4d" font-weight="normal" stroke="#4d4d4d" stroke-width="0.101">-0.2</text>
<line x1="448.20" y1="135.6" x2="448.20" y2="138.2" stroke="#444" stroke-width="0.9"/>
<text x="448.20" y="147.60" font-size="9.3" text-anchor="middle" fill="#4d4d4d" font-weight="normal" stroke="#4d4d4d" stroke-width="0.101">-0.1</text>
<line x1="471.80" y1="135.6" x2="471.80" y2="138.2" stroke="#444" stroke-width="0.9"/>
<text x="471.80" y="147.60" font-size="9.3" text-anchor="middle" fill="#4d4d4d" font-weight="normal" stroke="#4d4d4d" stroke-width="0.101">0.0</text>
<line x1="495.40" y1="135.6" x2="495.40" y2="138.2" stroke="#444" stroke-width="0.9"/>
<text x="495.40" y="147.60" font-size="9.3" text-anchor="middle" fill="#4d4d4d" font-weight="normal" stroke="#4d4d4d" stroke-width="0.101">0.1</text>
<line x1="519.00" y1="135.6" x2="519.00" y2="138.2" stroke="#444" stroke-width="0.9"/>
<text x="519.00" y="147.60" font-size="9.3" text-anchor="middle" fill="#4d4d4d" font-weight="normal" stroke="#4d4d4d" stroke-width="0.101">0.2</text>
<text x="476.05" y="21.40" font-size="9.0" text-anchor="middle" fill="#000" font-weight="normal" stroke="#000" stroke-width="0.097">MDSC</text>
<text x="530.80" y="121.40" font-size="12.4" text-anchor="end" fill="#ff0000" font-weight="normal" stroke="#ff0000" stroke-width="0.060">r = 0.209</text>
<text x="530.80" y="132.10" font-size="12.4" text-anchor="end" fill="#ff0000" font-weight="normal" stroke="#ff0000" stroke-width="0.060">p = 8.92e−05</text>
<text x="16.3" y="80.2" font-size="9" text-anchor="middle" stroke="#000" stroke-width="0.130" transform="rotate(-90 16.3 80.2)"><tspan font-style="italic">ITGA6</tspan> (log TPM)</text>
<line x1="38" y1="153.5" x2="519.5" y2="153.5" stroke="#555" stroke-width="1.0"/>
<text x="279.00" y="165.00" font-size="9.0" text-anchor="middle" fill="#000" font-weight="normal" stroke="#000" stroke-width="0.097">Infiltration level</text>
<rect x="24.6" y="181.4" width="94.69999999999999" height="86.9" fill="#fff"/>
<line x1="25.90" y1="181.4" x2="25.90" y2="268.3" stroke="#ececec" stroke-width="0.6"/>
<line x1="37.15" y1="181.4" x2="37.15" y2="268.3" stroke="#f4f4f4" stroke-width="0.4"/>
<line x1="48.40" y1="181.4" x2="48.40" y2="268.3" stroke="#ececec" stroke-width="0.6"/>
<line x1="59.65" y1="181.4" x2="59.65" y2="268.3" stroke="#f4f4f4" stroke-width="0.4"/>
<line x1="70.90" y1="181.4" x2="70.90" y2="268.3" stroke="#ececec" stroke-width="0.6"/>
<line x1="82.15" y1="181.4" x2="82.15" y2="268.3" stroke="#f4f4f4" stroke-width="0.4"/>
<line x1="93.40" y1="181.4" x2="93.40" y2="268.3" stroke="#ececec" stroke-width="0.6"/>
<line x1="104.65" y1="181.4" x2="104.65" y2="268.3" stroke="#f4f4f4" stroke-width="0.4"/>
<line x1="115.90" y1="181.4" x2="115.90" y2="268.3" stroke="#ececec" stroke-width="0.6"/>
<line x1="24.6" y1="267.15" x2="119.3" y2="267.15" stroke="#f4f4f4" stroke-width="0.4"/>
<line x1="24.6" y1="254.20" x2="119.3" y2="254.20" stroke="#ececec" stroke-width="0.6"/>
<line x1="24.6" y1="241.25" x2="119.3" y2="241.25" stroke="#f4f4f4" stroke-width="0.4"/>
<line x1="24.6" y1="228.30" x2="119.3" y2="228.30" stroke="#ececec" stroke-width="0.6"/>
<line x1="24.6" y1="215.35" x2="119.3" y2="215.35" stroke="#f4f4f4" stroke-width="0.4"/>
<line x1="24.6" y1="202.40" x2="119.3" y2="202.40" stroke="#ececec" stroke-width="0.6"/>
<line x1="24.6" y1="189.45" x2="119.3" y2="189.45" stroke="#f4f4f4" stroke-width="0.4"/>
<g fill="#222" fill-opacity="0.55"><circle cx="66.8" cy="227.4" r="0.95"/><circle cx="82.7" cy="218.4" r="0.95"/><circle cx="57.1" cy="242.0" r="0.95"/><circle cx="39.9" cy="247.3" r="0.95"/><circle cx="68.4" cy="223.2" r="0.95"/><circle cx="45.6" cy="254.4" r="0.95"/><circle cx="33.7" cy="247.9" r="0.95"/><circle cx="51.1" cy="223.7" r="0.95"/><circle cx="47.4" cy="241.3" r="0.95"/><circle cx="55.3" cy="242.9" r="0.95"/><circle cx="67.9" cy="242.5" r="0.95"/><circle cx="59.8" cy="228.0" r="0.95"/><circle cx="46.8" cy="238.1" r="0.95"/><circle cx="82.9" cy="222.0" r="0.95"/><circle cx="85.4" cy="225.8" r="0.95"/><circle cx="74.2" cy="201.6" r="0.95"/><circle cx="41.2" cy="240.5" r="0.95"/><circle cx="46.7" cy="259.3" r="0.95"/><circle cx="56.4" cy="229.2" r="0.95"/><circle cx="49.8" cy="232.5" r="0.95"/><circle cx="36.8" cy="233.8" r="0.95"/><circle cx="80.4" cy="245.9" r="0.95"/><circle cx="64.0" cy="213.8" r="0.95"/><circle cx="41.4" cy="235.1" r="0.95"/><circle cx="37.9" cy="236.2" r="0.95"/><circle cx="74.9" cy="247.0" r="0.95"/><circle cx="63.1" cy="222.8" r="0.95"/><circle cx="58.1" cy="231.2" r="0.95"/><circle cx="55.6" cy="213.1" r="0.95"/><circle cx="47.8" cy="238.5" r="0.95"/><circle cx="90.8" cy="238.3" r="0.95"/><circle cx="73.4" cy="224.7" r="0.95"/><circle cx="54.4" cy="243.4" r="0.95"/><circle cx="32.4" cy="231.5" r="0.95"/><circle cx="34.3" cy="250.9" r="0.95"/><circle cx="51.1" cy="233.9" r="0.95"/><circle cx="40.4" cy="237.9" r="0.95"/><circle cx="61.4" cy="230.0" r="0.95"/><circle cx="84.5" cy="230.3" r="0.95"/><circle cx="64.1" cy="239.5" r="0.95"/><circle cx="58.0" cy="231.2" r="0.95"/><circle cx="64.6" cy="236.3" r="0.95"/><circle cx="43.2" cy="232.2" r="0.95"/><circle cx="65.6" cy="232.0" r="0.95"/><circle cx="49.7" cy="262.2" r="0.95"/><circle cx="52.4" cy="232.7" r="0.95"/><circle cx="56.8" cy="212.3" r="0.95"/><circle cx="37.2" cy="231.8" r="0.95"/><circle cx="60.9" cy="221.7" r="0.95"/><circle cx="59.8" cy="223.9" r="0.95"/><circle cx="43.1" cy="240.4" r="0.95"/><circle cx="44.8" cy="251.4" r="0.95"/><circle cx="44.8" cy="223.1" r="0.95"/><circle cx="118.1" cy="200.9" r="0.95"/><circle cx="54.5" cy="223.8" r="0.95"/><circle cx="75.0" cy="220.4" r="0.95"/><circle cx="31.1" cy="232.2" r="0.95"/><circle cx="40.1" cy="235.4" r="0.95"/><circle cx="37.5" cy="232.1" r="0.95"/><circle cx="47.1" cy="233.1" r="0.95"/><circle cx="72.2" cy="222.4" r="0.95"/><circle cx="64.4" cy="241.2" r="0.95"/><circle cx="56.7" cy="239.0" r="0.95"/><circle cx="67.0" cy="220.6" r="0.95"/><circle cx="52.5" cy="236.3" r="0.95"/><circle cx="56.3" cy="262.6" r="0.95"/><circle cx="97.2" cy="218.6" r="0.95"/><circle cx="70.1" cy="257.3" r="0.95"/><circle cx="82.0" cy="199.1" r="0.95"/><circle cx="108.6" cy="207.8" r="0.95"/><circle cx="38.6" cy="226.6" r="0.95"/><circle cx="116.4" cy="223.9" r="0.95"/><circle cx="38.6" cy="250.2" r="0.95"/><circle cx="85.2" cy="226.1" r="0.95"/><circle cx="51.6" cy="231.7" r="0.95"/><circle cx="112.9" cy="226.2" r="0.95"/><circle cx="84.5" cy="221.4" r="0.95"/><circle cx="43.0" cy="225.2" r="0.95"/><circle cx="66.9" cy="220.2" r="0.95"/><circle cx="67.3" cy="241.5" r="0.95"/><circle cx="45.4" cy="261.9" r="0.95"/><circle cx="59.5" cy="229.9" r="0.95"/><circle cx="45.7" cy="242.1" r="0.95"/><circle cx="50.2" cy="226.5" r="0.95"/><circle cx="53.8" cy="209.9" r="0.95"/><circle cx="55.9" cy="209.4" r="0.95"/><circle cx="40.5" cy="231.1" r="0.95"/><circle cx="104.3" cy="203.8" r="0.95"/><circle cx="37.4" cy="214.2" r="0.95"/><circle cx="58.5" cy="229.5" r="0.95"/><circle cx="45.6" cy="229.9" r="0.95"/><circle cx="86.6" cy="211.7" r="0.95"/><circle cx="48.0" cy="233.3" r="0.95"/><circle cx="48.0" cy="239.3" r="0.95"/><circle cx="101.8" cy="228.7" r="0.95"/><circle cx="47.4" cy="232.9" r="0.95"/><circle cx="54.5" cy="239.2" r="0.95"/><circle cx="43.6" cy="223.6" r="0.95"/><circle cx="65.2" cy="232.7" r="0.95"/><circle cx="59.1" cy="210.9" r="0.95"/><circle cx="40.5" cy="219.0" r="0.95"/><circle cx="60.4" cy="245.7" r="0.95"/><circle cx="46.8" cy="219.0" r="0.95"/><circle cx="63.2" cy="234.1" r="0.95"/><circle cx="39.7" cy="217.1" r="0.95"/><circle cx="73.4" cy="219.5" r="0.95"/><circle cx="77.3" cy="225.7" r="0.95"/><circle cx="42.3" cy="225.5" r="0.95"/><circle cx="53.8" cy="238.4" r="0.95"/><circle cx="67.7" cy="223.3" r="0.95"/><circle cx="37.6" cy="230.4" r="0.95"/><circle cx="56.5" cy="232.4" r="0.95"/><circle cx="60.7" cy="224.4" r="0.95"/><circle cx="38.8" cy="248.0" r="0.95"/><circle cx="42.9" cy="226.8" r="0.95"/><circle cx="85.0" cy="238.8" r="0.95"/><circle cx="62.1" cy="220.9" r="0.95"/><circle cx="49.8" cy="226.0" r="0.95"/><circle cx="40.3" cy="225.4" r="0.95"/><circle cx="67.5" cy="234.8" r="0.95"/><circle cx="46.0" cy="193.8" r="0.95"/><circle cx="118.0" cy="217.4" r="0.95"/><circle cx="61.2" cy="227.2" r="0.95"/><circle cx="79.1" cy="234.3" r="0.95"/><circle cx="58.9" cy="211.2" r="0.95"/><circle cx="92.9" cy="227.0" r="0.95"/><circle cx="61.9" cy="216.1" r="0.95"/><circle cx="41.9" cy="246.3" r="0.95"/><circle cx="59.6" cy="225.5" r="0.95"/><circle cx="49.9" cy="236.8" r="0.95"/><circle cx="58.6" cy="217.7" r="0.95"/><circle cx="51.3" cy="235.4" r="0.95"/><circle cx="54.3" cy="242.0" r="0.95"/><circle cx="46.2" cy="227.1" r="0.95"/><circle cx="48.9" cy="247.6" r="0.95"/><circle cx="59.2" cy="241.9" r="0.95"/><circle cx="50.8" cy="221.8" r="0.95"/><circle cx="78.1" cy="248.8" r="0.95"/><circle cx="72.2" cy="216.3" r="0.95"/><circle cx="48.8" cy="237.3" r="0.95"/><circle cx="39.2" cy="246.5" r="0.95"/><circle cx="85.8" cy="219.4" r="0.95"/><circle cx="48.6" cy="224.0" r="0.95"/><circle cx="38.9" cy="242.2" r="0.95"/><circle cx="43.9" cy="235.7" r="0.95"/><circle cx="50.4" cy="221.4" r="0.95"/><circle cx="87.2" cy="212.5" r="0.95"/><circle cx="72.6" cy="226.6" r="0.95"/><circle cx="57.1" cy="239.8" r="0.95"/><circle cx="38.0" cy="247.0" r="0.95"/><circle cx="49.4" cy="239.6" r="0.95"/><circle cx="45.8" cy="224.1" r="0.95"/><circle cx="91.2" cy="213.6" r="0.95"/><circle cx="52.3" cy="227.2" r="0.95"/><circle cx="118.1" cy="196.1" r="0.95"/><circle cx="65.3" cy="231.6" r="0.95"/><circle cx="44.2" cy="238.0" r="0.95"/><circle cx="58.3" cy="234.5" r="0.95"/><circle cx="42.5" cy="209.0" r="0.95"/><circle cx="64.4" cy="254.4" r="0.95"/><circle cx="32.7" cy="232.4" r="0.95"/><circle cx="82.8" cy="217.4" r="0.95"/><circle cx="58.9" cy="228.5" r="0.95"/><circle cx="71.5" cy="196.0" r="0.95"/><circle cx="38.6" cy="219.5" r="0.95"/><circle cx="118.1" cy="204.0" r="0.95"/><circle cx="38.5" cy="246.1" r="0.95"/><circle cx="58.7" cy="222.9" r="0.95"/><circle cx="38.4" cy="239.3" r="0.95"/><circle cx="49.6" cy="231.1" r="0.95"/><circle cx="61.2" cy="226.0" r="0.95"/><circle cx="36.5" cy="241.2" r="0.95"/><circle cx="52.4" cy="222.8" r="0.95"/><circle cx="63.6" cy="207.1" r="0.95"/><circle cx="40.8" cy="220.6" r="0.95"/><circle cx="74.4" cy="222.4" r="0.95"/><circle cx="51.7" cy="255.8" r="0.95"/><circle cx="39.0" cy="220.4" r="0.95"/><circle cx="44.7" cy="219.0" r="0.95"/><circle cx="42.3" cy="235.9" r="0.95"/><circle cx="53.7" cy="236.6" r="0.95"/><circle cx="67.5" cy="218.4" r="0.95"/><circle cx="54.6" cy="240.6" r="0.95"/><circle cx="60.3" cy="218.5" r="0.95"/><circle cx="54.3" cy="244.1" r="0.95"/><circle cx="65.6" cy="239.1" r="0.95"/><circle cx="79.6" cy="223.5" r="0.95"/><circle cx="35.8" cy="253.6" r="0.95"/><circle cx="57.3" cy="229.4" r="0.95"/><circle cx="51.6" cy="224.1" r="0.95"/><circle cx="90.1" cy="237.8" r="0.95"/><circle cx="77.3" cy="212.4" r="0.95"/><circle cx="37.9" cy="241.6" r="0.95"/><circle cx="46.2" cy="225.3" r="0.95"/><circle cx="34.1" cy="232.7" r="0.95"/><circle cx="62.3" cy="233.9" r="0.95"/><circle cx="59.5" cy="235.5" r="0.95"/><circle cx="49.5" cy="253.2" r="0.95"/><circle cx="36.2" cy="243.7" r="0.95"/><circle cx="62.9" cy="237.8" r="0.95"/><circle cx="41.7" cy="212.4" r="0.95"/><circle cx="67.6" cy="213.7" r="0.95"/><circle cx="42.2" cy="250.7" r="0.95"/><circle cx="110.0" cy="205.5" r="0.95"/><circle cx="88.5" cy="218.4" r="0.95"/><circle cx="87.9" cy="226.3" r="0.95"/><circle cx="33.9" cy="229.5" r="0.95"/><circle cx="76.9" cy="214.2" r="0.95"/><circle cx="80.9" cy="230.5" r="0.95"/><circle cx="43.8" cy="236.3" r="0.95"/><circle cx="54.0" cy="228.1" r="0.95"/><circle cx="47.2" cy="244.5" r="0.95"/><circle cx="72.6" cy="223.0" r="0.95"/><circle cx="116.6" cy="215.0" r="0.95"/><circle cx="39.5" cy="242.6" r="0.95"/><circle cx="38.1" cy="245.0" r="0.95"/><circle cx="65.1" cy="223.4" r="0.95"/><circle cx="40.5" cy="222.5" r="0.95"/><circle cx="70.8" cy="221.6" r="0.95"/><circle cx="49.0" cy="242.3" r="0.95"/><circle cx="63.5" cy="218.1" r="0.95"/><circle cx="74.4" cy="222.7" r="0.95"/><circle cx="58.5" cy="221.4" r="0.95"/><circle cx="76.4" cy="209.5" r="0.95"/><circle cx="40.5" cy="245.1" r="0.95"/><circle cx="39.3" cy="235.7" r="0.95"/><circle cx="58.3" cy="236.6" r="0.95"/><circle cx="39.8" cy="244.9" r="0.95"/><circle cx="54.2" cy="204.6" r="0.95"/><circle cx="65.5" cy="215.2" r="0.95"/><circle cx="54.5" cy="252.5" r="0.95"/><circle cx="62.7" cy="222.5" r="0.95"/><circle cx="60.3" cy="235.6" r="0.95"/><circle cx="31.0" cy="221.5" r="0.95"/><circle cx="50.9" cy="229.9" r="0.95"/><circle cx="47.1" cy="234.1" r="0.95"/><circle cx="87.8" cy="219.5" r="0.95"/><circle cx="84.5" cy="217.3" r="0.95"/><circle cx="46.2" cy="231.8" r="0.95"/><circle cx="74.9" cy="227.5" r="0.95"/><circle cx="50.6" cy="232.7" r="0.95"/><circle cx="68.0" cy="220.0" r="0.95"/><circle cx="38.1" cy="248.6" r="0.95"/><circle cx="69.0" cy="226.2" r="0.95"/><circle cx="70.5" cy="227.4" r="0.95"/><circle cx="36.6" cy="240.8" r="0.95"/><circle cx="63.8" cy="218.2" r="0.95"/><circle cx="87.0" cy="237.9" r="0.95"/><circle cx="53.5" cy="234.9" r="0.95"/><circle cx="81.7" cy="233.7" r="0.95"/><circle cx="41.6" cy="226.4" r="0.95"/><circle cx="40.4" cy="239.6" r="0.95"/><circle cx="37.9" cy="233.7" r="0.95"/><circle cx="74.2" cy="220.0" r="0.95"/><circle cx="32.3" cy="256.0" r="0.95"/><circle cx="69.7" cy="220.3" r="0.95"/><circle cx="50.7" cy="240.5" r="0.95"/><circle cx="73.0" cy="228.4" r="0.95"/><circle cx="59.6" cy="230.1" r="0.95"/><circle cx="54.7" cy="219.7" r="0.95"/><circle cx="69.2" cy="216.8" r="0.95"/><circle cx="76.7" cy="201.8" r="0.95"/><circle cx="81.1" cy="220.8" r="0.95"/><circle cx="79.1" cy="229.6" r="0.95"/><circle cx="72.2" cy="231.8" r="0.95"/><circle cx="46.2" cy="223.8" r="0.95"/><circle cx="51.8" cy="210.3" r="0.95"/><circle cx="35.5" cy="230.6" r="0.95"/><circle cx="50.5" cy="238.3" r="0.95"/><circle cx="51.4" cy="227.3" r="0.95"/><circle cx="86.7" cy="218.4" r="0.95"/><circle cx="102.2" cy="217.2" r="0.95"/><circle cx="39.2" cy="243.3" r="0.95"/><circle cx="35.2" cy="267.1" r="0.95"/><circle cx="44.3" cy="239.4" r="0.95"/><circle cx="59.1" cy="215.4" r="0.95"/><circle cx="101.3" cy="215.1" r="0.95"/><circle cx="38.1" cy="262.3" r="0.95"/><circle cx="37.7" cy="234.3" r="0.95"/><circle cx="38.5" cy="257.6" r="0.95"/><circle cx="84.2" cy="197.0" r="0.95"/><circle cx="45.0" cy="230.0" r="0.95"/><circle cx="49.5" cy="246.5" r="0.95"/><circle cx="39.1" cy="223.8" r="0.95"/><circle cx="65.7" cy="237.0" r="0.95"/><circle cx="48.7" cy="224.3" r="0.95"/><circle cx="54.5" cy="229.7" r="0.95"/><circle cx="44.1" cy="247.6" r="0.95"/><circle cx="45.6" cy="223.8" r="0.95"/><circle cx="82.0" cy="239.8" r="0.95"/><circle cx="45.9" cy="215.2" r="0.95"/><circle cx="68.2" cy="225.7" r="0.95"/><circle cx="47.6" cy="244.8" r="0.95"/><circle cx="39.7" cy="256.8" r="0.95"/><circle cx="60.7" cy="207.8" r="0.95"/><circle cx="41.6" cy="214.9" r="0.95"/><circle cx="55.6" cy="245.6" r="0.95"/><circle cx="77.5" cy="203.1" r="0.95"/><circle cx="50.0" cy="229.0" r="0.95"/><circle cx="44.3" cy="235.4" r="0.95"/><circle cx="78.9" cy="224.7" r="0.95"/><circle cx="52.3" cy="233.9" r="0.95"/><circle cx="43.8" cy="214.6" r="0.95"/><circle cx="54.4" cy="228.1" r="0.95"/><circle cx="69.1" cy="249.6" r="0.95"/><circle cx="66.6" cy="200.2" r="0.95"/><circle cx="61.5" cy="216.9" r="0.95"/><circle cx="64.7" cy="241.1" r="0.95"/><circle cx="53.4" cy="234.8" r="0.95"/><circle cx="38.8" cy="245.5" r="0.95"/><circle cx="54.6" cy="229.3" r="0.95"/><circle cx="34.3" cy="230.2" r="0.95"/><circle cx="63.3" cy="224.7" r="0.95"/><circle cx="40.4" cy="241.2" r="0.95"/><circle cx="38.4" cy="244.3" r="0.95"/><circle cx="91.1" cy="209.7" r="0.95"/><circle cx="58.2" cy="230.3" r="0.95"/><circle cx="57.6" cy="200.6" r="0.95"/><circle cx="48.8" cy="241.7" r="0.95"/><circle cx="55.9" cy="219.6" r="0.95"/><circle cx="44.1" cy="232.0" r="0.95"/><circle cx="46.5" cy="241.7" r="0.95"/><circle cx="54.6" cy="212.6" r="0.95"/><circle cx="54.7" cy="228.3" r="0.95"/><circle cx="30.1" cy="247.6" r="0.95"/><circle cx="85.3" cy="226.0" r="0.95"/><circle cx="44.0" cy="219.8" r="0.95"/><circle cx="72.9" cy="240.8" r="0.95"/><circle cx="81.2" cy="205.5" r="0.95"/><circle cx="61.0" cy="219.6" r="0.95"/><circle cx="47.0" cy="235.4" r="0.95"/><circle cx="65.3" cy="209.9" r="0.95"/><circle cx="47.5" cy="209.5" r="0.95"/><circle cx="39.8" cy="226.2" r="0.95"/><circle cx="30.4" cy="234.0" r="0.95"/><circle cx="67.7" cy="203.1" r="0.95"/><circle cx="56.4" cy="210.5" r="0.95"/><circle cx="88.7" cy="232.9" r="0.95"/><circle cx="53.0" cy="233.0" r="0.95"/><circle cx="59.2" cy="231.5" r="0.95"/><circle cx="57.1" cy="234.5" r="0.95"/><circle cx="49.4" cy="250.3" r="0.95"/><circle cx="64.0" cy="216.0" r="0.95"/><circle cx="64.9" cy="226.2" r="0.95"/><circle cx="64.9" cy="226.0" r="0.95"/><circle cx="41.4" cy="215.4" r="0.95"/><circle cx="49.9" cy="238.3" r="0.95"/><circle cx="101.7" cy="218.5" r="0.95"/><circle cx="57.6" cy="225.7" r="0.95"/><circle cx="44.5" cy="238.1" r="0.95"/><circle cx="36.3" cy="236.1" r="0.95"/><circle cx="83.4" cy="212.7" r="0.95"/><circle cx="76.9" cy="224.3" r="0.95"/><circle cx="61.6" cy="211.2" r="0.95"/><circle cx="47.5" cy="241.3" r="0.95"/><circle cx="67.2" cy="224.1" r="0.95"/><circle cx="79.1" cy="241.8" r="0.95"/><circle cx="56.9" cy="230.8" r="0.95"/><circle cx="54.8" cy="238.9" r="0.95"/><circle cx="48.1" cy="214.2" r="0.95"/></g>
<path d="M28.70,234.80 L30.91,234.32 L33.12,233.84 L35.32,233.35 L37.53,232.86 L39.74,232.35 L41.95,231.84 L44.15,231.32 L46.36,230.78 L48.57,230.23 L50.78,229.66 L52.98,229.07 L55.19,228.45 L57.40,227.82 L59.61,227.18 L61.82,226.52 L64.02,225.85 L66.23,225.17 L68.44,224.47 L70.65,223.77 L72.85,223.06 L75.06,222.34 L77.27,221.62 L79.48,220.89 L81.68,220.15 L83.89,219.42 L86.10,218.68 L88.31,217.93 L90.52,217.19 L92.72,216.44 L94.93,215.69 L97.14,214.94 L99.35,214.19 L101.55,213.44 L103.76,212.68 L105.97,211.93 L108.18,211.17 L110.38,210.42 L112.59,209.66 L114.80,208.90 L114.80,217.30 L112.59,217.78 L110.38,218.27 L108.18,218.75 L105.97,219.24 L103.76,219.72 L101.55,220.21 L99.35,220.70 L97.14,221.19 L94.93,221.68 L92.72,222.17 L90.52,222.66 L88.31,223.16 L86.10,223.66 L83.89,224.16 L81.68,224.66 L79.48,225.17 L77.27,225.68 L75.06,226.20 L72.85,226.72 L70.65,227.25 L68.44,227.79 L66.23,228.34 L64.02,228.89 L61.82,229.46 L59.61,230.05 L57.40,230.64 L55.19,231.25 L52.98,231.88 L50.78,232.53 L48.57,233.20 L46.36,233.89 L44.15,234.60 L41.95,235.31 L39.74,236.04 L37.53,236.78 L35.32,237.53 L33.12,238.28 L30.91,239.04 L28.70,239.80Z" fill="#999" fill-opacity="0.42"/>
<line x1="28.7" y1="237.3" x2="114.8" y2="213.1" stroke="#3366ff" stroke-width="1.05"/>
<rect x="24.6" y="181.4" width="94.69999999999999" height="86.9" fill="none" stroke="#999" stroke-width="0.8"/>
<line x1="25.90" y1="268.3" x2="25.90" y2="270.3" stroke="#888" stroke-width="0.7"/>
<text x="25.90" y="277.40" font-size="6.3" text-anchor="middle" fill="#4d4d4d" font-weight="normal" stroke="#4d4d4d" stroke-width="0.068">0</text>
<line x1="48.40" y1="268.3" x2="48.40" y2="270.3" stroke="#888" stroke-width="0.7"/>
<text x="48.40" y="277.40" font-size="6.3" text-anchor="middle" fill="#4d4d4d" font-weight="normal" stroke="#4d4d4d" stroke-width="0.068">1</text>
<line x1="70.90" y1="268.3" x2="70.90" y2="270.3" stroke="#888" stroke-width="0.7"/>
<text x="70.90" y="277.40" font-size="6.3" text-anchor="middle" fill="#4d4d4d" font-weight="normal" stroke="#4d4d4d" stroke-width="0.068">2</text>
<line x1="93.40" y1="268.3" x2="93.40" y2="270.3" stroke="#888" stroke-width="0.7"/>
<text x="93.40" y="277.40" font-size="6.3" text-anchor="middle" fill="#4d4d4d" font-weight="normal" stroke="#4d4d4d" stroke-width="0.068">3</text>
<line x1="22.6" y1="254.20" x2="24.6" y2="254.20" stroke="#888" stroke-width="0.7"/>
<text x="21.60" y="256.40" font-size="6.3" text-anchor="end" fill="#4d4d4d" font-weight="normal" stroke="#4d4d4d" stroke-width="0.068">2</text>
<line x1="22.6" y1="228.30" x2="24.6" y2="228.30" stroke="#888" stroke-width="0.7"/>
<text x="21.60" y="230.50" font-size="6.3" text-anchor="end" fill="#4d4d4d" font-weight="normal" stroke="#4d4d4d" stroke-width="0.068">4</text>
<line x1="22.6" y1="202.40" x2="24.6" y2="202.40" stroke="#888" stroke-width="0.7"/>
<text x="21.60" y="204.60" font-size="6.3" text-anchor="end" fill="#4d4d4d" font-weight="normal" stroke="#4d4d4d" stroke-width="0.068">6</text>
<text x="71.95" y="289.2" font-size="9" text-anchor="middle" stroke="#000" stroke-width="0.098"><tspan font-style="italic">ANGPT2</tspan> (log TPM)</text>
<text x="114.80" y="258.60" font-size="8" text-anchor="end" fill="#ff0000" font-weight="normal" stroke="#ff0000" stroke-width="0.039">r = 0.4</text>
<text x="114.80" y="265.90" font-size="8" text-anchor="end" fill="#ff0000" font-weight="normal" stroke="#ff0000" stroke-width="0.039">p = 1.17e−14</text>
<rect x="130.9" y="181.4" width="94.6" height="86.9" fill="#fff"/>
<line x1="135.85" y1="181.4" x2="135.85" y2="268.3" stroke="#f4f4f4" stroke-width="0.4"/>
<line x1="151.60" y1="181.4" x2="151.60" y2="268.3" stroke="#ececec" stroke-width="0.6"/>
<line x1="167.35" y1="181.4" x2="167.35" y2="268.3" stroke="#f4f4f4" stroke-width="0.4"/>
<line x1="183.10" y1="181.4" x2="183.10" y2="268.3" stroke="#ececec" stroke-width="0.6"/>
<line x1="198.85" y1="181.4" x2="198.85" y2="268.3" stroke="#f4f4f4" stroke-width="0.4"/>
<line x1="214.60" y1="181.4" x2="214.60" y2="268.3" stroke="#ececec" stroke-width="0.6"/>
<line x1="130.9" y1="267.15" x2="225.5" y2="267.15" stroke="#f4f4f4" stroke-width="0.4"/>
<line x1="130.9" y1="254.20" x2="225.5" y2="254.20" stroke="#ececec" stroke-width="0.6"/>
<line x1="130.9" y1="241.25" x2="225.5" y2="241.25" stroke="#f4f4f4" stroke-width="0.4"/>
<line x1="130.9" y1="228.30" x2="225.5" y2="228.30" stroke="#ececec" stroke-width="0.6"/>
<line x1="130.9" y1="215.35" x2="225.5" y2="215.35" stroke="#f4f4f4" stroke-width="0.4"/>
<line x1="130.9" y1="202.40" x2="225.5" y2="202.40" stroke="#ececec" stroke-width="0.6"/>
<line x1="130.9" y1="189.45" x2="225.5" y2="189.45" stroke="#f4f4f4" stroke-width="0.4"/>
<g fill="#222" fill-opacity="0.55"><circle cx="167.5" cy="257.2" r="0.95"/><circle cx="202.3" cy="222.0" r="0.95"/><circle cx="181.3" cy="226.4" r="0.95"/><circle cx="192.2" cy="228.0" r="0.95"/><circle cx="156.0" cy="252.5" r="0.95"/><circle cx="193.4" cy="246.0" r="0.95"/><circle cx="208.3" cy="231.6" r="0.95"/><circle cx="159.9" cy="236.0" r="0.95"/><circle cx="210.7" cy="243.8" r="0.95"/><circle cx="196.6" cy="244.5" r="0.95"/><circle cx="180.3" cy="226.4" r="0.95"/><circle cx="168.7" cy="222.4" r="0.95"/><circle cx="205.9" cy="236.3" r="0.95"/><circle cx="141.6" cy="249.7" r="0.95"/><circle cx="198.2" cy="239.8" r="0.95"/><circle cx="186.5" cy="200.4" r="0.95"/><circle cx="179.4" cy="227.5" r="0.95"/><circle cx="157.3" cy="238.7" r="0.95"/><circle cx="177.3" cy="221.2" r="0.95"/><circle cx="202.4" cy="199.9" r="0.95"/><circle cx="167.6" cy="220.8" r="0.95"/><circle cx="138.5" cy="259.7" r="0.95"/><circle cx="170.5" cy="236.5" r="0.95"/><circle cx="207.9" cy="233.9" r="0.95"/><circle cx="168.7" cy="240.2" r="0.95"/><circle cx="174.8" cy="250.5" r="0.95"/><circle cx="199.1" cy="235.4" r="0.95"/><circle cx="193.3" cy="245.4" r="0.95"/><circle cx="219.9" cy="222.1" r="0.95"/><circle cx="215.1" cy="226.8" r="0.95"/><circle cx="198.6" cy="248.7" r="0.95"/><circle cx="199.5" cy="252.4" r="0.95"/><circle cx="165.5" cy="242.6" r="0.95"/><circle cx="178.2" cy="225.6" r="0.95"/><circle cx="185.7" cy="226.3" r="0.95"/><circle cx="168.4" cy="236.7" r="0.95"/><circle cx="171.5" cy="267.1" r="0.95"/><circle cx="177.6" cy="240.6" r="0.95"/><circle cx="169.8" cy="245.2" r="0.95"/><circle cx="204.6" cy="233.7" r="0.95"/><circle cx="196.0" cy="246.7" r="0.95"/><circle cx="185.7" cy="238.4" r="0.95"/><circle cx="186.4" cy="241.2" r="0.95"/><circle cx="194.1" cy="196.0" r="0.95"/><circle cx="180.7" cy="224.5" r="0.95"/><circle cx="186.6" cy="235.1" r="0.95"/><circle cx="166.8" cy="236.8" r="0.95"/><circle cx="199.3" cy="231.8" r="0.95"/><circle cx="203.2" cy="227.1" r="0.95"/><circle cx="195.1" cy="236.3" r="0.95"/><circle cx="196.7" cy="231.0" r="0.95"/><circle cx="195.1" cy="217.7" r="0.95"/><circle cx="217.9" cy="216.1" r="0.95"/><circle cx="192.9" cy="227.4" r="0.95"/><circle cx="172.2" cy="217.9" r="0.95"/><circle cx="176.0" cy="231.6" r="0.95"/><circle cx="199.8" cy="242.9" r="0.95"/><circle cx="204.6" cy="252.0" r="0.95"/><circle cx="200.6" cy="239.1" r="0.95"/><circle cx="201.6" cy="230.7" r="0.95"/><circle cx="192.7" cy="226.3" r="0.95"/><circle cx="170.0" cy="221.6" r="0.95"/><circle cx="180.5" cy="241.1" r="0.95"/><circle cx="165.6" cy="246.8" r="0.95"/><circle cx="184.9" cy="222.9" r="0.95"/><circle cx="171.7" cy="220.0" r="0.95"/><circle cx="191.5" cy="237.9" r="0.95"/><circle cx="145.5" cy="235.6" r="0.95"/><circle cx="163.7" cy="218.9" r="0.95"/><circle cx="200.1" cy="226.0" r="0.95"/><circle cx="200.5" cy="230.8" r="0.95"/><circle cx="171.2" cy="262.4" r="0.95"/><circle cx="192.1" cy="214.4" r="0.95"/><circle cx="199.9" cy="221.8" r="0.95"/><circle cx="186.2" cy="231.0" r="0.95"/><circle cx="201.8" cy="235.9" r="0.95"/><circle cx="192.7" cy="247.7" r="0.95"/><circle cx="204.7" cy="230.6" r="0.95"/><circle cx="192.6" cy="232.9" r="0.95"/><circle cx="187.9" cy="218.1" r="0.95"/><circle cx="197.0" cy="246.4" r="0.95"/><circle cx="200.8" cy="211.3" r="0.95"/><circle cx="193.5" cy="230.9" r="0.95"/><circle cx="184.0" cy="217.7" r="0.95"/><circle cx="179.3" cy="246.5" r="0.95"/><circle cx="185.0" cy="228.4" r="0.95"/><circle cx="182.2" cy="217.5" r="0.95"/><circle cx="192.8" cy="230.0" r="0.95"/><circle cx="192.4" cy="250.6" r="0.95"/><circle cx="188.9" cy="236.5" r="0.95"/><circle cx="190.0" cy="225.0" r="0.95"/><circle cx="192.4" cy="249.7" r="0.95"/><circle cx="211.4" cy="246.9" r="0.95"/><circle cx="206.4" cy="225.9" r="0.95"/><circle cx="182.1" cy="245.7" r="0.95"/><circle cx="195.8" cy="222.1" r="0.95"/><circle cx="185.5" cy="248.0" r="0.95"/><circle cx="188.7" cy="256.0" r="0.95"/><circle cx="186.7" cy="242.7" r="0.95"/><circle cx="181.5" cy="214.1" r="0.95"/><circle cx="171.4" cy="246.5" r="0.95"/><circle cx="156.4" cy="238.1" r="0.95"/><circle cx="192.7" cy="228.3" r="0.95"/><circle cx="206.1" cy="241.4" r="0.95"/><circle cx="177.6" cy="220.0" r="0.95"/><circle cx="196.9" cy="228.4" r="0.95"/><circle cx="184.7" cy="227.1" r="0.95"/><circle cx="193.8" cy="253.1" r="0.95"/><circle cx="178.9" cy="256.7" r="0.95"/><circle cx="186.8" cy="267.1" r="0.95"/><circle cx="146.6" cy="242.3" r="0.95"/><circle cx="157.4" cy="240.8" r="0.95"/><circle cx="167.2" cy="226.7" r="0.95"/><circle cx="188.1" cy="213.0" r="0.95"/><circle cx="156.0" cy="241.4" r="0.95"/><circle cx="198.8" cy="233.8" r="0.95"/><circle cx="189.5" cy="226.2" r="0.95"/><circle cx="192.7" cy="211.6" r="0.95"/><circle cx="194.8" cy="241.7" r="0.95"/><circle cx="184.2" cy="224.9" r="0.95"/><circle cx="175.2" cy="237.8" r="0.95"/><circle cx="183.8" cy="237.4" r="0.95"/><circle cx="184.0" cy="222.4" r="0.95"/><circle cx="220.3" cy="236.7" r="0.95"/><circle cx="215.1" cy="241.2" r="0.95"/><circle cx="183.2" cy="224.5" r="0.95"/><circle cx="184.2" cy="233.3" r="0.95"/><circle cx="194.3" cy="234.6" r="0.95"/><circle cx="197.6" cy="232.3" r="0.95"/><circle cx="180.4" cy="227.2" r="0.95"/><circle cx="176.1" cy="239.2" r="0.95"/><circle cx="152.3" cy="228.8" r="0.95"/><circle cx="204.3" cy="224.0" r="0.95"/><circle cx="168.5" cy="216.6" r="0.95"/><circle cx="165.6" cy="219.9" r="0.95"/><circle cx="178.5" cy="222.9" r="0.95"/><circle cx="192.8" cy="234.0" r="0.95"/><circle cx="197.3" cy="229.1" r="0.95"/><circle cx="185.1" cy="240.5" r="0.95"/><circle cx="167.6" cy="199.0" r="0.95"/><circle cx="192.8" cy="234.3" r="0.95"/><circle cx="198.1" cy="223.2" r="0.95"/><circle cx="189.8" cy="214.3" r="0.95"/><circle cx="183.0" cy="250.8" r="0.95"/><circle cx="197.7" cy="241.2" r="0.95"/><circle cx="189.0" cy="237.2" r="0.95"/><circle cx="174.4" cy="247.6" r="0.95"/><circle cx="191.1" cy="248.1" r="0.95"/><circle cx="172.0" cy="241.9" r="0.95"/><circle cx="203.0" cy="212.8" r="0.95"/><circle cx="196.2" cy="221.4" r="0.95"/><circle cx="176.1" cy="234.0" r="0.95"/><circle cx="192.7" cy="231.0" r="0.95"/><circle cx="207.0" cy="250.3" r="0.95"/><circle cx="160.2" cy="228.2" r="0.95"/><circle cx="187.8" cy="226.7" r="0.95"/><circle cx="212.5" cy="241.8" r="0.95"/><circle cx="168.4" cy="233.1" r="0.95"/><circle cx="187.5" cy="234.8" r="0.95"/><circle cx="170.1" cy="242.2" r="0.95"/><circle cx="188.8" cy="244.9" r="0.95"/><circle cx="156.6" cy="246.7" r="0.95"/><circle cx="167.4" cy="248.2" r="0.95"/><circle cx="182.3" cy="227.3" r="0.95"/><circle cx="163.2" cy="232.0" r="0.95"/><circle cx="195.0" cy="226.8" r="0.95"/><circle cx="195.6" cy="233.2" r="0.95"/><circle cx="205.6" cy="234.3" r="0.95"/><circle cx="199.4" cy="203.7" r="0.95"/><circle cx="200.0" cy="254.2" r="0.95"/><circle cx="176.2" cy="218.8" r="0.95"/><circle cx="187.6" cy="227.7" r="0.95"/><circle cx="224.0" cy="224.8" r="0.95"/><circle cx="221.2" cy="232.8" r="0.95"/><circle cx="201.2" cy="232.6" r="0.95"/><circle cx="200.0" cy="245.4" r="0.95"/><circle cx="203.5" cy="247.4" r="0.95"/><circle cx="184.2" cy="234.3" r="0.95"/><circle cx="216.9" cy="248.4" r="0.95"/><circle cx="184.6" cy="222.0" r="0.95"/><circle cx="188.6" cy="217.6" r="0.95"/><circle cx="220.0" cy="267.1" r="0.95"/><circle cx="160.9" cy="257.2" r="0.95"/><circle cx="194.8" cy="227.4" r="0.95"/><circle cx="165.8" cy="233.5" r="0.95"/><circle cx="180.7" cy="232.1" r="0.95"/><circle cx="188.5" cy="226.6" r="0.95"/><circle cx="184.9" cy="223.1" r="0.95"/><circle cx="192.2" cy="220.2" r="0.95"/><circle cx="179.1" cy="210.6" r="0.95"/><circle cx="188.3" cy="231.8" r="0.95"/><circle cx="173.2" cy="223.7" r="0.95"/><circle cx="184.4" cy="253.8" r="0.95"/><circle cx="170.4" cy="237.1" r="0.95"/><circle cx="198.9" cy="246.0" r="0.95"/><circle cx="140.6" cy="222.7" r="0.95"/><circle cx="199.4" cy="199.9" r="0.95"/><circle cx="184.0" cy="225.9" r="0.95"/><circle cx="185.5" cy="249.4" r="0.95"/><circle cx="206.2" cy="230.3" r="0.95"/><circle cx="191.3" cy="231.2" r="0.95"/><circle cx="163.3" cy="234.0" r="0.95"/><circle cx="138.6" cy="227.0" r="0.95"/><circle cx="149.2" cy="226.8" r="0.95"/><circle cx="193.5" cy="265.5" r="0.95"/><circle cx="184.2" cy="215.1" r="0.95"/><circle cx="170.2" cy="241.8" r="0.95"/><circle cx="190.9" cy="238.9" r="0.95"/><circle cx="170.0" cy="217.1" r="0.95"/><circle cx="217.8" cy="230.2" r="0.95"/><circle cx="183.6" cy="250.7" r="0.95"/><circle cx="217.0" cy="244.1" r="0.95"/><circle cx="209.1" cy="227.6" r="0.95"/><circle cx="181.2" cy="221.6" r="0.95"/><circle cx="178.3" cy="214.4" r="0.95"/><circle cx="208.3" cy="230.7" r="0.95"/><circle cx="187.9" cy="238.2" r="0.95"/><circle cx="192.0" cy="210.4" r="0.95"/><circle cx="186.2" cy="238.4" r="0.95"/><circle cx="172.8" cy="216.0" r="0.95"/><circle cx="184.5" cy="229.7" r="0.95"/><circle cx="176.3" cy="231.2" r="0.95"/><circle cx="159.0" cy="240.4" r="0.95"/><circle cx="185.6" cy="228.7" r="0.95"/><circle cx="214.8" cy="233.3" r="0.95"/><circle cx="212.5" cy="236.5" r="0.95"/><circle cx="139.7" cy="242.6" r="0.95"/><circle cx="191.7" cy="239.9" r="0.95"/><circle cx="197.0" cy="226.6" r="0.95"/><circle cx="208.9" cy="227.2" r="0.95"/><circle cx="194.2" cy="234.4" r="0.95"/><circle cx="183.0" cy="235.6" r="0.95"/><circle cx="184.3" cy="235.7" r="0.95"/><circle cx="205.7" cy="206.4" r="0.95"/><circle cx="224.0" cy="225.7" r="0.95"/><circle cx="180.9" cy="241.1" r="0.95"/><circle cx="136.5" cy="245.3" r="0.95"/><circle cx="201.2" cy="221.2" r="0.95"/><circle cx="188.7" cy="234.6" r="0.95"/><circle cx="191.7" cy="233.4" r="0.95"/><circle cx="207.2" cy="232.0" r="0.95"/><circle cx="190.7" cy="229.5" r="0.95"/><circle cx="171.1" cy="230.1" r="0.95"/><circle cx="162.1" cy="231.1" r="0.95"/><circle cx="189.1" cy="253.1" r="0.95"/><circle cx="173.4" cy="248.6" r="0.95"/><circle cx="193.9" cy="265.1" r="0.95"/><circle cx="171.8" cy="224.7" r="0.95"/><circle cx="184.8" cy="218.4" r="0.95"/><circle cx="169.0" cy="218.7" r="0.95"/><circle cx="184.7" cy="230.9" r="0.95"/><circle cx="183.5" cy="218.1" r="0.95"/><circle cx="198.2" cy="230.8" r="0.95"/><circle cx="208.7" cy="229.9" r="0.95"/><circle cx="187.2" cy="252.2" r="0.95"/><circle cx="177.6" cy="244.1" r="0.95"/><circle cx="217.4" cy="234.5" r="0.95"/><circle cx="194.9" cy="219.0" r="0.95"/><circle cx="198.4" cy="208.8" r="0.95"/><circle cx="198.4" cy="236.3" r="0.95"/><circle cx="210.3" cy="223.3" r="0.95"/><circle cx="204.1" cy="225.7" r="0.95"/><circle cx="199.4" cy="240.1" r="0.95"/><circle cx="200.6" cy="252.1" r="0.95"/><circle cx="177.7" cy="243.7" r="0.95"/><circle cx="181.2" cy="252.0" r="0.95"/><circle cx="188.3" cy="236.2" r="0.95"/><circle cx="191.1" cy="233.4" r="0.95"/><circle cx="190.1" cy="234.1" r="0.95"/><circle cx="194.2" cy="233.2" r="0.95"/><circle cx="190.2" cy="225.5" r="0.95"/><circle cx="183.8" cy="245.0" r="0.95"/><circle cx="166.9" cy="224.5" r="0.95"/><circle cx="201.6" cy="251.3" r="0.95"/><circle cx="198.1" cy="229.5" r="0.95"/><circle cx="177.4" cy="229.0" r="0.95"/><circle cx="196.9" cy="240.8" r="0.95"/><circle cx="195.4" cy="251.4" r="0.95"/><circle cx="154.1" cy="230.0" r="0.95"/><circle cx="163.8" cy="245.2" r="0.95"/><circle cx="167.2" cy="225.8" r="0.95"/><circle cx="181.3" cy="223.4" r="0.95"/><circle cx="212.7" cy="227.8" r="0.95"/><circle cx="163.8" cy="236.6" r="0.95"/><circle cx="184.9" cy="220.0" r="0.95"/><circle cx="174.1" cy="229.8" r="0.95"/><circle cx="182.9" cy="245.2" r="0.95"/><circle cx="194.7" cy="228.8" r="0.95"/><circle cx="160.5" cy="230.0" r="0.95"/><circle cx="149.7" cy="236.5" r="0.95"/><circle cx="199.2" cy="227.7" r="0.95"/><circle cx="190.3" cy="233.7" r="0.95"/><circle cx="151.1" cy="240.4" r="0.95"/><circle cx="203.5" cy="241.4" r="0.95"/><circle cx="203.6" cy="247.8" r="0.95"/><circle cx="160.2" cy="222.7" r="0.95"/><circle cx="187.4" cy="240.5" r="0.95"/><circle cx="205.5" cy="226.1" r="0.95"/><circle cx="180.4" cy="252.9" r="0.95"/><circle cx="185.4" cy="230.6" r="0.95"/><circle cx="203.3" cy="240.1" r="0.95"/><circle cx="186.0" cy="194.3" r="0.95"/><circle cx="148.6" cy="252.4" r="0.95"/><circle cx="180.1" cy="246.1" r="0.95"/><circle cx="171.0" cy="223.1" r="0.95"/><circle cx="197.7" cy="215.8" r="0.95"/><circle cx="165.4" cy="263.4" r="0.95"/><circle cx="204.0" cy="226.0" r="0.95"/><circle cx="166.5" cy="224.7" r="0.95"/><circle cx="190.5" cy="247.5" r="0.95"/><circle cx="169.0" cy="226.8" r="0.95"/><circle cx="185.3" cy="239.5" r="0.95"/><circle cx="167.6" cy="248.7" r="0.95"/><circle cx="205.7" cy="233.5" r="0.95"/><circle cx="208.3" cy="234.5" r="0.95"/><circle cx="188.6" cy="250.0" r="0.95"/><circle cx="191.3" cy="202.8" r="0.95"/><circle cx="193.1" cy="237.1" r="0.95"/><circle cx="198.5" cy="239.9" r="0.95"/><circle cx="184.2" cy="221.9" r="0.95"/><circle cx="205.4" cy="230.0" r="0.95"/><circle cx="194.4" cy="213.9" r="0.95"/><circle cx="206.0" cy="232.4" r="0.95"/><circle cx="196.6" cy="226.1" r="0.95"/><circle cx="199.4" cy="228.9" r="0.95"/><circle cx="179.5" cy="231.6" r="0.95"/><circle cx="156.2" cy="240.6" r="0.95"/><circle cx="171.5" cy="236.5" r="0.95"/><circle cx="185.6" cy="211.1" r="0.95"/><circle cx="187.3" cy="241.1" r="0.95"/><circle cx="201.7" cy="236.7" r="0.95"/><circle cx="172.0" cy="239.5" r="0.95"/><circle cx="224.0" cy="218.3" r="0.95"/><circle cx="188.1" cy="227.0" r="0.95"/><circle cx="207.6" cy="216.6" r="0.95"/><circle cx="204.5" cy="246.4" r="0.95"/><circle cx="154.1" cy="235.0" r="0.95"/><circle cx="186.1" cy="234.8" r="0.95"/><circle cx="210.7" cy="231.8" r="0.95"/><circle cx="155.4" cy="236.0" r="0.95"/><circle cx="200.7" cy="255.2" r="0.95"/><circle cx="176.8" cy="230.7" r="0.95"/><circle cx="183.2" cy="231.2" r="0.95"/><circle cx="193.0" cy="249.6" r="0.95"/><circle cx="163.4" cy="237.9" r="0.95"/><circle cx="138.4" cy="221.3" r="0.95"/><circle cx="180.6" cy="238.5" r="0.95"/><circle cx="179.2" cy="226.2" r="0.95"/><circle cx="199.7" cy="233.0" r="0.95"/><circle cx="224.0" cy="236.1" r="0.95"/><circle cx="194.7" cy="242.8" r="0.95"/><circle cx="197.6" cy="235.5" r="0.95"/><circle cx="189.1" cy="215.3" r="0.95"/><circle cx="179.5" cy="223.2" r="0.95"/><circle cx="193.5" cy="240.3" r="0.95"/><circle cx="211.3" cy="215.2" r="0.95"/><circle cx="192.5" cy="233.0" r="0.95"/><circle cx="202.4" cy="238.4" r="0.95"/><circle cx="186.6" cy="226.9" r="0.95"/><circle cx="224.0" cy="237.4" r="0.95"/></g>
<path d="M134.80,236.60 L137.00,236.26 L139.19,235.91 L141.39,235.56 L143.59,235.22 L145.79,234.87 L147.98,234.52 L150.18,234.17 L152.38,233.82 L154.58,233.47 L156.77,233.12 L158.97,232.76 L161.17,232.41 L163.37,232.05 L165.56,231.69 L167.76,231.33 L169.96,230.96 L172.16,230.60 L174.35,230.23 L176.55,229.85 L178.75,229.47 L180.95,229.08 L183.14,228.69 L185.34,228.29 L187.54,227.89 L189.74,227.47 L191.93,227.04 L194.13,226.61 L196.33,226.16 L198.53,225.69 L200.72,225.21 L202.92,224.72 L205.12,224.22 L207.32,223.70 L209.51,223.18 L211.71,222.64 L213.91,222.09 L216.11,221.53 L218.30,220.97 L220.50,220.40 L220.50,224.40 L218.30,224.79 L216.11,225.18 L213.91,225.59 L211.71,226.00 L209.51,226.42 L207.32,226.85 L205.12,227.29 L202.92,227.75 L200.72,228.22 L198.53,228.70 L196.33,229.19 L194.13,229.70 L191.93,230.22 L189.74,230.75 L187.54,231.30 L185.34,231.85 L183.14,232.41 L180.95,232.98 L178.75,233.55 L176.55,234.13 L174.35,234.71 L172.16,235.30 L169.96,235.89 L167.76,236.49 L165.56,237.08 L163.37,237.68 L161.17,238.28 L158.97,238.89 L156.77,239.49 L154.58,240.10 L152.38,240.71 L150.18,241.32 L147.98,241.93 L145.79,242.54 L143.59,243.15 L141.39,243.76 L139.19,244.37 L137.00,244.99 L134.80,245.60Z" fill="#999" fill-opacity="0.42"/>
<line x1="134.8" y1="241.1" x2="220.5" y2="222.4" stroke="#3366ff" stroke-width="1.05"/>
<rect x="130.9" y="181.4" width="94.6" height="86.9" fill="none" stroke="#999" stroke-width="0.8"/>
<line x1="151.60" y1="268.3" x2="151.60" y2="270.3" stroke="#888" stroke-width="0.7"/>
<text x="151.60" y="277.40" font-size="6.3" text-anchor="middle" fill="#4d4d4d" font-weight="normal" stroke="#4d4d4d" stroke-width="0.068">2</text>
<line x1="183.10" y1="268.3" x2="183.10" y2="270.3" stroke="#888" stroke-width="0.7"/>
<text x="183.10" y="277.40" font-size="6.3" text-anchor="middle" fill="#4d4d4d" font-weight="normal" stroke="#4d4d4d" stroke-width="0.068">4</text>
<line x1="214.60" y1="268.3" x2="214.60" y2="270.3" stroke="#888" stroke-width="0.7"/>
<text x="214.60" y="277.40" font-size="6.3" text-anchor="middle" fill="#4d4d4d" font-weight="normal" stroke="#4d4d4d" stroke-width="0.068">6</text>
<line x1="128.9" y1="254.20" x2="130.9" y2="254.20" stroke="#888" stroke-width="0.7"/>
<text x="127.90" y="256.40" font-size="6.3" text-anchor="end" fill="#4d4d4d" font-weight="normal" stroke="#4d4d4d" stroke-width="0.068">2</text>
<line x1="128.9" y1="228.30" x2="130.9" y2="228.30" stroke="#888" stroke-width="0.7"/>
<text x="127.90" y="230.50" font-size="6.3" text-anchor="end" fill="#4d4d4d" font-weight="normal" stroke="#4d4d4d" stroke-width="0.068">4</text>
<line x1="128.9" y1="202.40" x2="130.9" y2="202.40" stroke="#888" stroke-width="0.7"/>
<text x="127.90" y="204.60" font-size="6.3" text-anchor="end" fill="#4d4d4d" font-weight="normal" stroke="#4d4d4d" stroke-width="0.068">6</text>
<text x="178.20" y="289.2" font-size="9" text-anchor="middle" stroke="#000" stroke-width="0.098"><tspan font-style="italic">CD34</tspan> (log TPM)</text>
<text x="221.00" y="258.60" font-size="8" text-anchor="end" fill="#ff0000" font-weight="normal" stroke="#ff0000" stroke-width="0.039">r = 0.288</text>
<text x="221.00" y="265.90" font-size="8" text-anchor="end" fill="#ff0000" font-weight="normal" stroke="#ff0000" stroke-width="0.039">p = 5.12e−08</text>
<rect x="234.5" y="181.4" width="93.89999999999998" height="86.9" fill="#fff"/>
<line x1="238.65" y1="181.4" x2="238.65" y2="268.3" stroke="#f4f4f4" stroke-width="0.4"/>
<line x1="250.30" y1="181.4" x2="250.30" y2="268.3" stroke="#ececec" stroke-width="0.6"/>
<line x1="261.95" y1="181.4" x2="261.95" y2="268.3" stroke="#f4f4f4" stroke-width="0.4"/>
<line x1="273.60" y1="181.4" x2="273.60" y2="268.3" stroke="#ececec" stroke-width="0.6"/>
<line x1="285.25" y1="181.4" x2="285.25" y2="268.3" stroke="#f4f4f4" stroke-width="0.4"/>
<line x1="296.90" y1="181.4" x2="296.90" y2="268.3" stroke="#ececec" stroke-width="0.6"/>
<line x1="308.55" y1="181.4" x2="308.55" y2="268.3" stroke="#f4f4f4" stroke-width="0.4"/>
<line x1="320.20" y1="181.4" x2="320.20" y2="268.3" stroke="#ececec" stroke-width="0.6"/>
<line x1="234.5" y1="267.15" x2="328.4" y2="267.15" stroke="#f4f4f4" stroke-width="0.4"/>
<line x1="234.5" y1="254.20" x2="328.4" y2="254.20" stroke="#ececec" stroke-width="0.6"/>
<line x1="234.5" y1="241.25" x2="328.4" y2="241.25" stroke="#f4f4f4" stroke-width="0.4"/>
<line x1="234.5" y1="228.30" x2="328.4" y2="228.30" stroke="#ececec" stroke-width="0.6"/>
<line x1="234.5" y1="215.35" x2="328.4" y2="215.35" stroke="#f4f4f4" stroke-width="0.4"/>
<line x1="234.5" y1="202.40" x2="328.4" y2="202.40" stroke="#ececec" stroke-width="0.6"/>
<line x1="234.5" y1="189.45" x2="328.4" y2="189.45" stroke="#f4f4f4" stroke-width="0.4"/>
<g fill="#222" fill-opacity="0.55"><circle cx="247.7" cy="234.1" r="0.95"/><circle cx="297.2" cy="233.8" r="0.95"/><circle cx="243.2" cy="244.8" r="0.95"/><circle cx="284.2" cy="245.6" r="0.95"/><circle cx="248.5" cy="231.8" r="0.95"/><circle cx="274.3" cy="210.1" r="0.95"/><circle cx="271.4" cy="261.2" r="0.95"/><circle cx="267.3" cy="259.4" r="0.95"/><circle cx="237.1" cy="216.6" r="0.95"/><circle cx="273.0" cy="250.6" r="0.95"/><circle cx="274.2" cy="224.0" r="0.95"/><circle cx="259.3" cy="248.4" r="0.95"/><circle cx="273.7" cy="218.0" r="0.95"/><circle cx="292.0" cy="214.5" r="0.95"/><circle cx="262.5" cy="228.5" r="0.95"/><circle cx="279.3" cy="216.4" r="0.95"/><circle cx="255.0" cy="231.5" r="0.95"/><circle cx="281.5" cy="219.5" r="0.95"/><circle cx="285.9" cy="201.5" r="0.95"/><circle cx="317.7" cy="205.4" r="0.95"/><circle cx="290.5" cy="234.3" r="0.95"/><circle cx="282.4" cy="237.8" r="0.95"/><circle cx="299.2" cy="227.0" r="0.95"/><circle cx="257.7" cy="234.7" r="0.95"/><circle cx="293.4" cy="223.9" r="0.95"/><circle cx="265.5" cy="238.3" r="0.95"/><circle cx="264.2" cy="221.5" r="0.95"/><circle cx="293.8" cy="224.2" r="0.95"/><circle cx="279.0" cy="222.6" r="0.95"/><circle cx="297.8" cy="223.9" r="0.95"/><circle cx="249.9" cy="224.7" r="0.95"/><circle cx="279.6" cy="243.7" r="0.95"/><circle cx="265.9" cy="208.5" r="0.95"/><circle cx="270.3" cy="224.5" r="0.95"/><circle cx="242.1" cy="228.4" r="0.95"/><circle cx="291.1" cy="216.9" r="0.95"/><circle cx="278.6" cy="212.9" r="0.95"/><circle cx="258.0" cy="221.5" r="0.95"/><circle cx="251.8" cy="229.4" r="0.95"/><circle cx="260.0" cy="233.5" r="0.95"/><circle cx="299.0" cy="246.0" r="0.95"/><circle cx="273.3" cy="225.6" r="0.95"/><circle cx="269.3" cy="233.6" r="0.95"/><circle cx="283.5" cy="230.9" r="0.95"/><circle cx="275.2" cy="195.5" r="0.95"/><circle cx="279.0" cy="252.7" r="0.95"/><circle cx="287.8" cy="225.0" r="0.95"/><circle cx="280.7" cy="210.6" r="0.95"/><circle cx="290.2" cy="212.3" r="0.95"/><circle cx="254.6" cy="215.2" r="0.95"/><circle cx="276.2" cy="245.2" r="0.95"/><circle cx="269.0" cy="242.4" r="0.95"/><circle cx="276.9" cy="219.4" r="0.95"/><circle cx="274.4" cy="232.3" r="0.95"/><circle cx="264.2" cy="206.9" r="0.95"/><circle cx="269.1" cy="226.2" r="0.95"/><circle cx="291.4" cy="222.4" r="0.95"/><circle cx="265.7" cy="223.9" r="0.95"/><circle cx="253.8" cy="235.8" r="0.95"/><circle cx="285.4" cy="224.5" r="0.95"/><circle cx="291.9" cy="234.1" r="0.95"/><circle cx="270.5" cy="229.5" r="0.95"/><circle cx="277.4" cy="234.2" r="0.95"/><circle cx="260.8" cy="227.3" r="0.95"/><circle cx="271.7" cy="248.0" r="0.95"/><circle cx="294.2" cy="244.7" r="0.95"/><circle cx="289.0" cy="219.2" r="0.95"/><circle cx="277.8" cy="224.5" r="0.95"/><circle cx="270.5" cy="242.0" r="0.95"/><circle cx="247.3" cy="236.4" r="0.95"/><circle cx="280.7" cy="241.3" r="0.95"/><circle cx="283.1" cy="198.8" r="0.95"/><circle cx="293.3" cy="245.8" r="0.95"/><circle cx="309.8" cy="198.2" r="0.95"/><circle cx="281.7" cy="238.0" r="0.95"/><circle cx="291.7" cy="219.2" r="0.95"/><circle cx="256.2" cy="235.2" r="0.95"/><circle cx="295.9" cy="229.3" r="0.95"/><circle cx="290.2" cy="212.4" r="0.95"/><circle cx="298.7" cy="212.5" r="0.95"/><circle cx="286.9" cy="229.7" r="0.95"/><circle cx="283.1" cy="238.9" r="0.95"/><circle cx="300.6" cy="195.0" r="0.95"/><circle cx="264.0" cy="211.0" r="0.95"/><circle cx="286.4" cy="223.9" r="0.95"/><circle cx="293.9" cy="228.5" r="0.95"/><circle cx="262.0" cy="226.5" r="0.95"/><circle cx="255.7" cy="230.5" r="0.95"/><circle cx="282.8" cy="210.3" r="0.95"/><circle cx="277.5" cy="240.6" r="0.95"/><circle cx="285.8" cy="225.7" r="0.95"/><circle cx="286.4" cy="236.5" r="0.95"/><circle cx="262.4" cy="212.6" r="0.95"/><circle cx="281.2" cy="202.3" r="0.95"/><circle cx="294.7" cy="225.5" r="0.95"/><circle cx="269.4" cy="221.7" r="0.95"/><circle cx="270.6" cy="209.7" r="0.95"/><circle cx="256.3" cy="235.6" r="0.95"/><circle cx="289.4" cy="237.9" r="0.95"/><circle cx="308.8" cy="207.5" r="0.95"/><circle cx="252.2" cy="225.4" r="0.95"/><circle cx="288.5" cy="228.2" r="0.95"/><circle cx="290.9" cy="205.1" r="0.95"/><circle cx="266.0" cy="226.5" r="0.95"/><circle cx="269.2" cy="253.3" r="0.95"/><circle cx="257.8" cy="226.5" r="0.95"/><circle cx="262.2" cy="231.2" r="0.95"/><circle cx="278.4" cy="201.8" r="0.95"/><circle cx="286.7" cy="226.0" r="0.95"/><circle cx="277.6" cy="230.3" r="0.95"/><circle cx="290.2" cy="219.2" r="0.95"/><circle cx="279.1" cy="223.9" r="0.95"/><circle cx="255.7" cy="250.8" r="0.95"/><circle cx="300.3" cy="221.5" r="0.95"/><circle cx="295.8" cy="228.5" r="0.95"/><circle cx="263.5" cy="211.0" r="0.95"/><circle cx="305.8" cy="189.5" r="0.95"/><circle cx="283.6" cy="241.5" r="0.95"/><circle cx="277.9" cy="240.5" r="0.95"/><circle cx="308.3" cy="233.1" r="0.95"/><circle cx="236.3" cy="244.2" r="0.95"/><circle cx="248.3" cy="242.4" r="0.95"/><circle cx="287.8" cy="224.8" r="0.95"/><circle cx="271.5" cy="213.8" r="0.95"/><circle cx="259.6" cy="248.5" r="0.95"/><circle cx="301.4" cy="243.9" r="0.95"/><circle cx="284.0" cy="251.3" r="0.95"/><circle cx="254.0" cy="216.9" r="0.95"/><circle cx="264.5" cy="211.9" r="0.95"/><circle cx="290.2" cy="245.9" r="0.95"/><circle cx="306.2" cy="244.2" r="0.95"/><circle cx="241.6" cy="232.5" r="0.95"/><circle cx="280.0" cy="212.1" r="0.95"/><circle cx="269.3" cy="215.2" r="0.95"/><circle cx="246.0" cy="230.8" r="0.95"/><circle cx="273.0" cy="219.0" r="0.95"/><circle cx="248.5" cy="228.5" r="0.95"/><circle cx="266.7" cy="237.0" r="0.95"/><circle cx="303.4" cy="196.6" r="0.95"/><circle cx="284.6" cy="226.1" r="0.95"/><circle cx="289.1" cy="240.4" r="0.95"/><circle cx="286.1" cy="232.2" r="0.95"/><circle cx="281.9" cy="247.6" r="0.95"/><circle cx="292.4" cy="224.4" r="0.95"/><circle cx="256.0" cy="216.6" r="0.95"/><circle cx="269.7" cy="246.1" r="0.95"/><circle cx="290.4" cy="209.7" r="0.95"/><circle cx="263.5" cy="201.6" r="0.95"/><circle cx="268.4" cy="224.0" r="0.95"/><circle cx="296.5" cy="239.6" r="0.95"/><circle cx="302.1" cy="234.4" r="0.95"/><circle cx="265.6" cy="234.2" r="0.95"/><circle cx="262.0" cy="247.8" r="0.95"/><circle cx="285.9" cy="242.9" r="0.95"/><circle cx="280.6" cy="230.4" r="0.95"/><circle cx="264.5" cy="232.4" r="0.95"/><circle cx="286.1" cy="217.6" r="0.95"/><circle cx="285.4" cy="242.3" r="0.95"/><circle cx="277.4" cy="202.0" r="0.95"/><circle cx="323.7" cy="204.3" r="0.95"/><circle cx="299.2" cy="211.2" r="0.95"/><circle cx="289.9" cy="234.0" r="0.95"/><circle cx="293.5" cy="200.8" r="0.95"/><circle cx="323.7" cy="223.4" r="0.95"/><circle cx="294.8" cy="199.5" r="0.95"/><circle cx="263.8" cy="215.5" r="0.95"/><circle cx="281.5" cy="238.9" r="0.95"/><circle cx="277.3" cy="233.7" r="0.95"/><circle cx="266.4" cy="204.1" r="0.95"/><circle cx="280.5" cy="213.2" r="0.95"/><circle cx="280.3" cy="229.0" r="0.95"/><circle cx="275.1" cy="225.1" r="0.95"/><circle cx="267.8" cy="226.6" r="0.95"/><circle cx="290.2" cy="235.5" r="0.95"/><circle cx="248.8" cy="235.6" r="0.95"/><circle cx="290.1" cy="234.0" r="0.95"/><circle cx="276.2" cy="233.5" r="0.95"/><circle cx="280.8" cy="220.5" r="0.95"/><circle cx="236.3" cy="248.2" r="0.95"/><circle cx="304.8" cy="212.4" r="0.95"/><circle cx="246.5" cy="231.8" r="0.95"/><circle cx="261.3" cy="220.1" r="0.95"/><circle cx="287.1" cy="213.5" r="0.95"/><circle cx="265.7" cy="212.7" r="0.95"/><circle cx="269.1" cy="220.5" r="0.95"/><circle cx="237.9" cy="225.3" r="0.95"/><circle cx="268.6" cy="231.6" r="0.95"/><circle cx="279.7" cy="219.3" r="0.95"/><circle cx="287.7" cy="237.8" r="0.95"/><circle cx="271.2" cy="232.0" r="0.95"/><circle cx="279.8" cy="216.8" r="0.95"/><circle cx="283.6" cy="227.0" r="0.95"/><circle cx="264.6" cy="223.8" r="0.95"/><circle cx="263.3" cy="244.5" r="0.95"/><circle cx="309.6" cy="202.7" r="0.95"/><circle cx="261.6" cy="238.3" r="0.95"/><circle cx="297.2" cy="218.3" r="0.95"/><circle cx="277.3" cy="227.8" r="0.95"/><circle cx="301.3" cy="210.2" r="0.95"/><circle cx="265.2" cy="235.0" r="0.95"/><circle cx="285.0" cy="239.6" r="0.95"/><circle cx="281.8" cy="252.5" r="0.95"/><circle cx="272.2" cy="232.6" r="0.95"/><circle cx="281.4" cy="243.0" r="0.95"/><circle cx="263.0" cy="222.9" r="0.95"/><circle cx="274.8" cy="208.3" r="0.95"/><circle cx="269.3" cy="259.3" r="0.95"/><circle cx="289.2" cy="242.8" r="0.95"/><circle cx="274.6" cy="223.8" r="0.95"/><circle cx="252.3" cy="215.4" r="0.95"/><circle cx="269.8" cy="224.7" r="0.95"/><circle cx="274.5" cy="223.6" r="0.95"/><circle cx="260.7" cy="223.7" r="0.95"/><circle cx="298.9" cy="215.5" r="0.95"/><circle cx="283.1" cy="204.0" r="0.95"/><circle cx="290.6" cy="216.6" r="0.95"/><circle cx="263.0" cy="247.1" r="0.95"/><circle cx="269.3" cy="235.4" r="0.95"/><circle cx="293.4" cy="221.6" r="0.95"/><circle cx="251.6" cy="243.4" r="0.95"/><circle cx="282.4" cy="230.1" r="0.95"/><circle cx="277.7" cy="234.6" r="0.95"/><circle cx="267.6" cy="238.9" r="0.95"/><circle cx="277.7" cy="217.9" r="0.95"/><circle cx="257.7" cy="236.5" r="0.95"/><circle cx="280.0" cy="241.9" r="0.95"/><circle cx="255.3" cy="241.4" r="0.95"/><circle cx="254.3" cy="231.3" r="0.95"/><circle cx="300.1" cy="194.3" r="0.95"/><circle cx="264.1" cy="226.4" r="0.95"/><circle cx="239.9" cy="214.3" r="0.95"/><circle cx="292.8" cy="217.8" r="0.95"/><circle cx="262.9" cy="259.6" r="0.95"/><circle cx="236.3" cy="230.1" r="0.95"/><circle cx="275.2" cy="239.5" r="0.95"/><circle cx="292.1" cy="243.2" r="0.95"/><circle cx="282.2" cy="241.3" r="0.95"/><circle cx="305.7" cy="197.7" r="0.95"/><circle cx="274.0" cy="249.7" r="0.95"/><circle cx="286.4" cy="234.2" r="0.95"/><circle cx="258.9" cy="215.1" r="0.95"/><circle cx="279.0" cy="218.1" r="0.95"/><circle cx="302.4" cy="246.1" r="0.95"/><circle cx="284.8" cy="227.6" r="0.95"/><circle cx="278.9" cy="234.2" r="0.95"/><circle cx="242.2" cy="236.8" r="0.95"/><circle cx="269.7" cy="218.7" r="0.95"/><circle cx="254.0" cy="239.8" r="0.95"/><circle cx="289.5" cy="229.6" r="0.95"/><circle cx="263.5" cy="210.1" r="0.95"/><circle cx="282.4" cy="251.8" r="0.95"/><circle cx="258.9" cy="236.1" r="0.95"/><circle cx="308.6" cy="215.2" r="0.95"/><circle cx="256.0" cy="248.6" r="0.95"/><circle cx="278.5" cy="235.9" r="0.95"/><circle cx="321.4" cy="237.2" r="0.95"/><circle cx="279.9" cy="224.9" r="0.95"/><circle cx="261.2" cy="239.1" r="0.95"/><circle cx="286.7" cy="215.0" r="0.95"/><circle cx="293.2" cy="210.5" r="0.95"/><circle cx="291.1" cy="224.3" r="0.95"/><circle cx="242.3" cy="239.3" r="0.95"/><circle cx="279.9" cy="223.5" r="0.95"/><circle cx="239.6" cy="233.9" r="0.95"/><circle cx="308.8" cy="238.2" r="0.95"/><circle cx="277.4" cy="212.8" r="0.95"/><circle cx="268.2" cy="226.1" r="0.95"/><circle cx="287.8" cy="214.7" r="0.95"/><circle cx="284.6" cy="244.8" r="0.95"/><circle cx="255.8" cy="219.6" r="0.95"/><circle cx="304.2" cy="193.6" r="0.95"/><circle cx="272.0" cy="220.1" r="0.95"/><circle cx="245.9" cy="253.3" r="0.95"/><circle cx="300.3" cy="222.7" r="0.95"/><circle cx="302.6" cy="223.6" r="0.95"/><circle cx="297.8" cy="220.7" r="0.95"/><circle cx="285.7" cy="229.2" r="0.95"/><circle cx="260.8" cy="223.9" r="0.95"/><circle cx="292.4" cy="231.1" r="0.95"/><circle cx="308.3" cy="218.5" r="0.95"/><circle cx="290.3" cy="234.5" r="0.95"/><circle cx="303.8" cy="221.2" r="0.95"/><circle cx="262.8" cy="216.6" r="0.95"/><circle cx="293.8" cy="231.2" r="0.95"/><circle cx="292.4" cy="215.6" r="0.95"/><circle cx="250.5" cy="244.8" r="0.95"/><circle cx="248.1" cy="238.2" r="0.95"/><circle cx="263.8" cy="233.4" r="0.95"/><circle cx="277.6" cy="210.4" r="0.95"/><circle cx="284.1" cy="236.8" r="0.95"/><circle cx="272.3" cy="211.8" r="0.95"/><circle cx="275.1" cy="248.1" r="0.95"/><circle cx="274.3" cy="230.3" r="0.95"/><circle cx="277.8" cy="215.0" r="0.95"/><circle cx="286.4" cy="216.3" r="0.95"/><circle cx="284.8" cy="240.0" r="0.95"/><circle cx="275.3" cy="244.8" r="0.95"/><circle cx="280.7" cy="214.9" r="0.95"/><circle cx="268.4" cy="246.6" r="0.95"/><circle cx="290.1" cy="217.2" r="0.95"/><circle cx="267.5" cy="236.6" r="0.95"/><circle cx="304.7" cy="222.6" r="0.95"/><circle cx="275.9" cy="196.1" r="0.95"/><circle cx="281.0" cy="205.6" r="0.95"/><circle cx="263.1" cy="218.8" r="0.95"/><circle cx="270.3" cy="247.8" r="0.95"/><circle cx="279.1" cy="222.9" r="0.95"/><circle cx="276.6" cy="227.0" r="0.95"/><circle cx="265.5" cy="231.2" r="0.95"/><circle cx="256.1" cy="213.2" r="0.95"/><circle cx="277.0" cy="251.3" r="0.95"/><circle cx="278.9" cy="222.9" r="0.95"/><circle cx="285.8" cy="224.3" r="0.95"/><circle cx="297.9" cy="234.1" r="0.95"/><circle cx="270.9" cy="205.1" r="0.95"/><circle cx="241.7" cy="251.8" r="0.95"/><circle cx="273.8" cy="227.9" r="0.95"/><circle cx="244.3" cy="232.8" r="0.95"/><circle cx="254.0" cy="262.2" r="0.95"/><circle cx="294.2" cy="244.1" r="0.95"/><circle cx="286.1" cy="239.3" r="0.95"/><circle cx="265.1" cy="219.1" r="0.95"/><circle cx="265.3" cy="216.9" r="0.95"/><circle cx="274.7" cy="220.0" r="0.95"/><circle cx="245.8" cy="230.3" r="0.95"/><circle cx="284.6" cy="256.5" r="0.95"/><circle cx="270.2" cy="226.0" r="0.95"/><circle cx="308.3" cy="228.9" r="0.95"/><circle cx="257.9" cy="215.2" r="0.95"/><circle cx="293.7" cy="206.0" r="0.95"/><circle cx="264.5" cy="199.3" r="0.95"/><circle cx="294.0" cy="214.8" r="0.95"/><circle cx="259.3" cy="219.9" r="0.95"/><circle cx="289.1" cy="239.6" r="0.95"/><circle cx="268.7" cy="228.2" r="0.95"/><circle cx="262.0" cy="247.6" r="0.95"/><circle cx="273.7" cy="216.0" r="0.95"/><circle cx="284.6" cy="242.7" r="0.95"/><circle cx="283.4" cy="229.5" r="0.95"/><circle cx="303.8" cy="234.0" r="0.95"/><circle cx="290.6" cy="231.6" r="0.95"/><circle cx="236.3" cy="229.1" r="0.95"/><circle cx="269.4" cy="237.0" r="0.95"/><circle cx="241.7" cy="231.4" r="0.95"/><circle cx="269.6" cy="243.0" r="0.95"/><circle cx="287.2" cy="206.6" r="0.95"/><circle cx="253.1" cy="241.2" r="0.95"/><circle cx="255.8" cy="217.8" r="0.95"/><circle cx="278.8" cy="198.0" r="0.95"/><circle cx="271.3" cy="262.4" r="0.95"/><circle cx="303.9" cy="236.4" r="0.95"/><circle cx="281.9" cy="229.7" r="0.95"/><circle cx="285.6" cy="210.0" r="0.95"/><circle cx="306.8" cy="228.8" r="0.95"/><circle cx="267.6" cy="224.3" r="0.95"/><circle cx="276.3" cy="238.0" r="0.95"/><circle cx="259.1" cy="223.4" r="0.95"/><circle cx="280.8" cy="243.8" r="0.95"/><circle cx="294.4" cy="213.0" r="0.95"/><circle cx="300.2" cy="264.7" r="0.95"/></g>
<path d="M238.00,234.50 L240.25,234.14 L242.51,233.79 L244.76,233.43 L247.02,233.07 L249.27,232.70 L251.52,232.34 L253.78,231.97 L256.03,231.60 L258.28,231.23 L260.54,230.85 L262.79,230.47 L265.05,230.09 L267.30,229.70 L269.55,229.30 L271.81,228.90 L274.06,228.49 L276.32,228.07 L278.57,227.65 L280.82,227.21 L283.08,226.77 L285.33,226.32 L287.58,225.85 L289.84,225.36 L292.09,224.86 L294.35,224.34 L296.60,223.81 L298.85,223.27 L301.11,222.72 L303.36,222.16 L305.62,221.59 L307.87,221.02 L310.12,220.44 L312.38,219.86 L314.63,219.27 L316.88,218.68 L319.14,218.09 L321.39,217.49 L323.65,216.90 L325.90,216.30 L325.90,222.70 L323.65,223.01 L321.39,223.33 L319.14,223.65 L316.88,223.97 L314.63,224.29 L312.38,224.62 L310.12,224.95 L307.87,225.28 L305.62,225.62 L303.36,225.97 L301.11,226.32 L298.85,226.68 L296.60,227.05 L294.35,227.44 L292.09,227.83 L289.84,228.24 L287.58,228.67 L285.33,229.12 L283.08,229.58 L280.82,230.04 L278.57,230.52 L276.32,231.01 L274.06,231.51 L271.81,232.01 L269.55,232.52 L267.30,233.04 L265.05,233.56 L262.79,234.09 L260.54,234.62 L258.28,235.16 L256.03,235.70 L253.78,236.24 L251.52,236.78 L249.27,237.33 L247.02,237.88 L244.76,238.43 L242.51,238.99 L240.25,239.54 L238.00,240.10Z" fill="#999" fill-opacity="0.42"/>
<line x1="238.0" y1="237.3" x2="325.9" y2="219.5" stroke="#3366ff" stroke-width="1.05"/>
<rect x="234.5" y="181.4" width="93.89999999999998" height="86.9" fill="none" stroke="#999" stroke-width="0.8"/>
<line x1="250.30" y1="268.3" x2="250.30" y2="270.3" stroke="#888" stroke-width="0.7"/>
<text x="250.30" y="277.40" font-size="6.3" text-anchor="middle" fill="#4d4d4d" font-weight="normal" stroke="#4d4d4d" stroke-width="0.068">2</text>
<line x1="273.60" y1="268.3" x2="273.60" y2="270.3" stroke="#888" stroke-width="0.7"/>
<text x="273.60" y="277.40" font-size="6.3" text-anchor="middle" fill="#4d4d4d" font-weight="normal" stroke="#4d4d4d" stroke-width="0.068">4</text>
<line x1="296.90" y1="268.3" x2="296.90" y2="270.3" stroke="#888" stroke-width="0.7"/>
<text x="296.90" y="277.40" font-size="6.3" text-anchor="middle" fill="#4d4d4d" font-weight="normal" stroke="#4d4d4d" stroke-width="0.068">6</text>
<line x1="320.20" y1="268.3" x2="320.20" y2="270.3" stroke="#888" stroke-width="0.7"/>
<text x="320.20" y="277.40" font-size="6.3" text-anchor="middle" fill="#4d4d4d" font-weight="normal" stroke="#4d4d4d" stroke-width="0.068">8</text>
<line x1="232.5" y1="254.20" x2="234.5" y2="254.20" stroke="#888" stroke-width="0.7"/>
<text x="231.50" y="256.40" font-size="6.3" text-anchor="end" fill="#4d4d4d" font-weight="normal" stroke="#4d4d4d" stroke-width="0.068">2</text>
<line x1="232.5" y1="228.30" x2="234.5" y2="228.30" stroke="#888" stroke-width="0.7"/>
<text x="231.50" y="230.50" font-size="6.3" text-anchor="end" fill="#4d4d4d" font-weight="normal" stroke="#4d4d4d" stroke-width="0.068">4</text>
<line x1="232.5" y1="202.40" x2="234.5" y2="202.40" stroke="#888" stroke-width="0.7"/>
<text x="231.50" y="204.60" font-size="6.3" text-anchor="end" fill="#4d4d4d" font-weight="normal" stroke="#4d4d4d" stroke-width="0.068">6</text>
<text x="281.45" y="289.2" font-size="9" text-anchor="middle" stroke="#000" stroke-width="0.098"><tspan font-style="italic">CXCR4</tspan> (log TPM)</text>
<text x="323.90" y="258.60" font-size="8" text-anchor="end" fill="#ff0000" font-weight="normal" stroke="#ff0000" stroke-width="0.039">r = 0.299</text>
<text x="323.90" y="265.90" font-size="8" text-anchor="end" fill="#ff0000" font-weight="normal" stroke="#ff0000" stroke-width="0.039">p = 1.43e−08</text>
<rect x="338.1" y="181.4" width="94.09999999999997" height="86.9" fill="#fff"/>
<line x1="342.40" y1="181.4" x2="342.40" y2="268.3" stroke="#ececec" stroke-width="0.6"/>
<line x1="355.40" y1="181.4" x2="355.40" y2="268.3" stroke="#f4f4f4" stroke-width="0.4"/>
<line x1="368.40" y1="181.4" x2="368.40" y2="268.3" stroke="#ececec" stroke-width="0.6"/>
<line x1="381.40" y1="181.4" x2="381.40" y2="268.3" stroke="#f4f4f4" stroke-width="0.4"/>
<line x1="394.40" y1="181.4" x2="394.40" y2="268.3" stroke="#ececec" stroke-width="0.6"/>
<line x1="407.40" y1="181.4" x2="407.40" y2="268.3" stroke="#f4f4f4" stroke-width="0.4"/>
<line x1="420.40" y1="181.4" x2="420.40" y2="268.3" stroke="#ececec" stroke-width="0.6"/>
<line x1="338.1" y1="267.15" x2="432.2" y2="267.15" stroke="#f4f4f4" stroke-width="0.4"/>
<line x1="338.1" y1="254.20" x2="432.2" y2="254.20" stroke="#ececec" stroke-width="0.6"/>
<line x1="338.1" y1="241.25" x2="432.2" y2="241.25" stroke="#f4f4f4" stroke-width="0.4"/>
<line x1="338.1" y1="228.30" x2="432.2" y2="228.30" stroke="#ececec" stroke-width="0.6"/>
<line x1="338.1" y1="215.35" x2="432.2" y2="215.35" stroke="#f4f4f4" stroke-width="0.4"/>
<line x1="338.1" y1="202.40" x2="432.2" y2="202.40" stroke="#ececec" stroke-width="0.6"/>
<line x1="338.1" y1="189.45" x2="432.2" y2="189.45" stroke="#f4f4f4" stroke-width="0.4"/>
<g fill="#222" fill-opacity="0.55"><circle cx="355.3" cy="239.8" r="0.95"/><circle cx="345.5" cy="208.5" r="0.95"/><circle cx="375.0" cy="239.3" r="0.95"/><circle cx="408.7" cy="206.8" r="0.95"/><circle cx="348.7" cy="235.7" r="0.95"/><circle cx="351.7" cy="221.9" r="0.95"/><circle cx="362.4" cy="231.7" r="0.95"/><circle cx="363.5" cy="251.6" r="0.95"/><circle cx="356.1" cy="236.9" r="0.95"/><circle cx="373.5" cy="199.8" r="0.95"/><circle cx="353.6" cy="233.5" r="0.95"/><circle cx="371.5" cy="221.2" r="0.95"/><circle cx="346.1" cy="237.5" r="0.95"/><circle cx="370.0" cy="230.9" r="0.95"/><circle cx="366.9" cy="225.2" r="0.95"/><circle cx="353.8" cy="225.2" r="0.95"/><circle cx="343.2" cy="203.2" r="0.95"/><circle cx="354.1" cy="231.8" r="0.95"/><circle cx="354.0" cy="234.1" r="0.95"/><circle cx="356.8" cy="240.2" r="0.95"/><circle cx="346.5" cy="250.7" r="0.95"/><circle cx="356.0" cy="253.2" r="0.95"/><circle cx="345.1" cy="224.0" r="0.95"/><circle cx="360.8" cy="255.8" r="0.95"/><circle cx="410.0" cy="203.6" r="0.95"/><circle cx="414.3" cy="210.3" r="0.95"/><circle cx="423.1" cy="224.6" r="0.95"/><circle cx="343.7" cy="248.9" r="0.95"/><circle cx="360.4" cy="230.2" r="0.95"/><circle cx="342.8" cy="233.1" r="0.95"/><circle cx="361.5" cy="215.1" r="0.95"/><circle cx="361.0" cy="240.6" r="0.95"/><circle cx="367.1" cy="234.6" r="0.95"/><circle cx="351.1" cy="232.8" r="0.95"/><circle cx="397.5" cy="228.4" r="0.95"/><circle cx="350.2" cy="240.7" r="0.95"/><circle cx="367.7" cy="252.7" r="0.95"/><circle cx="428.2" cy="242.1" r="0.95"/><circle cx="362.5" cy="239.4" r="0.95"/><circle cx="343.6" cy="236.3" r="0.95"/><circle cx="399.9" cy="210.7" r="0.95"/><circle cx="343.6" cy="201.8" r="0.95"/><circle cx="363.8" cy="206.7" r="0.95"/><circle cx="366.3" cy="224.2" r="0.95"/><circle cx="376.8" cy="202.4" r="0.95"/><circle cx="354.7" cy="233.1" r="0.95"/><circle cx="358.7" cy="238.0" r="0.95"/><circle cx="379.9" cy="196.0" r="0.95"/><circle cx="347.1" cy="247.2" r="0.95"/><circle cx="345.9" cy="238.5" r="0.95"/><circle cx="376.3" cy="231.6" r="0.95"/><circle cx="353.3" cy="211.8" r="0.95"/><circle cx="354.7" cy="239.5" r="0.95"/><circle cx="393.3" cy="214.7" r="0.95"/><circle cx="351.4" cy="237.5" r="0.95"/><circle cx="363.1" cy="246.8" r="0.95"/><circle cx="349.6" cy="229.1" r="0.95"/><circle cx="342.4" cy="231.1" r="0.95"/><circle cx="355.9" cy="247.0" r="0.95"/><circle cx="379.9" cy="239.2" r="0.95"/><circle cx="346.4" cy="243.6" r="0.95"/><circle cx="360.2" cy="217.5" r="0.95"/><circle cx="373.5" cy="222.2" r="0.95"/><circle cx="379.9" cy="224.2" r="0.95"/><circle cx="343.2" cy="226.6" r="0.95"/><circle cx="358.2" cy="237.4" r="0.95"/><circle cx="384.8" cy="220.2" r="0.95"/><circle cx="344.6" cy="241.3" r="0.95"/><circle cx="358.9" cy="248.9" r="0.95"/><circle cx="347.6" cy="242.1" r="0.95"/><circle cx="388.9" cy="223.1" r="0.95"/><circle cx="344.9" cy="231.8" r="0.95"/><circle cx="359.4" cy="216.3" r="0.95"/><circle cx="401.9" cy="246.9" r="0.95"/><circle cx="353.0" cy="234.7" r="0.95"/><circle cx="353.0" cy="226.4" r="0.95"/><circle cx="360.2" cy="243.7" r="0.95"/><circle cx="342.5" cy="230.0" r="0.95"/><circle cx="363.8" cy="235.6" r="0.95"/><circle cx="355.3" cy="246.7" r="0.95"/><circle cx="344.3" cy="217.9" r="0.95"/><circle cx="358.4" cy="249.7" r="0.95"/><circle cx="357.6" cy="217.4" r="0.95"/><circle cx="360.1" cy="236.2" r="0.95"/><circle cx="346.3" cy="245.6" r="0.95"/><circle cx="352.6" cy="243.8" r="0.95"/><circle cx="349.1" cy="242.3" r="0.95"/><circle cx="383.3" cy="238.4" r="0.95"/><circle cx="378.6" cy="224.0" r="0.95"/><circle cx="342.9" cy="258.7" r="0.95"/><circle cx="351.0" cy="215.2" r="0.95"/><circle cx="347.2" cy="221.3" r="0.95"/><circle cx="424.5" cy="201.4" r="0.95"/><circle cx="347.6" cy="245.9" r="0.95"/><circle cx="345.1" cy="264.5" r="0.95"/><circle cx="388.5" cy="234.5" r="0.95"/><circle cx="367.4" cy="231.7" r="0.95"/><circle cx="359.5" cy="226.5" r="0.95"/><circle cx="347.0" cy="239.7" r="0.95"/><circle cx="388.3" cy="227.2" r="0.95"/><circle cx="349.3" cy="230.2" r="0.95"/><circle cx="343.3" cy="254.3" r="0.95"/><circle cx="342.7" cy="208.8" r="0.95"/><circle cx="352.3" cy="247.0" r="0.95"/><circle cx="384.2" cy="223.1" r="0.95"/><circle cx="343.9" cy="218.5" r="0.95"/><circle cx="351.6" cy="242.5" r="0.95"/><circle cx="412.5" cy="222.1" r="0.95"/><circle cx="377.8" cy="205.5" r="0.95"/><circle cx="360.9" cy="234.2" r="0.95"/><circle cx="377.0" cy="213.6" r="0.95"/><circle cx="344.8" cy="229.0" r="0.95"/><circle cx="345.0" cy="229.8" r="0.95"/><circle cx="343.3" cy="223.4" r="0.95"/><circle cx="378.7" cy="230.7" r="0.95"/><circle cx="360.3" cy="233.3" r="0.95"/><circle cx="361.6" cy="217.2" r="0.95"/><circle cx="369.2" cy="225.5" r="0.95"/><circle cx="357.7" cy="224.1" r="0.95"/><circle cx="354.5" cy="247.6" r="0.95"/><circle cx="358.4" cy="230.5" r="0.95"/><circle cx="361.4" cy="213.8" r="0.95"/><circle cx="347.2" cy="220.3" r="0.95"/><circle cx="377.8" cy="223.0" r="0.95"/><circle cx="363.0" cy="237.0" r="0.95"/><circle cx="367.7" cy="237.6" r="0.95"/><circle cx="356.1" cy="225.2" r="0.95"/><circle cx="343.7" cy="213.8" r="0.95"/><circle cx="345.7" cy="232.2" r="0.95"/><circle cx="347.8" cy="214.7" r="0.95"/><circle cx="391.0" cy="229.6" r="0.95"/><circle cx="371.0" cy="212.4" r="0.95"/><circle cx="369.7" cy="242.5" r="0.95"/><circle cx="350.1" cy="229.5" r="0.95"/><circle cx="348.2" cy="246.8" r="0.95"/><circle cx="351.5" cy="222.9" r="0.95"/><circle cx="366.0" cy="221.7" r="0.95"/><circle cx="357.9" cy="243.7" r="0.95"/><circle cx="354.0" cy="241.5" r="0.95"/><circle cx="348.0" cy="238.4" r="0.95"/><circle cx="356.9" cy="251.2" r="0.95"/><circle cx="356.3" cy="243.6" r="0.95"/><circle cx="361.6" cy="242.0" r="0.95"/><circle cx="342.6" cy="222.6" r="0.95"/><circle cx="343.7" cy="214.3" r="0.95"/><circle cx="375.8" cy="234.0" r="0.95"/><circle cx="403.5" cy="227.4" r="0.95"/><circle cx="364.6" cy="226.8" r="0.95"/><circle cx="344.5" cy="240.0" r="0.95"/><circle cx="353.4" cy="235.3" r="0.95"/><circle cx="350.7" cy="220.6" r="0.95"/><circle cx="361.9" cy="227.0" r="0.95"/><circle cx="347.5" cy="233.6" r="0.95"/><circle cx="368.9" cy="236.8" r="0.95"/><circle cx="407.5" cy="202.9" r="0.95"/><circle cx="367.1" cy="237.7" r="0.95"/><circle cx="382.7" cy="225.2" r="0.95"/><circle cx="360.3" cy="244.4" r="0.95"/><circle cx="417.8" cy="229.3" r="0.95"/><circle cx="365.4" cy="228.3" r="0.95"/><circle cx="351.6" cy="237.2" r="0.95"/><circle cx="420.9" cy="213.5" r="0.95"/><circle cx="371.6" cy="227.7" r="0.95"/><circle cx="356.3" cy="249.8" r="0.95"/><circle cx="369.1" cy="260.4" r="0.95"/><circle cx="371.6" cy="215.1" r="0.95"/><circle cx="355.4" cy="239.1" r="0.95"/><circle cx="348.0" cy="212.3" r="0.95"/><circle cx="414.5" cy="221.6" r="0.95"/><circle cx="345.9" cy="243.1" r="0.95"/><circle cx="388.3" cy="218.4" r="0.95"/><circle cx="349.9" cy="235.8" r="0.95"/><circle cx="353.2" cy="231.4" r="0.95"/><circle cx="353.0" cy="244.2" r="0.95"/><circle cx="356.8" cy="222.3" r="0.95"/><circle cx="359.5" cy="215.7" r="0.95"/><circle cx="348.2" cy="239.5" r="0.95"/><circle cx="371.3" cy="204.5" r="0.95"/><circle cx="361.8" cy="237.9" r="0.95"/><circle cx="347.1" cy="229.2" r="0.95"/><circle cx="362.4" cy="252.3" r="0.95"/><circle cx="362.2" cy="256.3" r="0.95"/><circle cx="357.8" cy="202.3" r="0.95"/><circle cx="353.6" cy="212.2" r="0.95"/><circle cx="352.5" cy="216.1" r="0.95"/><circle cx="368.7" cy="252.2" r="0.95"/><circle cx="343.8" cy="230.0" r="0.95"/><circle cx="344.8" cy="227.2" r="0.95"/><circle cx="353.6" cy="230.4" r="0.95"/><circle cx="356.5" cy="227.0" r="0.95"/><circle cx="376.7" cy="240.3" r="0.95"/><circle cx="369.0" cy="231.2" r="0.95"/><circle cx="350.3" cy="247.5" r="0.95"/><circle cx="374.6" cy="232.9" r="0.95"/><circle cx="356.3" cy="226.0" r="0.95"/><circle cx="349.5" cy="242.8" r="0.95"/><circle cx="361.8" cy="234.0" r="0.95"/><circle cx="351.5" cy="237.7" r="0.95"/><circle cx="364.1" cy="229.6" r="0.95"/><circle cx="406.7" cy="210.6" r="0.95"/><circle cx="349.8" cy="228.9" r="0.95"/><circle cx="345.9" cy="227.4" r="0.95"/><circle cx="374.1" cy="247.8" r="0.95"/><circle cx="371.3" cy="233.6" r="0.95"/><circle cx="356.0" cy="220.1" r="0.95"/><circle cx="379.8" cy="239.1" r="0.95"/><circle cx="353.4" cy="237.5" r="0.95"/><circle cx="357.9" cy="244.0" r="0.95"/><circle cx="350.2" cy="214.0" r="0.95"/><circle cx="349.6" cy="238.3" r="0.95"/><circle cx="398.4" cy="234.3" r="0.95"/><circle cx="405.0" cy="215.0" r="0.95"/><circle cx="346.3" cy="217.8" r="0.95"/><circle cx="399.4" cy="217.5" r="0.95"/><circle cx="359.8" cy="217.2" r="0.95"/><circle cx="381.6" cy="224.2" r="0.95"/><circle cx="428.2" cy="221.4" r="0.95"/><circle cx="376.3" cy="233.9" r="0.95"/><circle cx="348.7" cy="239.3" r="0.95"/><circle cx="352.5" cy="239.8" r="0.95"/><circle cx="362.2" cy="225.2" r="0.95"/><circle cx="342.8" cy="234.8" r="0.95"/><circle cx="357.7" cy="229.7" r="0.95"/><circle cx="374.8" cy="220.0" r="0.95"/><circle cx="359.8" cy="231.3" r="0.95"/><circle cx="380.9" cy="245.8" r="0.95"/><circle cx="356.7" cy="241.8" r="0.95"/><circle cx="352.6" cy="246.9" r="0.95"/><circle cx="349.4" cy="258.1" r="0.95"/><circle cx="359.5" cy="229.2" r="0.95"/><circle cx="349.8" cy="248.5" r="0.95"/><circle cx="420.8" cy="238.3" r="0.95"/><circle cx="348.3" cy="247.1" r="0.95"/><circle cx="385.1" cy="214.7" r="0.95"/><circle cx="349.8" cy="236.4" r="0.95"/><circle cx="345.5" cy="219.3" r="0.95"/><circle cx="389.0" cy="227.2" r="0.95"/><circle cx="351.6" cy="237.8" r="0.95"/><circle cx="343.9" cy="225.5" r="0.95"/><circle cx="346.6" cy="224.6" r="0.95"/><circle cx="351.2" cy="230.4" r="0.95"/><circle cx="367.9" cy="243.4" r="0.95"/><circle cx="365.5" cy="235.9" r="0.95"/><circle cx="345.2" cy="249.0" r="0.95"/><circle cx="364.6" cy="233.4" r="0.95"/><circle cx="371.9" cy="227.4" r="0.95"/><circle cx="355.3" cy="211.2" r="0.95"/><circle cx="356.1" cy="212.0" r="0.95"/><circle cx="352.9" cy="222.5" r="0.95"/><circle cx="372.3" cy="215.7" r="0.95"/><circle cx="371.2" cy="225.7" r="0.95"/><circle cx="345.2" cy="195.3" r="0.95"/><circle cx="398.9" cy="203.7" r="0.95"/><circle cx="370.8" cy="192.9" r="0.95"/><circle cx="355.3" cy="226.2" r="0.95"/><circle cx="351.4" cy="226.4" r="0.95"/><circle cx="347.0" cy="218.4" r="0.95"/><circle cx="348.8" cy="229.8" r="0.95"/><circle cx="345.3" cy="228.8" r="0.95"/><circle cx="379.5" cy="240.9" r="0.95"/><circle cx="344.9" cy="220.3" r="0.95"/><circle cx="362.2" cy="228.5" r="0.95"/><circle cx="344.2" cy="222.2" r="0.95"/><circle cx="350.7" cy="235.1" r="0.95"/><circle cx="365.9" cy="253.8" r="0.95"/><circle cx="357.7" cy="224.2" r="0.95"/><circle cx="354.8" cy="215.6" r="0.95"/><circle cx="360.4" cy="248.0" r="0.95"/><circle cx="413.5" cy="235.3" r="0.95"/><circle cx="344.0" cy="237.3" r="0.95"/><circle cx="351.5" cy="235.4" r="0.95"/><circle cx="355.6" cy="254.5" r="0.95"/><circle cx="366.2" cy="205.8" r="0.95"/><circle cx="388.4" cy="212.4" r="0.95"/><circle cx="345.7" cy="241.3" r="0.95"/><circle cx="357.5" cy="255.7" r="0.95"/><circle cx="353.4" cy="226.8" r="0.95"/><circle cx="351.0" cy="205.1" r="0.95"/><circle cx="346.3" cy="221.6" r="0.95"/><circle cx="343.5" cy="217.6" r="0.95"/><circle cx="351.8" cy="244.8" r="0.95"/><circle cx="421.3" cy="217.7" r="0.95"/><circle cx="385.3" cy="247.0" r="0.95"/><circle cx="367.9" cy="202.5" r="0.95"/><circle cx="364.7" cy="222.2" r="0.95"/><circle cx="369.3" cy="257.8" r="0.95"/><circle cx="404.2" cy="248.7" r="0.95"/><circle cx="351.4" cy="225.5" r="0.95"/><circle cx="352.4" cy="230.0" r="0.95"/><circle cx="379.0" cy="231.9" r="0.95"/><circle cx="367.4" cy="221.1" r="0.95"/><circle cx="344.7" cy="205.8" r="0.95"/><circle cx="349.9" cy="227.3" r="0.95"/><circle cx="352.1" cy="256.5" r="0.95"/><circle cx="350.1" cy="234.4" r="0.95"/><circle cx="346.2" cy="250.7" r="0.95"/><circle cx="347.0" cy="243.7" r="0.95"/><circle cx="348.4" cy="228.1" r="0.95"/><circle cx="364.1" cy="232.4" r="0.95"/><circle cx="362.9" cy="244.7" r="0.95"/><circle cx="354.6" cy="231.9" r="0.95"/><circle cx="362.7" cy="241.4" r="0.95"/><circle cx="378.9" cy="220.5" r="0.95"/><circle cx="354.0" cy="235.0" r="0.95"/><circle cx="349.3" cy="227.1" r="0.95"/><circle cx="369.0" cy="233.0" r="0.95"/><circle cx="383.4" cy="216.9" r="0.95"/><circle cx="361.8" cy="232.3" r="0.95"/><circle cx="395.1" cy="225.3" r="0.95"/><circle cx="349.9" cy="240.1" r="0.95"/><circle cx="384.0" cy="225.0" r="0.95"/><circle cx="344.8" cy="257.3" r="0.95"/><circle cx="349.0" cy="196.3" r="0.95"/><circle cx="375.8" cy="237.5" r="0.95"/><circle cx="357.3" cy="229.9" r="0.95"/><circle cx="349.3" cy="239.0" r="0.95"/><circle cx="345.5" cy="239.8" r="0.95"/><circle cx="348.0" cy="227.3" r="0.95"/><circle cx="359.1" cy="237.9" r="0.95"/><circle cx="346.3" cy="238.8" r="0.95"/><circle cx="343.7" cy="252.2" r="0.95"/><circle cx="353.2" cy="244.5" r="0.95"/><circle cx="377.2" cy="244.0" r="0.95"/><circle cx="350.1" cy="207.9" r="0.95"/><circle cx="367.7" cy="247.7" r="0.95"/><circle cx="345.0" cy="247.8" r="0.95"/><circle cx="356.6" cy="228.8" r="0.95"/><circle cx="353.7" cy="212.4" r="0.95"/><circle cx="382.7" cy="250.3" r="0.95"/><circle cx="349.9" cy="253.5" r="0.95"/><circle cx="366.6" cy="228.1" r="0.95"/><circle cx="368.1" cy="225.0" r="0.95"/><circle cx="356.8" cy="250.6" r="0.95"/><circle cx="353.7" cy="256.4" r="0.95"/><circle cx="348.9" cy="245.7" r="0.95"/><circle cx="366.2" cy="219.7" r="0.95"/><circle cx="343.9" cy="234.0" r="0.95"/><circle cx="352.9" cy="221.9" r="0.95"/><circle cx="374.8" cy="230.0" r="0.95"/><circle cx="382.5" cy="227.8" r="0.95"/><circle cx="398.3" cy="216.5" r="0.95"/><circle cx="359.5" cy="232.6" r="0.95"/><circle cx="400.5" cy="221.3" r="0.95"/><circle cx="348.6" cy="245.1" r="0.95"/><circle cx="355.1" cy="239.9" r="0.95"/><circle cx="362.2" cy="224.2" r="0.95"/><circle cx="422.0" cy="224.3" r="0.95"/><circle cx="357.6" cy="241.5" r="0.95"/><circle cx="360.8" cy="221.9" r="0.95"/><circle cx="361.9" cy="223.2" r="0.95"/><circle cx="345.1" cy="233.4" r="0.95"/><circle cx="397.3" cy="235.3" r="0.95"/><circle cx="374.0" cy="216.5" r="0.95"/><circle cx="358.5" cy="197.2" r="0.95"/><circle cx="392.3" cy="237.0" r="0.95"/><circle cx="355.5" cy="252.6" r="0.95"/><circle cx="346.3" cy="243.7" r="0.95"/><circle cx="370.9" cy="241.9" r="0.95"/><circle cx="366.3" cy="247.2" r="0.95"/><circle cx="372.0" cy="245.1" r="0.95"/></g>
<path d="M342.00,230.60 L344.18,230.38 L346.36,230.16 L348.54,229.92 L350.72,229.67 L352.90,229.41 L355.08,229.13 L357.26,228.83 L359.44,228.51 L361.62,228.17 L363.79,227.83 L365.97,227.48 L368.15,227.12 L370.33,226.75 L372.51,226.37 L374.69,225.99 L376.87,225.61 L379.05,225.22 L381.23,224.82 L383.41,224.42 L385.59,224.02 L387.77,223.62 L389.95,223.21 L392.13,222.79 L394.31,222.38 L396.49,221.96 L398.67,221.55 L400.85,221.13 L403.03,220.70 L405.21,220.28 L407.38,219.86 L409.56,219.43 L411.74,219.01 L413.92,218.58 L416.10,218.15 L418.28,217.72 L420.46,217.29 L422.64,216.86 L424.82,216.43 L427.00,216.00 L427.00,223.00 L424.82,223.24 L422.64,223.48 L420.46,223.72 L418.28,223.97 L416.10,224.21 L413.92,224.45 L411.74,224.70 L409.56,224.94 L407.38,225.19 L405.21,225.44 L403.03,225.69 L400.85,225.94 L398.67,226.19 L396.49,226.44 L394.31,226.70 L392.13,226.95 L389.95,227.21 L387.77,227.48 L385.59,227.74 L383.41,228.01 L381.23,228.28 L379.05,228.56 L376.87,228.84 L374.69,229.13 L372.51,229.42 L370.33,229.72 L368.15,230.02 L365.97,230.33 L363.79,230.65 L361.62,230.98 L359.44,231.31 L357.26,231.67 L355.08,232.04 L352.90,232.43 L350.72,232.84 L348.54,233.26 L346.36,233.70 L344.18,234.14 L342.00,234.60Z" fill="#999" fill-opacity="0.42"/>
<line x1="342.0" y1="232.6" x2="427.0" y2="219.5" stroke="#3366ff" stroke-width="1.05"/>
<rect x="338.1" y="181.4" width="94.09999999999997" height="86.9" fill="none" stroke="#999" stroke-width="0.8"/>
<line x1="342.40" y1="268.3" x2="342.40" y2="270.3" stroke="#888" stroke-width="0.7"/>
<text x="342.40" y="277.40" font-size="6.3" text-anchor="middle" fill="#4d4d4d" font-weight="normal" stroke="#4d4d4d" stroke-width="0.068">0</text>
<line x1="368.40" y1="268.3" x2="368.40" y2="270.3" stroke="#888" stroke-width="0.7"/>
<text x="368.40" y="277.40" font-size="6.3" text-anchor="middle" fill="#4d4d4d" font-weight="normal" stroke="#4d4d4d" stroke-width="0.068">1</text>
<line x1="394.40" y1="268.3" x2="394.40" y2="270.3" stroke="#888" stroke-width="0.7"/>
<text x="394.40" y="277.40" font-size="6.3" text-anchor="middle" fill="#4d4d4d" font-weight="normal" stroke="#4d4d4d" stroke-width="0.068">2</text>
<line x1="420.40" y1="268.3" x2="420.40" y2="270.3" stroke="#888" stroke-width="0.7"/>
<text x="420.40" y="277.40" font-size="6.3" text-anchor="middle" fill="#4d4d4d" font-weight="normal" stroke="#4d4d4d" stroke-width="0.068">3</text>
<line x1="336.1" y1="254.20" x2="338.1" y2="254.20" stroke="#888" stroke-width="0.7"/>
<text x="335.10" y="256.40" font-size="6.3" text-anchor="end" fill="#4d4d4d" font-weight="normal" stroke="#4d4d4d" stroke-width="0.068">2</text>
<line x1="336.1" y1="228.30" x2="338.1" y2="228.30" stroke="#888" stroke-width="0.7"/>
<text x="335.10" y="230.50" font-size="6.3" text-anchor="end" fill="#4d4d4d" font-weight="normal" stroke="#4d4d4d" stroke-width="0.068">4</text>
<line x1="336.1" y1="202.40" x2="338.1" y2="202.40" stroke="#888" stroke-width="0.7"/>
<text x="335.10" y="204.60" font-size="6.3" text-anchor="end" fill="#4d4d4d" font-weight="normal" stroke="#4d4d4d" stroke-width="0.068">6</text>
<text x="385.15" y="289.2" font-size="9" text-anchor="middle" stroke="#000" stroke-width="0.098"><tspan font-style="italic">ITGB3</tspan> (log TPM)</text>
<text x="427.70" y="258.60" font-size="8" text-anchor="end" fill="#ff0000" font-weight="normal" stroke="#ff0000" stroke-width="0.039">r = 0.304</text>
<text x="427.70" y="265.90" font-size="8" text-anchor="end" fill="#ff0000" font-weight="normal" stroke="#ff0000" stroke-width="0.039">p = 8.15e−09</text>
<rect x="441.7" y="181.4" width="94.50000000000006" height="86.9" fill="#fff"/>
<line x1="442.90" y1="181.4" x2="442.90" y2="268.3" stroke="#ececec" stroke-width="0.6"/>
<line x1="454.05" y1="181.4" x2="454.05" y2="268.3" stroke="#f4f4f4" stroke-width="0.4"/>
<line x1="465.20" y1="181.4" x2="465.20" y2="268.3" stroke="#ececec" stroke-width="0.6"/>
<line x1="476.35" y1="181.4" x2="476.35" y2="268.3" stroke="#f4f4f4" stroke-width="0.4"/>
<line x1="487.50" y1="181.4" x2="487.50" y2="268.3" stroke="#ececec" stroke-width="0.6"/>
<line x1="498.65" y1="181.4" x2="498.65" y2="268.3" stroke="#f4f4f4" stroke-width="0.4"/>
<line x1="509.80" y1="181.4" x2="509.80" y2="268.3" stroke="#ececec" stroke-width="0.6"/>
<line x1="520.95" y1="181.4" x2="520.95" y2="268.3" stroke="#f4f4f4" stroke-width="0.4"/>
<line x1="532.10" y1="181.4" x2="532.10" y2="268.3" stroke="#ececec" stroke-width="0.6"/>
<line x1="441.7" y1="267.15" x2="536.2" y2="267.15" stroke="#f4f4f4" stroke-width="0.4"/>
<line x1="441.7" y1="254.20" x2="536.2" y2="254.20" stroke="#ececec" stroke-width="0.6"/>
<line x1="441.7" y1="241.25" x2="536.2" y2="241.25" stroke="#f4f4f4" stroke-width="0.4"/>
<line x1="441.7" y1="228.30" x2="536.2" y2="228.30" stroke="#ececec" stroke-width="0.6"/>
<line x1="441.7" y1="215.35" x2="536.2" y2="215.35" stroke="#f4f4f4" stroke-width="0.4"/>
<line x1="441.7" y1="202.40" x2="536.2" y2="202.40" stroke="#ececec" stroke-width="0.6"/>
<line x1="441.7" y1="189.45" x2="536.2" y2="189.45" stroke="#f4f4f4" stroke-width="0.4"/>
<g fill="#222" fill-opacity="0.55"><circle cx="479.7" cy="232.0" r="0.95"/><circle cx="491.3" cy="235.4" r="0.95"/><circle cx="462.0" cy="253.1" r="0.95"/><circle cx="460.7" cy="209.8" r="0.95"/><circle cx="455.8" cy="243.8" r="0.95"/><circle cx="482.4" cy="251.6" r="0.95"/><circle cx="463.8" cy="241.5" r="0.95"/><circle cx="470.0" cy="251.9" r="0.95"/><circle cx="468.2" cy="202.1" r="0.95"/><circle cx="453.5" cy="226.1" r="0.95"/><circle cx="451.8" cy="211.8" r="0.95"/><circle cx="489.5" cy="207.7" r="0.95"/><circle cx="484.1" cy="220.5" r="0.95"/><circle cx="481.1" cy="220.7" r="0.95"/><circle cx="464.9" cy="240.2" r="0.95"/><circle cx="458.7" cy="231.9" r="0.95"/><circle cx="467.2" cy="238.3" r="0.95"/><circle cx="457.7" cy="230.2" r="0.95"/><circle cx="471.0" cy="239.3" r="0.95"/><circle cx="465.2" cy="212.5" r="0.95"/><circle cx="462.3" cy="219.8" r="0.95"/><circle cx="470.6" cy="231.1" r="0.95"/><circle cx="464.1" cy="253.4" r="0.95"/><circle cx="457.3" cy="221.3" r="0.95"/><circle cx="458.8" cy="218.4" r="0.95"/><circle cx="466.0" cy="231.0" r="0.95"/><circle cx="463.5" cy="247.8" r="0.95"/><circle cx="477.3" cy="223.0" r="0.95"/><circle cx="469.7" cy="215.1" r="0.95"/><circle cx="471.1" cy="256.2" r="0.95"/><circle cx="454.9" cy="223.2" r="0.95"/><circle cx="464.4" cy="255.4" r="0.95"/><circle cx="454.7" cy="230.0" r="0.95"/><circle cx="461.0" cy="206.3" r="0.95"/><circle cx="473.9" cy="228.0" r="0.95"/><circle cx="460.3" cy="223.9" r="0.95"/><circle cx="462.7" cy="234.8" r="0.95"/><circle cx="469.4" cy="229.8" r="0.95"/><circle cx="462.4" cy="197.8" r="0.95"/><circle cx="482.7" cy="210.0" r="0.95"/><circle cx="461.4" cy="234.8" r="0.95"/><circle cx="464.4" cy="235.5" r="0.95"/><circle cx="487.1" cy="227.8" r="0.95"/><circle cx="469.0" cy="199.3" r="0.95"/><circle cx="465.3" cy="227.2" r="0.95"/><circle cx="497.1" cy="211.7" r="0.95"/><circle cx="470.6" cy="234.7" r="0.95"/><circle cx="487.1" cy="245.7" r="0.95"/><circle cx="475.2" cy="210.8" r="0.95"/><circle cx="476.1" cy="230.2" r="0.95"/><circle cx="488.3" cy="238.8" r="0.95"/><circle cx="474.2" cy="238.9" r="0.95"/><circle cx="463.3" cy="239.6" r="0.95"/><circle cx="466.2" cy="238.4" r="0.95"/><circle cx="467.2" cy="251.3" r="0.95"/><circle cx="485.4" cy="211.6" r="0.95"/><circle cx="481.6" cy="223.3" r="0.95"/><circle cx="470.7" cy="216.1" r="0.95"/><circle cx="468.3" cy="234.6" r="0.95"/><circle cx="470.5" cy="224.8" r="0.95"/><circle cx="484.0" cy="226.0" r="0.95"/><circle cx="498.6" cy="210.7" r="0.95"/><circle cx="471.5" cy="218.2" r="0.95"/><circle cx="458.1" cy="225.8" r="0.95"/><circle cx="455.8" cy="240.0" r="0.95"/><circle cx="457.9" cy="247.4" r="0.95"/><circle cx="499.1" cy="238.0" r="0.95"/><circle cx="455.7" cy="239.8" r="0.95"/><circle cx="463.1" cy="237.8" r="0.95"/><circle cx="469.1" cy="246.9" r="0.95"/><circle cx="459.1" cy="207.7" r="0.95"/><circle cx="469.3" cy="226.0" r="0.95"/><circle cx="447.7" cy="259.6" r="0.95"/><circle cx="474.0" cy="244.4" r="0.95"/><circle cx="471.8" cy="248.0" r="0.95"/><circle cx="483.2" cy="225.1" r="0.95"/><circle cx="500.1" cy="212.1" r="0.95"/><circle cx="451.4" cy="245.0" r="0.95"/><circle cx="501.5" cy="218.2" r="0.95"/><circle cx="483.1" cy="232.3" r="0.95"/><circle cx="460.3" cy="214.7" r="0.95"/><circle cx="486.2" cy="209.3" r="0.95"/><circle cx="472.2" cy="225.2" r="0.95"/><circle cx="457.8" cy="220.9" r="0.95"/><circle cx="462.8" cy="230.4" r="0.95"/><circle cx="455.1" cy="236.2" r="0.95"/><circle cx="478.3" cy="245.0" r="0.95"/><circle cx="465.0" cy="225.6" r="0.95"/><circle cx="489.4" cy="228.8" r="0.95"/><circle cx="465.4" cy="235.4" r="0.95"/><circle cx="464.6" cy="231.2" r="0.95"/><circle cx="457.7" cy="233.4" r="0.95"/><circle cx="497.4" cy="241.4" r="0.95"/><circle cx="464.6" cy="237.5" r="0.95"/><circle cx="487.6" cy="212.3" r="0.95"/><circle cx="490.2" cy="231.0" r="0.95"/><circle cx="473.3" cy="210.1" r="0.95"/><circle cx="469.8" cy="245.6" r="0.95"/><circle cx="464.1" cy="248.9" r="0.95"/><circle cx="468.3" cy="228.1" r="0.95"/><circle cx="475.6" cy="218.5" r="0.95"/><circle cx="479.4" cy="237.8" r="0.95"/><circle cx="487.8" cy="219.4" r="0.95"/><circle cx="480.4" cy="215.8" r="0.95"/><circle cx="469.0" cy="215.0" r="0.95"/><circle cx="458.8" cy="232.2" r="0.95"/><circle cx="460.2" cy="231.3" r="0.95"/><circle cx="464.9" cy="252.9" r="0.95"/><circle cx="478.4" cy="228.6" r="0.95"/><circle cx="482.8" cy="224.6" r="0.95"/><circle cx="461.3" cy="211.0" r="0.95"/><circle cx="463.3" cy="247.8" r="0.95"/><circle cx="451.6" cy="243.0" r="0.95"/><circle cx="451.4" cy="245.2" r="0.95"/><circle cx="475.1" cy="216.8" r="0.95"/><circle cx="518.0" cy="260.0" r="0.95"/><circle cx="459.1" cy="245.6" r="0.95"/><circle cx="458.8" cy="202.3" r="0.95"/><circle cx="457.1" cy="221.8" r="0.95"/><circle cx="468.0" cy="248.1" r="0.95"/><circle cx="453.3" cy="232.0" r="0.95"/><circle cx="508.8" cy="214.4" r="0.95"/><circle cx="465.8" cy="222.5" r="0.95"/><circle cx="486.2" cy="231.2" r="0.95"/><circle cx="457.4" cy="241.7" r="0.95"/><circle cx="467.1" cy="218.5" r="0.95"/><circle cx="484.2" cy="228.4" r="0.95"/><circle cx="449.8" cy="220.4" r="0.95"/><circle cx="455.2" cy="225.6" r="0.95"/><circle cx="473.0" cy="235.8" r="0.95"/><circle cx="502.2" cy="206.9" r="0.95"/><circle cx="469.0" cy="236.6" r="0.95"/><circle cx="458.0" cy="224.9" r="0.95"/><circle cx="467.9" cy="238.6" r="0.95"/><circle cx="452.6" cy="234.4" r="0.95"/><circle cx="480.1" cy="232.2" r="0.95"/><circle cx="469.6" cy="238.8" r="0.95"/><circle cx="468.5" cy="226.5" r="0.95"/><circle cx="458.8" cy="212.7" r="0.95"/><circle cx="480.3" cy="203.2" r="0.95"/><circle cx="450.7" cy="211.7" r="0.95"/><circle cx="477.3" cy="231.4" r="0.95"/><circle cx="459.8" cy="210.6" r="0.95"/><circle cx="454.4" cy="225.4" r="0.95"/><circle cx="459.5" cy="206.0" r="0.95"/><circle cx="474.0" cy="246.6" r="0.95"/><circle cx="484.8" cy="207.9" r="0.95"/><circle cx="516.2" cy="233.6" r="0.95"/><circle cx="475.6" cy="213.3" r="0.95"/><circle cx="467.4" cy="236.3" r="0.95"/><circle cx="466.1" cy="217.5" r="0.95"/><circle cx="472.1" cy="233.3" r="0.95"/><circle cx="461.2" cy="256.3" r="0.95"/><circle cx="460.7" cy="243.8" r="0.95"/><circle cx="471.5" cy="232.8" r="0.95"/><circle cx="475.2" cy="228.8" r="0.95"/><circle cx="450.5" cy="262.2" r="0.95"/><circle cx="468.1" cy="246.3" r="0.95"/><circle cx="463.3" cy="240.3" r="0.95"/><circle cx="468.2" cy="232.7" r="0.95"/><circle cx="492.6" cy="224.5" r="0.95"/><circle cx="503.1" cy="237.8" r="0.95"/><circle cx="474.7" cy="250.0" r="0.95"/><circle cx="488.2" cy="223.8" r="0.95"/><circle cx="482.3" cy="233.1" r="0.95"/><circle cx="450.2" cy="219.3" r="0.95"/><circle cx="471.8" cy="236.7" r="0.95"/><circle cx="451.0" cy="222.6" r="0.95"/><circle cx="449.2" cy="243.8" r="0.95"/><circle cx="465.4" cy="226.4" r="0.95"/><circle cx="463.6" cy="229.0" r="0.95"/><circle cx="485.9" cy="222.0" r="0.95"/><circle cx="464.5" cy="243.0" r="0.95"/><circle cx="453.3" cy="232.9" r="0.95"/><circle cx="464.3" cy="241.8" r="0.95"/><circle cx="458.9" cy="232.9" r="0.95"/><circle cx="455.4" cy="222.5" r="0.95"/><circle cx="477.7" cy="188.1" r="0.95"/><circle cx="465.7" cy="229.6" r="0.95"/><circle cx="490.2" cy="218.0" r="0.95"/><circle cx="470.3" cy="228.1" r="0.95"/><circle cx="496.3" cy="211.7" r="0.95"/><circle cx="460.1" cy="224.2" r="0.95"/><circle cx="460.9" cy="216.2" r="0.95"/><circle cx="460.9" cy="225.6" r="0.95"/><circle cx="467.6" cy="197.0" r="0.95"/><circle cx="489.1" cy="209.0" r="0.95"/><circle cx="472.8" cy="252.7" r="0.95"/><circle cx="455.2" cy="226.9" r="0.95"/><circle cx="470.6" cy="228.5" r="0.95"/><circle cx="450.7" cy="261.6" r="0.95"/><circle cx="465.6" cy="241.8" r="0.95"/><circle cx="460.7" cy="236.8" r="0.95"/><circle cx="494.7" cy="237.4" r="0.95"/><circle cx="475.1" cy="227.4" r="0.95"/><circle cx="485.4" cy="252.7" r="0.95"/><circle cx="467.8" cy="219.6" r="0.95"/><circle cx="481.4" cy="218.0" r="0.95"/><circle cx="462.4" cy="225.5" r="0.95"/><circle cx="472.9" cy="233.9" r="0.95"/><circle cx="470.4" cy="229.5" r="0.95"/><circle cx="470.4" cy="235.9" r="0.95"/><circle cx="468.3" cy="214.1" r="0.95"/><circle cx="457.6" cy="223.9" r="0.95"/><circle cx="475.3" cy="201.9" r="0.95"/><circle cx="466.6" cy="234.9" r="0.95"/><circle cx="461.8" cy="210.5" r="0.95"/><circle cx="469.1" cy="237.6" r="0.95"/><circle cx="478.6" cy="231.1" r="0.95"/><circle cx="469.2" cy="243.9" r="0.95"/><circle cx="466.0" cy="222.8" r="0.95"/><circle cx="482.8" cy="229.2" r="0.95"/><circle cx="454.6" cy="222.5" r="0.95"/><circle cx="477.0" cy="208.6" r="0.95"/><circle cx="462.8" cy="231.0" r="0.95"/><circle cx="467.6" cy="224.6" r="0.95"/><circle cx="468.6" cy="217.4" r="0.95"/><circle cx="498.9" cy="227.7" r="0.95"/><circle cx="449.8" cy="238.9" r="0.95"/><circle cx="479.2" cy="223.9" r="0.95"/><circle cx="475.0" cy="222.2" r="0.95"/><circle cx="470.6" cy="218.9" r="0.95"/><circle cx="462.4" cy="218.9" r="0.95"/><circle cx="468.4" cy="238.9" r="0.95"/><circle cx="496.9" cy="221.0" r="0.95"/><circle cx="453.0" cy="214.4" r="0.95"/><circle cx="491.5" cy="233.9" r="0.95"/><circle cx="484.7" cy="223.3" r="0.95"/><circle cx="478.0" cy="237.3" r="0.95"/><circle cx="479.4" cy="226.4" r="0.95"/><circle cx="488.6" cy="204.2" r="0.95"/><circle cx="450.0" cy="229.1" r="0.95"/><circle cx="465.6" cy="243.2" r="0.95"/><circle cx="473.6" cy="224.5" r="0.95"/><circle cx="458.2" cy="227.7" r="0.95"/><circle cx="472.5" cy="214.1" r="0.95"/><circle cx="503.9" cy="245.1" r="0.95"/><circle cx="467.7" cy="242.3" r="0.95"/><circle cx="475.7" cy="230.1" r="0.95"/><circle cx="455.6" cy="252.1" r="0.95"/><circle cx="484.3" cy="212.7" r="0.95"/><circle cx="476.5" cy="256.6" r="0.95"/><circle cx="473.9" cy="240.5" r="0.95"/><circle cx="458.5" cy="250.8" r="0.95"/><circle cx="468.4" cy="238.7" r="0.95"/><circle cx="452.6" cy="220.3" r="0.95"/><circle cx="495.3" cy="219.0" r="0.95"/><circle cx="463.1" cy="217.6" r="0.95"/><circle cx="461.9" cy="222.1" r="0.95"/><circle cx="470.2" cy="257.3" r="0.95"/><circle cx="476.3" cy="224.9" r="0.95"/><circle cx="456.1" cy="256.0" r="0.95"/><circle cx="454.5" cy="237.9" r="0.95"/><circle cx="471.9" cy="234.7" r="0.95"/><circle cx="475.3" cy="236.5" r="0.95"/><circle cx="491.2" cy="220.9" r="0.95"/><circle cx="472.3" cy="240.4" r="0.95"/><circle cx="479.4" cy="205.1" r="0.95"/><circle cx="463.5" cy="222.0" r="0.95"/><circle cx="465.8" cy="213.9" r="0.95"/><circle cx="477.7" cy="218.5" r="0.95"/><circle cx="475.7" cy="216.9" r="0.95"/><circle cx="482.6" cy="229.0" r="0.95"/><circle cx="453.0" cy="204.4" r="0.95"/><circle cx="460.6" cy="244.8" r="0.95"/><circle cx="478.1" cy="222.5" r="0.95"/><circle cx="468.8" cy="229.6" r="0.95"/><circle cx="453.0" cy="234.2" r="0.95"/><circle cx="450.4" cy="227.0" r="0.95"/><circle cx="447.9" cy="241.8" r="0.95"/><circle cx="457.7" cy="218.9" r="0.95"/><circle cx="458.7" cy="219.9" r="0.95"/><circle cx="463.5" cy="228.8" r="0.95"/><circle cx="478.8" cy="218.7" r="0.95"/><circle cx="477.6" cy="243.0" r="0.95"/><circle cx="456.4" cy="255.5" r="0.95"/><circle cx="462.2" cy="238.2" r="0.95"/><circle cx="466.6" cy="233.1" r="0.95"/><circle cx="466.4" cy="195.9" r="0.95"/><circle cx="483.6" cy="231.4" r="0.95"/><circle cx="480.6" cy="214.5" r="0.95"/><circle cx="490.3" cy="216.1" r="0.95"/><circle cx="473.2" cy="200.5" r="0.95"/><circle cx="517.7" cy="223.5" r="0.95"/><circle cx="465.9" cy="221.0" r="0.95"/><circle cx="465.3" cy="232.6" r="0.95"/><circle cx="477.2" cy="240.7" r="0.95"/><circle cx="478.6" cy="242.4" r="0.95"/><circle cx="485.4" cy="238.8" r="0.95"/><circle cx="487.7" cy="208.4" r="0.95"/><circle cx="458.0" cy="226.8" r="0.95"/><circle cx="460.4" cy="232.5" r="0.95"/><circle cx="477.9" cy="228.6" r="0.95"/><circle cx="459.6" cy="238.2" r="0.95"/><circle cx="477.4" cy="229.3" r="0.95"/><circle cx="455.9" cy="231.4" r="0.95"/><circle cx="492.0" cy="218.6" r="0.95"/><circle cx="481.9" cy="216.0" r="0.95"/><circle cx="469.2" cy="251.9" r="0.95"/><circle cx="462.9" cy="227.0" r="0.95"/><circle cx="470.0" cy="210.8" r="0.95"/><circle cx="454.2" cy="244.9" r="0.95"/><circle cx="460.1" cy="233.9" r="0.95"/><circle cx="483.7" cy="226.0" r="0.95"/><circle cx="465.3" cy="215.0" r="0.95"/><circle cx="485.9" cy="219.9" r="0.95"/><circle cx="472.0" cy="232.3" r="0.95"/><circle cx="456.1" cy="224.0" r="0.95"/><circle cx="451.0" cy="217.2" r="0.95"/><circle cx="469.0" cy="224.3" r="0.95"/><circle cx="460.5" cy="205.1" r="0.95"/><circle cx="463.4" cy="224.4" r="0.95"/><circle cx="509.2" cy="240.2" r="0.95"/><circle cx="469.6" cy="240.2" r="0.95"/><circle cx="460.6" cy="232.2" r="0.95"/><circle cx="464.9" cy="232.8" r="0.95"/><circle cx="472.5" cy="220.8" r="0.95"/><circle cx="458.1" cy="225.8" r="0.95"/><circle cx="455.8" cy="207.5" r="0.95"/><circle cx="508.2" cy="214.9" r="0.95"/><circle cx="489.2" cy="207.5" r="0.95"/><circle cx="472.3" cy="239.7" r="0.95"/><circle cx="491.1" cy="233.4" r="0.95"/><circle cx="461.4" cy="221.0" r="0.95"/><circle cx="459.7" cy="229.2" r="0.95"/><circle cx="461.4" cy="221.8" r="0.95"/><circle cx="456.6" cy="227.3" r="0.95"/><circle cx="457.9" cy="239.1" r="0.95"/><circle cx="470.2" cy="206.3" r="0.95"/><circle cx="470.2" cy="213.9" r="0.95"/><circle cx="466.3" cy="251.0" r="0.95"/><circle cx="464.2" cy="238.4" r="0.95"/><circle cx="483.3" cy="227.9" r="0.95"/><circle cx="482.1" cy="219.1" r="0.95"/><circle cx="477.0" cy="229.8" r="0.95"/><circle cx="488.5" cy="246.3" r="0.95"/><circle cx="474.8" cy="217.7" r="0.95"/><circle cx="468.4" cy="232.4" r="0.95"/><circle cx="475.7" cy="212.6" r="0.95"/><circle cx="482.5" cy="224.2" r="0.95"/><circle cx="504.7" cy="212.6" r="0.95"/><circle cx="466.5" cy="218.4" r="0.95"/><circle cx="468.2" cy="217.6" r="0.95"/><circle cx="456.4" cy="237.6" r="0.95"/><circle cx="461.2" cy="216.2" r="0.95"/><circle cx="455.7" cy="228.0" r="0.95"/><circle cx="464.3" cy="246.9" r="0.95"/><circle cx="465.4" cy="235.2" r="0.95"/><circle cx="482.5" cy="232.8" r="0.95"/><circle cx="467.4" cy="223.3" r="0.95"/><circle cx="462.9" cy="220.7" r="0.95"/><circle cx="460.1" cy="245.5" r="0.95"/><circle cx="456.5" cy="220.8" r="0.95"/><circle cx="491.4" cy="228.3" r="0.95"/><circle cx="481.6" cy="242.7" r="0.95"/><circle cx="456.8" cy="219.3" r="0.95"/><circle cx="467.8" cy="239.9" r="0.95"/><circle cx="458.4" cy="246.7" r="0.95"/><circle cx="471.6" cy="218.9" r="0.95"/><circle cx="477.6" cy="216.4" r="0.95"/></g>
<path d="M446.30,230.10 L448.48,229.96 L450.66,229.82 L452.85,229.67 L455.03,229.52 L457.21,229.37 L459.39,229.20 L461.57,229.04 L463.76,228.86 L465.94,228.68 L468.12,228.48 L470.30,228.25 L472.48,228.00 L474.67,227.72 L476.85,227.43 L479.03,227.13 L481.21,226.81 L483.39,226.48 L485.58,226.15 L487.76,225.80 L489.94,225.45 L492.12,225.10 L494.31,224.74 L496.49,224.38 L498.67,224.02 L500.85,223.65 L503.03,223.29 L505.22,222.92 L507.40,222.55 L509.58,222.17 L511.76,221.80 L513.94,221.42 L516.13,221.05 L518.31,220.67 L520.49,220.29 L522.67,219.92 L524.85,219.54 L527.04,219.16 L529.22,218.78 L531.40,218.40 L531.40,231.40 L529.22,231.38 L527.04,231.36 L524.85,231.34 L522.67,231.32 L520.49,231.30 L518.31,231.28 L516.13,231.26 L513.94,231.25 L511.76,231.23 L509.58,231.22 L507.40,231.20 L505.22,231.19 L503.03,231.18 L500.85,231.17 L498.67,231.17 L496.49,231.16 L494.31,231.16 L492.12,231.16 L489.94,231.17 L487.76,231.18 L485.58,231.19 L483.39,231.22 L481.21,231.25 L479.03,231.29 L476.85,231.34 L474.67,231.41 L472.48,231.50 L470.30,231.60 L468.12,231.73 L465.94,231.89 L463.76,232.07 L461.57,232.25 L459.39,232.44 L457.21,232.64 L455.03,232.84 L452.85,233.05 L450.66,233.26 L448.48,233.48 L446.30,233.70Z" fill="#999" fill-opacity="0.42"/>
<line x1="446.3" y1="231.9" x2="531.4" y2="224.9" stroke="#3366ff" stroke-width="1.05"/>
<rect x="441.7" y="181.4" width="94.50000000000006" height="86.9" fill="none" stroke="#999" stroke-width="0.8"/>
<line x1="442.90" y1="268.3" x2="442.90" y2="270.3" stroke="#888" stroke-width="0.7"/>
<text x="442.90" y="277.40" font-size="6.3" text-anchor="middle" fill="#4d4d4d" font-weight="normal" stroke="#4d4d4d" stroke-width="0.068">0</text>
<line x1="465.20" y1="268.3" x2="465.20" y2="270.3" stroke="#888" stroke-width="0.7"/>
<text x="465.20" y="277.40" font-size="6.3" text-anchor="middle" fill="#4d4d4d" font-weight="normal" stroke="#4d4d4d" stroke-width="0.068">2</text>
<line x1="487.50" y1="268.3" x2="487.50" y2="270.3" stroke="#888" stroke-width="0.7"/>
<text x="487.50" y="277.40" font-size="6.3" text-anchor="middle" fill="#4d4d4d" font-weight="normal" stroke="#4d4d4d" stroke-width="0.068">4</text>
<line x1="509.80" y1="268.3" x2="509.80" y2="270.3" stroke="#888" stroke-width="0.7"/>
<text x="509.80" y="277.40" font-size="6.3" text-anchor="middle" fill="#4d4d4d" font-weight="normal" stroke="#4d4d4d" stroke-width="0.068">6</text>
<line x1="532.10" y1="268.3" x2="532.10" y2="270.3" stroke="#888" stroke-width="0.7"/>
<text x="532.10" y="277.40" font-size="6.3" text-anchor="middle" fill="#4d4d4d" font-weight="normal" stroke="#4d4d4d" stroke-width="0.068">8</text>
<line x1="439.7" y1="254.20" x2="441.7" y2="254.20" stroke="#888" stroke-width="0.7"/>
<text x="438.70" y="256.40" font-size="6.3" text-anchor="end" fill="#4d4d4d" font-weight="normal" stroke="#4d4d4d" stroke-width="0.068">2</text>
<line x1="439.7" y1="228.30" x2="441.7" y2="228.30" stroke="#888" stroke-width="0.7"/>
<text x="438.70" y="230.50" font-size="6.3" text-anchor="end" fill="#4d4d4d" font-weight="normal" stroke="#4d4d4d" stroke-width="0.068">4</text>
<line x1="439.7" y1="202.40" x2="441.7" y2="202.40" stroke="#888" stroke-width="0.7"/>
<text x="438.70" y="204.60" font-size="6.3" text-anchor="end" fill="#4d4d4d" font-weight="normal" stroke="#4d4d4d" stroke-width="0.068">6</text>
<text x="488.95" y="289.2" font-size="9" text-anchor="middle" stroke="#000" stroke-width="0.098"><tspan font-style="italic">PGF</tspan> (log TPM)</text>
<text x="531.70" y="258.60" font-size="8" text-anchor="end" fill="#ff0000" font-weight="normal" stroke="#ff0000" stroke-width="0.039">r = 0.159</text>
<text x="531.70" y="265.90" font-size="8" text-anchor="end" fill="#ff0000" font-weight="normal" stroke="#ff0000" stroke-width="0.039">p = 3.02e−03</text>
<text x="16.2" y="226.4" font-size="9" text-anchor="middle" stroke="#000" stroke-width="0.130" transform="rotate(-90 16.2 226.4)"><tspan font-style="italic">ITGA6</tspan> (log TPM)</text>
<rect x="66.5" y="324.0" width="195.5" height="185.3" fill="none" stroke="#666" stroke-width="1"/>
<line x1="62.1" y1="502.40" x2="66.5" y2="502.40" stroke="#555" stroke-width="1"/>
<text x="54.20" y="502.40" font-size="11.8" text-anchor="middle" stroke="#000" stroke-width="0.090" transform="rotate(-90 54.20 502.40)">0.0</text>
<line x1="62.1" y1="468.06" x2="66.5" y2="468.06" stroke="#555" stroke-width="1"/>
<text x="54.20" y="468.06" font-size="11.8" text-anchor="middle" stroke="#000" stroke-width="0.090" transform="rotate(-90 54.20 468.06)">0.2</text>
<line x1="62.1" y1="433.72" x2="66.5" y2="433.72" stroke="#555" stroke-width="1"/>
<text x="54.20" y="433.72" font-size="11.8" text-anchor="middle" stroke="#000" stroke-width="0.090" transform="rotate(-90 54.20 433.72)">0.4</text>
<line x1="62.1" y1="399.38" x2="66.5" y2="399.38" stroke="#555" stroke-width="1"/>
<text x="54.20" y="399.38" font-size="11.8" text-anchor="middle" stroke="#000" stroke-width="0.090" transform="rotate(-90 54.20 399.38)">0.6</text>
<line x1="62.1" y1="365.04" x2="66.5" y2="365.04" stroke="#555" stroke-width="1"/>
<text x="54.20" y="365.04" font-size="11.8" text-anchor="middle" stroke="#000" stroke-width="0.090" transform="rotate(-90 54.20 365.04)">0.8</text>
<line x1="62.1" y1="330.70" x2="66.5" y2="330.70" stroke="#555" stroke-width="1"/>
<text x="54.20" y="330.70" font-size="11.8" text-anchor="middle" stroke="#000" stroke-width="0.090" transform="rotate(-90 54.20 330.70)">1.0</text>
<line x1="66.50" y1="509.3" x2="66.50" y2="513.7" stroke="#555" stroke-width="1"/>
<text x="66.50" y="527.50" font-size="11.8" text-anchor="middle" fill="#000" font-weight="normal" stroke="#000" stroke-width="0.118">0</text>
<line x1="97.02" y1="509.3" x2="97.02" y2="513.7" stroke="#555" stroke-width="1"/>
<text x="97.02" y="527.50" font-size="11.8" text-anchor="middle" fill="#000" font-weight="normal" stroke="#000" stroke-width="0.118">20</text>
<line x1="127.54" y1="509.3" x2="127.54" y2="513.7" stroke="#555" stroke-width="1"/>
<text x="127.54" y="527.50" font-size="11.8" text-anchor="middle" fill="#000" font-weight="normal" stroke="#000" stroke-width="0.118">40</text>
<line x1="158.06" y1="509.3" x2="158.06" y2="513.7" stroke="#555" stroke-width="1"/>
<text x="158.06" y="527.50" font-size="11.8" text-anchor="middle" fill="#000" font-weight="normal" stroke="#000" stroke-width="0.118">60</text>
<line x1="188.58" y1="509.3" x2="188.58" y2="513.7" stroke="#555" stroke-width="1"/>
<text x="188.58" y="527.50" font-size="11.8" text-anchor="middle" fill="#000" font-weight="normal" stroke="#000" stroke-width="0.118">80</text>
<line x1="219.10" y1="509.3" x2="219.10" y2="513.7" stroke="#555" stroke-width="1"/>
<text x="219.10" y="527.50" font-size="11.8" text-anchor="middle" fill="#000" font-weight="normal" stroke="#000" stroke-width="0.118">100</text>
<line x1="249.62" y1="509.3" x2="249.62" y2="513.7" stroke="#555" stroke-width="1"/>
<text x="249.62" y="527.50" font-size="11.8" text-anchor="middle" fill="#000" font-weight="normal" stroke="#000" stroke-width="0.118">120</text>
<text x="166.40" y="318.60" font-size="12.1" text-anchor="middle" fill="#000" font-weight="normal" stroke="#000" stroke-width="0.121">Overall Survival</text>
<text x="34.90" y="413.3" font-size="11.85" text-anchor="middle" stroke="#000" stroke-width="0.090" transform="rotate(-90 34.90 413.3)">Percent survival</text>
<text x="166.25" y="544.50" font-size="12.0" text-anchor="middle" fill="#000" font-weight="normal" stroke="#000" stroke-width="0.120">Months</text>
<polyline points="66.6,330.8 69.2,330.8 69.2,333.3 71.9,333.3 71.9,335.9 74.5,335.9 74.5,337.3 77.1,337.3 77.1,338.7 79.7,338.7 79.7,341.2 82.4,341.2 82.4,345.1 85.0,345.1 85.0,349.1 87.6,349.1 87.6,351.7 90.2,351.7 90.2,354.3 92.9,354.3 92.9,356.9 95.5,356.9 95.5,358.9 98.1,358.9 98.1,362.2 100.8,362.2 100.8,368.9 103.4,368.9 103.4,371.5 106.0,371.5 106.0,374.1 108.6,374.1 108.6,376.3 111.3,376.3 111.3,377.8 113.9,377.8 113.9,379.3 116.5,379.3 116.5,379.9 119.1,379.9 119.1,380.2 121.8,380.2 121.8,380.4 124.4,380.4 124.4,380.6 127.0,380.6 127.0,381.0 129.7,381.0 129.7,385.4 132.3,385.4 132.3,386.5 134.9,386.5 134.9,387.2 137.5,387.2 137.5,387.9 140.2,387.9 140.2,388.7 142.8,388.7 142.8,389.1 145.4,389.1 145.4,389.4 148.0,389.4 148.0,389.7 150.7,389.7 150.7,390.4 153.3,390.4 153.3,393.1 153.3,403.1 174.3,403.1 175.4,408.6 176.5,408.6 176.5,417.5 193.1,417.5 193.1,431.8 196.0,431.8 196.0,445.7 226.9,445.7 226.9,460.6 256.1,460.6" fill="none" stroke="#0000ff" stroke-width="1.25" stroke-linejoin="miter"/>
<path d="M67.8,334h4.4M70,331.4v5.2" stroke="#0000ff" stroke-width="0.9"/>
<path d="M74.8,338h4.4M77,335.4v5.2" stroke="#0000ff" stroke-width="0.9"/>
<path d="M81.8,347h4.4M84,344.4v5.2" stroke="#0000ff" stroke-width="0.9"/>
<path d="M93.8,359h4.4M96,356.4v5.2" stroke="#0000ff" stroke-width="0.9"/>
<path d="M107.8,378h4.4M110,375.4v5.2" stroke="#0000ff" stroke-width="0.9"/>
<path d="M115.8,380h4.4M118,377.4v5.2" stroke="#0000ff" stroke-width="0.9"/>
<path d="M121.8,380h4.4M124,377.4v5.2" stroke="#0000ff" stroke-width="0.9"/>
<path d="M133.8,388h4.4M136,385.4v5.2" stroke="#0000ff" stroke-width="0.9"/>
<path d="M142.8,389h4.4M145,386.4v5.2" stroke="#0000ff" stroke-width="0.9"/>
<path d="M145.8,389h4.4M148,386.4v5.2" stroke="#0000ff" stroke-width="0.9"/>
<path d="M157.8,403h4.4M160,400.4v5.2" stroke="#0000ff" stroke-width="0.9"/>
<path d="M160.8,403h4.4M163,400.4v5.2" stroke="#0000ff" stroke-width="0.9"/>
<path d="M162.8,403h4.4M165,400.4v5.2" stroke="#0000ff" stroke-width="0.9"/>
<path d="M164.8,403h4.4M167,400.4v5.2" stroke="#0000ff" stroke-width="0.9"/>
<path d="M166.8,403h4.4M169,400.4v5.2" stroke="#0000ff" stroke-width="0.9"/>
<path d="M176.8,417.5h4.4M179,414.9v5.2" stroke="#0000ff" stroke-width="0.9"/>
<path d="M179.8,417.5h4.4M182,414.9v5.2" stroke="#0000ff" stroke-width="0.9"/>
<path d="M181.8,417.5h4.4M184,414.9v5.2" stroke="#0000ff" stroke-width="0.9"/>
<path d="M233.8,460.6h4.4M236,458.0v5.2" stroke="#0000ff" stroke-width="0.9"/>
<path d="M240.8,460.6h4.4M243,458.0v5.2" stroke="#0000ff" stroke-width="0.9"/>
<path d="M250.8,460.6h4.4M253,458.0v5.2" stroke="#0000ff" stroke-width="0.9"/>
<polyline points="66.6,330.8 68.8,330.8 68.8,336.9 71.0,336.9 71.0,343.0 73.2,343.0 73.2,348.3 75.4,348.3 75.4,352.6 77.6,352.6 77.6,355.2 79.8,355.2 79.8,357.9 82.0,357.9 82.0,360.2 84.2,360.2 84.2,362.4 86.4,362.4 86.4,368.7 88.6,368.7 88.6,372.5 90.7,372.5 90.7,375.9 92.9,375.9 92.9,377.2 95.1,377.2 95.1,378.6 97.3,378.6 97.3,380.2 99.5,380.2 99.5,381.8 101.7,381.8 101.7,384.4 103.9,384.4 103.9,386.9 106.1,386.9 106.1,389.8 108.3,389.8 108.3,393.7 110.5,393.7 110.5,396.7 112.7,396.7 112.7,398.4 114.9,398.4 114.9,400.1 117.1,400.1 117.1,400.8 119.3,400.8 119.3,401.5 121.5,401.5 121.5,402.9 123.7,402.9 123.7,405.7 125.9,405.7 125.9,408.2 128.1,408.2 128.1,410.4 130.3,410.4 130.3,412.4 132.5,412.4 132.5,413.3 134.7,413.3 134.7,414.2 136.9,414.2 136.9,415.1 139.0,415.1 139.0,417.9 141.2,417.9 141.2,420.8 143.4,420.8 143.4,423.5 145.6,423.5 145.6,425.0 147.8,425.0 147.8,426.5 150.0,426.5 150.0,427.8 152.2,427.8 152.2,428.8 154.4,428.8 154.4,429.7 156.6,429.7 156.6,430.7 158.8,430.7 158.8,433.8 161.0,433.8 161.0,436.9 190.9,436.9 190.9,442.9 196.0,442.9 196.0,453.3 232.9,453.3 232.9,477.6 242.8,477.6" fill="none" stroke="#ff0000" stroke-width="1.25" stroke-linejoin="miter"/>
<path d="M76.8,358h4.4M79,355.4v5.2" stroke="#ff0000" stroke-width="0.9"/>
<path d="M95.8,381h4.4M98,378.4v5.2" stroke="#ff0000" stroke-width="0.9"/>
<path d="M106.8,396h4.4M109,393.4v5.2" stroke="#ff0000" stroke-width="0.9"/>
<path d="M109.8,398h4.4M112,395.4v5.2" stroke="#ff0000" stroke-width="0.9"/>
<path d="M117.8,402h4.4M120,399.4v5.2" stroke="#ff0000" stroke-width="0.9"/>
<path d="M120.8,404h4.4M123,401.4v5.2" stroke="#ff0000" stroke-width="0.9"/>
<path d="M134.8,415h4.4M137,412.4v5.2" stroke="#ff0000" stroke-width="0.9"/>
<path d="M142.8,424h4.4M145,421.4v5.2" stroke="#ff0000" stroke-width="0.9"/>
<path d="M152.8,430h4.4M155,427.4v5.2" stroke="#ff0000" stroke-width="0.9"/>
<path d="M167.8,436.9h4.4M170,434.29999999999995v5.2" stroke="#ff0000" stroke-width="0.9"/>
<path d="M182.8,436.9h4.4M185,434.29999999999995v5.2" stroke="#ff0000" stroke-width="0.9"/>
<path d="M185.8,436.9h4.4M188,434.29999999999995v5.2" stroke="#ff0000" stroke-width="0.9"/>
<path d="M202.8,453.3h4.4M205,450.7v5.2" stroke="#ff0000" stroke-width="0.9"/>
<path d="M204.8,453.3h4.4M207,450.7v5.2" stroke="#ff0000" stroke-width="0.9"/>
<path d="M238.8,477.6h4.4M241,475.0v5.2" stroke="#ff0000" stroke-width="0.9"/>
<line x1="124.80" y1="330.6" x2="143.30" y2="330.6" stroke="#0000ff" stroke-width="1.25"/>
<line x1="124.80" y1="340.6" x2="143.30" y2="340.6" stroke="#ff0000" stroke-width="1.25"/>
<text x="147.50" y="334.30" font-size="9.7" text-anchor="start" fill="#000" font-weight="normal" stroke="#000" stroke-width="0.097">Low 6 Signatures Group</text>
<text x="147.50" y="344.10" font-size="9.7" text-anchor="start" fill="#000" font-weight="normal" stroke="#000" stroke-width="0.097">High 6 Signatures Group</text>
<text x="253.00" y="355.60" font-size="9.7" text-anchor="end" fill="#000" font-weight="normal" stroke="#000" stroke-width="0.097">Logrank p=0.0057</text>
<text x="253.00" y="367.00" font-size="9.7" text-anchor="end" fill="#000" font-weight="normal" stroke="#000" stroke-width="0.097">HR(high)=1.6</text>
<rect x="329.8" y="324.0" width="194.99999999999994" height="185.3" fill="none" stroke="#666" stroke-width="1"/>
<line x1="325.40000000000003" y1="502.40" x2="329.8" y2="502.40" stroke="#555" stroke-width="1"/>
<text x="317.50" y="502.40" font-size="11.8" text-anchor="middle" stroke="#000" stroke-width="0.090" transform="rotate(-90 317.50 502.40)">0.0</text>
<line x1="325.40000000000003" y1="468.06" x2="329.8" y2="468.06" stroke="#555" stroke-width="1"/>
<text x="317.50" y="468.06" font-size="11.8" text-anchor="middle" stroke="#000" stroke-width="0.090" transform="rotate(-90 317.50 468.06)">0.2</text>
<line x1="325.40000000000003" y1="433.72" x2="329.8" y2="433.72" stroke="#555" stroke-width="1"/>
<text x="317.50" y="433.72" font-size="11.8" text-anchor="middle" stroke="#000" stroke-width="0.090" transform="rotate(-90 317.50 433.72)">0.4</text>
<line x1="325.40000000000003" y1="399.38" x2="329.8" y2="399.38" stroke="#555" stroke-width="1"/>
<text x="317.50" y="399.38" font-size="11.8" text-anchor="middle" stroke="#000" stroke-width="0.090" transform="rotate(-90 317.50 399.38)">0.6</text>
<line x1="325.40000000000003" y1="365.04" x2="329.8" y2="365.04" stroke="#555" stroke-width="1"/>
<text x="317.50" y="365.04" font-size="11.8" text-anchor="middle" stroke="#000" stroke-width="0.090" transform="rotate(-90 317.50 365.04)">0.8</text>
<line x1="325.40000000000003" y1="330.70" x2="329.8" y2="330.70" stroke="#555" stroke-width="1"/>
<text x="317.50" y="330.70" font-size="11.8" text-anchor="middle" stroke="#000" stroke-width="0.090" transform="rotate(-90 317.50 330.70)">1.0</text>
<line x1="329.70" y1="509.3" x2="329.70" y2="513.7" stroke="#555" stroke-width="1"/>
<text x="329.70" y="527.50" font-size="11.8" text-anchor="middle" fill="#000" font-weight="normal" stroke="#000" stroke-width="0.118">0</text>
<line x1="360.15" y1="509.3" x2="360.15" y2="513.7" stroke="#555" stroke-width="1"/>
<text x="360.15" y="527.50" font-size="11.8" text-anchor="middle" fill="#000" font-weight="normal" stroke="#000" stroke-width="0.118">20</text>
<line x1="390.60" y1="509.3" x2="390.60" y2="513.7" stroke="#555" stroke-width="1"/>
<text x="390.60" y="527.50" font-size="11.8" text-anchor="middle" fill="#000" font-weight="normal" stroke="#000" stroke-width="0.118">40</text>
<line x1="421.05" y1="509.3" x2="421.05" y2="513.7" stroke="#555" stroke-width="1"/>
<text x="421.05" y="527.50" font-size="11.8" text-anchor="middle" fill="#000" font-weight="normal" stroke="#000" stroke-width="0.118">60</text>
<line x1="451.50" y1="509.3" x2="451.50" y2="513.7" stroke="#555" stroke-width="1"/>
<text x="451.50" y="527.50" font-size="11.8" text-anchor="middle" fill="#000" font-weight="normal" stroke="#000" stroke-width="0.118">80</text>
<line x1="481.95" y1="509.3" x2="481.95" y2="513.7" stroke="#555" stroke-width="1"/>
<text x="481.95" y="527.50" font-size="11.8" text-anchor="middle" fill="#000" font-weight="normal" stroke="#000" stroke-width="0.118">100</text>
<line x1="512.40" y1="509.3" x2="512.40" y2="513.7" stroke="#555" stroke-width="1"/>
<text x="512.40" y="527.50" font-size="11.8" text-anchor="middle" fill="#000" font-weight="normal" stroke="#000" stroke-width="0.118">120</text>
<text x="427.40" y="318.60" font-size="12.1" text-anchor="middle" fill="#000" font-weight="normal" stroke="#000" stroke-width="0.121">Disease Free Survival</text>
<text x="298.20" y="413.3" font-size="11.85" text-anchor="middle" stroke="#000" stroke-width="0.090" transform="rotate(-90 298.20 413.3)">Percent survival</text>
<text x="429.30" y="544.50" font-size="12.0" text-anchor="middle" fill="#000" font-weight="normal" stroke="#000" stroke-width="0.120">Months</text>
<polyline points="329.9,330.8 331.4,330.8 331.4,331.5 332.9,331.5 332.9,332.1 334.4,332.1 334.4,338.8 335.9,338.8 335.9,346.2 337.4,346.2 337.4,353.3 338.9,353.3 338.9,359.4 340.4,359.4 340.4,365.5 341.9,365.5 341.9,370.1 343.4,370.1 343.4,373.1 344.9,373.1 344.9,376.9 346.4,376.9 346.4,381.1 347.9,381.1 347.9,384.1 349.5,384.1 349.5,385.5 351.0,385.5 351.0,386.4 352.5,386.4 352.5,387.3 354.0,387.3 354.0,389.2 355.5,389.2 355.5,392.8 357.0,392.8 357.0,395.3 358.5,395.3 358.5,396.2 360.0,396.2 360.0,397.1 361.5,397.1 361.5,398.0 363.0,398.0 363.0,399.5 364.5,399.5 364.5,401.0 366.0,401.0 366.0,402.5 367.5,402.5 367.5,403.8 369.0,403.8 369.0,405.2 370.5,405.2 370.5,406.6 372.0,406.6 372.0,408.0 373.5,408.0 373.5,409.4 375.0,409.4 375.0,410.2 376.5,410.2 376.5,410.4 378.0,410.4 378.0,410.6 379.5,410.6 379.5,410.9 381.0,410.9 381.0,411.1 382.5,411.1 382.5,413.0 384.0,413.0 384.0,414.4 385.6,414.4 385.6,414.8 387.1,414.8 387.1,415.3 388.6,415.3 388.6,415.7 390.1,415.7 390.1,416.1 391.6,416.1 391.6,417.0 393.1,417.0 393.1,418.0 394.6,418.0 394.6,421.1 396.1,421.1 396.1,423.5 397.6,423.5 397.6,424.0 399.1,424.0 399.1,424.5 400.6,424.5 400.6,425.0 402.1,425.0 402.1,426.2 403.6,426.2 403.6,428.4 412.7,428.4 412.7,432.4 416.7,432.4 416.7,438.9 518.0,438.9" fill="none" stroke="#0000ff" stroke-width="1.25" stroke-linejoin="miter"/>
<path d="M333.8,345h4.4M336,342.4v5.2" stroke="#0000ff" stroke-width="0.9"/>
<path d="M337.8,362h4.4M340,359.4v5.2" stroke="#0000ff" stroke-width="0.9"/>
<path d="M349.8,386h4.4M352,383.4v5.2" stroke="#0000ff" stroke-width="0.9"/>
<path d="M359.8,398h4.4M362,395.4v5.2" stroke="#0000ff" stroke-width="0.9"/>
<path d="M363.8,402h4.4M366,399.4v5.2" stroke="#0000ff" stroke-width="0.9"/>
<path d="M366.8,405h4.4M369,402.4v5.2" stroke="#0000ff" stroke-width="0.9"/>
<path d="M382.8,414h4.4M385,411.4v5.2" stroke="#0000ff" stroke-width="0.9"/>
<path d="M389.8,417h4.4M392,414.4v5.2" stroke="#0000ff" stroke-width="0.9"/>
<path d="M393.8,422h4.4M396,419.4v5.2" stroke="#0000ff" stroke-width="0.9"/>
<path d="M397.8,425h4.4M400,422.4v5.2" stroke="#0000ff" stroke-width="0.9"/>
<path d="M401.8,427h4.4M404,424.4v5.2" stroke="#0000ff" stroke-width="0.9"/>
<path d="M408.8,428.4h4.4M411,425.79999999999995v5.2" stroke="#0000ff" stroke-width="0.9"/>
<path d="M424.8,438.9h4.4M427,436.29999999999995v5.2" stroke="#0000ff" stroke-width="0.9"/>
<path d="M426.8,438.9h4.4M429,436.29999999999995v5.2" stroke="#0000ff" stroke-width="0.9"/>
<path d="M428.8,438.9h4.4M431,436.29999999999995v5.2" stroke="#0000ff" stroke-width="0.9"/>
<path d="M437.8,438.9h4.4M440,436.29999999999995v5.2" stroke="#0000ff" stroke-width="0.9"/>
<path d="M445.8,438.9h4.4M448,436.29999999999995v5.2" stroke="#0000ff" stroke-width="0.9"/>
<path d="M448.8,438.9h4.4M451,436.29999999999995v5.2" stroke="#0000ff" stroke-width="0.9"/>
<path d="M454.8,438.9h4.4M457,436.29999999999995v5.2" stroke="#0000ff" stroke-width="0.9"/>
<path d="M504.8,438.9h4.4M507,436.29999999999995v5.2" stroke="#0000ff" stroke-width="0.9"/>
<path d="M514.8,438.9h4.4M517,436.29999999999995v5.2" stroke="#0000ff" stroke-width="0.9"/>
<polyline points="329.9,330.8 331.4,330.8 331.4,332.9 332.8,332.9 332.8,334.9 334.3,334.9 334.3,337.0 335.7,337.0 335.7,340.2 337.2,340.2 337.2,345.0 338.6,345.0 338.6,350.9 340.1,350.9 340.1,359.7 341.5,359.7 341.5,365.9 343.0,365.9 343.0,371.0 344.4,371.0 344.4,375.6 345.9,375.6 345.9,381.2 347.3,381.2 347.3,387.0 348.8,387.0 348.8,392.6 350.2,392.6 350.2,397.5 351.7,397.5 351.7,401.8 353.2,401.8 353.2,404.7 354.6,404.7 354.6,407.5 356.1,407.5 356.1,410.4 357.5,410.4 357.5,413.4 359.0,413.4 359.0,416.0 360.4,416.0 360.4,417.9 361.9,417.9 361.9,420.6 363.3,420.6 363.3,424.5 364.8,424.5 364.8,425.5 366.2,425.5 366.2,426.4 367.7,426.4 367.7,427.9 369.1,427.9 369.1,429.4 370.6,429.4 370.6,430.8 372.1,430.8 372.1,431.8 373.5,431.8 373.5,432.9 375.0,432.9 375.0,435.7 376.4,435.7 376.4,439.5 377.9,439.5 377.9,439.7 379.3,439.7 379.3,439.9 380.8,439.9 380.8,440.1 382.2,440.1 382.2,440.2 383.7,440.2 383.7,440.4 385.1,440.4 385.1,442.2 386.6,442.2 386.6,444.8 388.0,444.8 388.0,445.9 389.5,445.9 389.5,446.9 390.9,446.9 390.9,448.1 392.4,448.1 392.4,449.6 403.6,449.6 403.6,453.7 407.6,453.7 407.6,457.7 414.7,457.7 414.7,460.8 419.8,460.8 419.8,465.8 439.0,465.8 439.0,472.1 495.5,472.1" fill="none" stroke="#ff0000" stroke-width="1.25" stroke-linejoin="miter"/>
<path d="M345.8,390h4.4M348,387.4v5.2" stroke="#ff0000" stroke-width="0.9"/>
<path d="M362.8,425h4.4M365,422.4v5.2" stroke="#ff0000" stroke-width="0.9"/>
<path d="M368.8,430h4.4M371,427.4v5.2" stroke="#ff0000" stroke-width="0.9"/>
<path d="M381.8,440.5h4.4M384,437.9v5.2" stroke="#ff0000" stroke-width="0.9"/>
<path d="M384.8,445h4.4M387,442.4v5.2" stroke="#ff0000" stroke-width="0.9"/>
<path d="M388.8,448h4.4M391,445.4v5.2" stroke="#ff0000" stroke-width="0.9"/>
<path d="M393.8,449.6h4.4M396,447.0v5.2" stroke="#ff0000" stroke-width="0.9"/>
<path d="M397.8,449.6h4.4M400,447.0v5.2" stroke="#ff0000" stroke-width="0.9"/>
<path d="M418.8,465.8h4.4M421,463.2v5.2" stroke="#ff0000" stroke-width="0.9"/>
<path d="M431.8,465.8h4.4M434,463.2v5.2" stroke="#ff0000" stroke-width="0.9"/>
<path d="M446.8,472.1h4.4M449,469.5v5.2" stroke="#ff0000" stroke-width="0.9"/>
<path d="M449.8,472.1h4.4M452,469.5v5.2" stroke="#ff0000" stroke-width="0.9"/>
<path d="M452.8,472.1h4.4M455,469.5v5.2" stroke="#ff0000" stroke-width="0.9"/>
<path d="M455.8,472.1h4.4M458,469.5v5.2" stroke="#ff0000" stroke-width="0.9"/>
<path d="M492.8,472.1h4.4M495,469.5v5.2" stroke="#ff0000" stroke-width="0.9"/>
<line x1="388.80" y1="330.6" x2="407.30" y2="330.6" stroke="#0000ff" stroke-width="1.25"/>
<line x1="388.80" y1="340.6" x2="407.30" y2="340.6" stroke="#ff0000" stroke-width="1.25"/>
<text x="411.50" y="334.30" font-size="9.7" text-anchor="start" fill="#000" font-weight="normal" stroke="#000" stroke-width="0.097">Low 6 Signatures Group</text>
<text x="411.50" y="344.10" font-size="9.7" text-anchor="start" fill="#000" font-weight="normal" stroke="#000" stroke-width="0.097">High 6 Signatures Group</text>
<text x="517.30" y="355.60" font-size="9.7" text-anchor="end" fill="#000" font-weight="normal" stroke="#000" stroke-width="0.097">Logrank p=0.045</text>
<text x="517.30" y="367.00" font-size="9.7" text-anchor="end" fill="#000" font-weight="normal" stroke="#000" stroke-width="0.097">HR(high)=1.4</text>
</svg></body></html>
